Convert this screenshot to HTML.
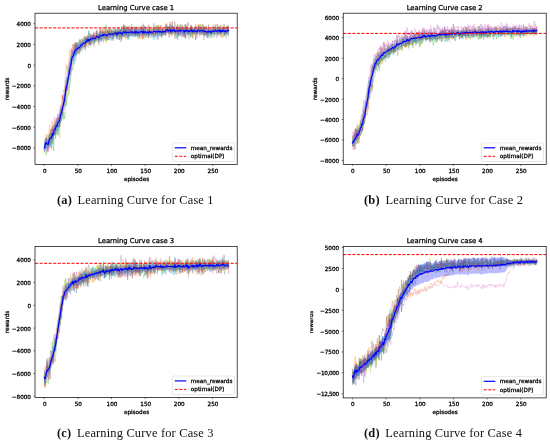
<!DOCTYPE html>
<html><head><meta charset="utf-8"><title>Learning Curves</title>
<style>
html,body{margin:0;padding:0;background:#fff;}
body{width:550px;height:444px;position:relative;overflow:hidden;}
svg{position:absolute;left:0;top:0;display:block;}
.cap{position:absolute;font-family:"Liberation Serif","DejaVu Serif",serif;font-size:11.6px;line-height:16px;letter-spacing:0.15px;color:#111;white-space:nowrap;transform-origin:0 0;}
.cap b{font-weight:bold;margin-right:2.2px;}
</style></head><body>
<svg width="550" height="444" viewBox="0 0 550 444" font-family="'DejaVu Sans', 'Liberation Sans', sans-serif" fill="#000"><style>text{stroke:#000;stroke-width:0.26px;text-rendering:geometricPrecision;}</style>
<clipPath id="clip1"><rect x="35" y="13.2" width="202.2" height="151.2"/></clipPath>
<g clip-path="url(#clip1)">
<polyline points="44.2,151.6 44.9,150 45.5,146.4 46.2,137.8 46.9,142.5 47.6,145.8 48.2,148.3 48.9,147.6 49.6,135.7 50.3,139.8 50.9,140.9 51.6,141.7 52.3,143.5 53,137.3 53.6,131.6 54.3,135.8 55,133.6 55.6,131.8 56.3,128.6 57,134.7 57.7,127.2 58.3,128.4 59,118.5 59.7,124.7 60.4,116.3 61,109.3 61.7,115.5 62.4,114 63.1,107.7 63.7,105.4 64.4,106.4 65.1,96 65.8,85.2 66.4,91.7 67.1,87.4 67.8,87 68.4,77 69.1,80.2 69.8,75.9 70.5,62.2 71.1,68.4 71.8,56.6 72.5,51.9 73.2,55 73.8,51.4 74.5,44.2 75.2,52.1 75.9,52.8 76.5,55.2 77.2,49.4 77.9,43 78.5,44.5 79.2,50.9 79.9,49.9 80.6,48.2 81.2,44.8 81.9,46.2 82.6,44.2 83.3,43.4 83.9,45 84.6,43.5 85.3,42.2 86,42.6 86.6,40.3 87.3,35.3 88,39.3 88.7,40.7 89.3,45.7 90,38.4 90.7,45.8 91.3,43.5 92,35.6 92.7,35.9 93.4,38.6 94,43.8 94.7,39.1 95.4,40.1 96.1,35.8 96.7,30.6 97.4,37.1 98.1,40.1 98.8,40.9 99.4,37.1 100.1,37.4 100.8,40.2 101.4,35.8 102.1,39.6 102.8,32.3 103.5,32.2 104.1,31.9 104.8,37.1 105.5,33.7 106.2,35.9 106.8,36.7 107.5,36.5 108.2,39.4 108.9,39.7 109.5,32 110.2,34.8 110.9,33.4 111.5,30.6 112.2,39.7 112.9,37 113.6,33.6 114.2,33 114.9,35.3 115.6,31 116.3,33.4 116.9,38 117.6,37 118.3,31.4 119,32.5 119.6,39.9 120.3,29.3 121,31.5 121.7,29.1 122.3,34.5 123,34.5 123.7,37 124.3,25.4 125,33.9 125.7,28.3 126.4,35.3 127,32.7 127.7,38.4 128.4,33.9 129.1,29.5 129.7,36.4 130.4,29.1 131.1,31.4 131.8,35.9 132.4,34.2 133.1,33.8 133.8,32.7 134.4,34.6 135.1,35.6 135.8,33.7 136.5,36 137.1,36.8 137.8,32.9 138.5,29.7 139.2,37.5 139.8,32.5 140.5,34.5 141.2,35.6 141.9,29.9 142.5,34.1 143.2,27.9 143.9,35.1 144.6,31.3 145.2,33.2 145.9,34.8 146.6,30.7 147.2,33.1 147.9,30.5 148.6,32.4 149.3,35.4 149.9,32.6 150.6,32 151.3,29.1 152,34.8 152.6,32.3 153.3,37.4 154,29.9 154.7,35.1 155.3,36.9 156,31.5 156.7,28 157.3,36.3 158,34.7 158.7,33.5 159.4,34.6 160,29.8 160.7,33.2 161.4,32.6 162.1,28.6 162.7,32.8 163.4,28.9 164.1,33.4 164.8,33.9 165.4,35.7 166.1,24.2 166.8,30.6 167.5,28.6 168.1,29.6 168.8,29.4 169.5,29.7 170.1,24.1 170.8,33.1 171.5,34.3 172.2,33 172.8,34.4 173.5,28 174.2,27.8 174.9,33.4 175.5,34.8 176.2,31.9 176.9,26.7 177.6,39.8 178.2,29.5 178.9,34.7 179.6,28.3 180.2,34.9 180.9,32.6 181.6,36.7 182.3,35 182.9,27.7 183.6,29.7 184.3,33.2 185,34.7 185.6,37.9 186.3,33.1 187,31.4 187.7,31.8 188.3,31.7 189,34.8 189.7,31.6 190.3,31.6 191,27.5 191.7,25.6 192.4,31.5 193,33.2 193.7,31.2 194.4,32.6 195.1,33.1 195.7,31.2 196.4,34.1 197.1,29.3 197.8,31.8 198.4,30.8 199.1,31.8 199.8,33.5 200.5,34.3 201.1,32.6 201.8,33.2 202.5,31 203.1,31.7 203.8,35.8 204.5,31.3 205.2,35.4 205.8,33.2 206.5,32.3 207.2,37.7 207.9,31.2 208.5,31.3 209.2,32 209.9,32.7 210.6,32.5 211.2,34 211.9,31.7 212.6,32.3 213.2,30.4 213.9,34.2 214.6,29.8 215.3,29.9 215.9,31.2 216.6,32.1 217.3,29.2 218,35.7 218.6,29.6 219.3,30.4 220,30.4 220.7,30 221.3,32.9 222,31.8 222.7,28.9 223.4,29.7 224,30.3 224.7,35.5 225.4,29.4 226,27.2 226.7,27.8 227.4,30.2 228.1,35.3 228.7,28.1" fill="none" stroke="#1f77b4" stroke-opacity="0.5" stroke-width="0.6" stroke-linejoin="round"/>
<polyline points="44.2,144.3 44.9,142.8 45.5,141.5 46.2,134.3 46.9,137.7 47.6,134.5 48.2,142.7 48.9,131.7 49.6,124.8 50.3,130.1 50.9,131.6 51.6,130.7 52.3,121.4 53,133 53.6,128.3 54.3,124.4 55,121.5 55.6,125.7 56.3,120.6 57,121.5 57.7,117.5 58.3,117.2 59,119.9 59.7,112.3 60.4,105.2 61,110.3 61.7,103.1 62.4,94.9 63.1,99.1 63.7,89.5 64.4,91.3 65.1,77.2 65.8,67.8 66.4,64.9 67.1,71.3 67.8,63.2 68.4,62.5 69.1,59.3 69.8,50.2 70.5,60 71.1,48 71.8,51.6 72.5,43.9 73.2,48 73.8,50.7 74.5,46.5 75.2,44.4 75.9,46.8 76.5,44.6 77.2,48.4 77.9,54 78.5,41.7 79.2,41.9 79.9,43.7 80.6,43.6 81.2,39.7 81.9,44.3 82.6,44.9 83.3,43 83.9,37.8 84.6,46.3 85.3,37.1 86,42.7 86.6,43.9 87.3,35.8 88,40.2 88.7,43.6 89.3,40.3 90,35.9 90.7,34.6 91.3,39.1 92,36.1 92.7,34.9 93.4,39.2 94,35.4 94.7,36.6 95.4,38.2 96.1,38 96.7,35.8 97.4,35.7 98.1,37.7 98.8,37.1 99.4,31.9 100.1,34.8 100.8,32.3 101.4,31.1 102.1,32.8 102.8,27.4 103.5,37.2 104.1,31.8 104.8,35.6 105.5,28.9 106.2,29.4 106.8,41.1 107.5,38 108.2,32.8 108.9,32.3 109.5,32.1 110.2,34.9 110.9,33.3 111.5,32.5 112.2,34.1 112.9,30.1 113.6,40.8 114.2,31.1 114.9,36.1 115.6,29.7 116.3,33.7 116.9,35.5 117.6,31.4 118.3,35.3 119,35.3 119.6,37 120.3,31.9 121,30.1 121.7,28.2 122.3,32.1 123,28.2 123.7,31.6 124.3,31.6 125,29.2 125.7,27.6 126.4,32.6 127,32.4 127.7,32.2 128.4,31.5 129.1,35 129.7,28.8 130.4,33.6 131.1,30.8 131.8,34.9 132.4,31.1 133.1,30.6 133.8,33.4 134.4,26.1 135.1,31.5 135.8,27.3 136.5,29.6 137.1,34.8 137.8,34.1 138.5,31.5 139.2,33 139.8,32.9 140.5,33.7 141.2,38.6 141.9,33.5 142.5,39.7 143.2,31.5 143.9,35.2 144.6,34.8 145.2,33.1 145.9,31.3 146.6,36.6 147.2,37.7 147.9,35.7 148.6,38.2 149.3,34.7 149.9,26.5 150.6,34.8 151.3,29.4 152,35.5 152.6,30.3 153.3,32.1 154,31.4 154.7,29.1 155.3,25.3 156,30.2 156.7,30.2 157.3,33.4 158,28.5 158.7,31.1 159.4,27.8 160,30.8 160.7,25.4 161.4,36.8 162.1,31.5 162.7,28 163.4,31.9 164.1,33 164.8,31.6 165.4,35.1 166.1,30.5 166.8,23.2 167.5,26.9 168.1,33.6 168.8,33.4 169.5,31.8 170.1,27.5 170.8,33.2 171.5,32.8 172.2,28 172.8,28.3 173.5,32.3 174.2,34.8 174.9,36.2 175.5,33.8 176.2,38.3 176.9,29 177.6,33.1 178.2,30.2 178.9,25.8 179.6,27.9 180.2,35.1 180.9,29 181.6,28.3 182.3,34.5 182.9,34.8 183.6,32.4 184.3,36.8 185,27.4 185.6,39.1 186.3,35 187,32.1 187.7,31.8 188.3,30.4 189,29.9 189.7,31.6 190.3,27.6 191,37.7 191.7,31.2 192.4,33.3 193,30.5 193.7,30.1 194.4,33.5 195.1,32.9 195.7,28.6 196.4,29.7 197.1,32.9 197.8,24.8 198.4,24.1 199.1,35.3 199.8,30.3 200.5,23.7 201.1,28.9 201.8,30.3 202.5,31.8 203.1,32.9 203.8,31.9 204.5,32.7 205.2,29 205.8,32.5 206.5,32.5 207.2,35.1 207.9,31.8 208.5,34.2 209.2,32.2 209.9,28.8 210.6,30.8 211.2,30.3 211.9,30.8 212.6,31.8 213.2,32.5 213.9,32.8 214.6,29.6 215.3,35.2 215.9,28.6 216.6,32.2 217.3,34.5 218,33.8 218.6,34.6 219.3,31.8 220,34.3 220.7,28.7 221.3,34.3 222,38.4 222.7,33.9 223.4,37.4 224,31.1 224.7,27.8 225.4,29.1 226,34.9 226.7,32.9 227.4,25.3 228.1,29.7 228.7,30.9" fill="none" stroke="#ff7f0e" stroke-opacity="0.5" stroke-width="0.6" stroke-linejoin="round"/>
<polyline points="44.2,152.2 44.9,147.2 45.5,145.7 46.2,155.1 46.9,151.5 47.6,149.8 48.2,139.8 48.9,134.7 49.6,139.1 50.3,145 50.9,135.2 51.6,149.3 52.3,133.4 53,142.3 53.6,151 54.3,124.2 55,128.1 55.6,138.9 56.3,131.7 57,132.2 57.7,129.2 58.3,135.4 59,130.4 59.7,123.5 60.4,123 61,116.8 61.7,120.4 62.4,107.8 63.1,119.3 63.7,112.1 64.4,119.1 65.1,113.9 65.8,99 66.4,105.6 67.1,95.8 67.8,94.6 68.4,95.2 69.1,88.3 69.8,85.4 70.5,81.5 71.1,72 71.8,68.6 72.5,70.1 73.2,68 73.8,59.9 74.5,58.7 75.2,51.6 75.9,43 76.5,48.8 77.2,50.9 77.9,50.7 78.5,52.9 79.2,52.4 79.9,52.1 80.6,49.5 81.2,48.6 81.9,43.9 82.6,47.6 83.3,46.2 83.9,48.6 84.6,38.5 85.3,41.8 86,37.2 86.6,40.1 87.3,37.3 88,42.3 88.7,38.4 89.3,31.3 90,43.6 90.7,35.3 91.3,33.6 92,37.5 92.7,35.7 93.4,33.7 94,39.5 94.7,35.6 95.4,40 96.1,39 96.7,38.3 97.4,36.6 98.1,35.4 98.8,34 99.4,39.9 100.1,28.6 100.8,31.3 101.4,32.7 102.1,36.4 102.8,35.5 103.5,33.1 104.1,33.7 104.8,40.7 105.5,31.9 106.2,24.6 106.8,40.5 107.5,30.8 108.2,32.8 108.9,34.4 109.5,29.1 110.2,37.7 110.9,33.4 111.5,28.9 112.2,34.3 112.9,35.2 113.6,33.3 114.2,34.7 114.9,27.5 115.6,35.6 116.3,29.2 116.9,36.2 117.6,29.9 118.3,32.2 119,40 119.6,31.5 120.3,34.9 121,32.7 121.7,26.2 122.3,35 123,34.5 123.7,26.2 124.3,30.4 125,25.4 125.7,29.2 126.4,33.2 127,30.6 127.7,26.5 128.4,27.7 129.1,30.9 129.7,30.7 130.4,31.2 131.1,32.6 131.8,24.1 132.4,30.4 133.1,34.2 133.8,32.2 134.4,28.3 135.1,28.4 135.8,30.9 136.5,32.7 137.1,30.3 137.8,36.2 138.5,35 139.2,28.4 139.8,32.7 140.5,29.8 141.2,26.8 141.9,28.4 142.5,30.4 143.2,23.6 143.9,28.3 144.6,31.6 145.2,28.1 145.9,29.7 146.6,34 147.2,31 147.9,31.5 148.6,37.2 149.3,31.4 149.9,31.8 150.6,32.1 151.3,35.9 152,31.5 152.6,30.5 153.3,30.2 154,34 154.7,28.1 155.3,33.8 156,30.6 156.7,25.4 157.3,32 158,31.1 158.7,26.3 159.4,31 160,30.3 160.7,28.4 161.4,25.7 162.1,36.2 162.7,31.9 163.4,32.7 164.1,32.7 164.8,32.2 165.4,32.6 166.1,29.1 166.8,32.9 167.5,29.7 168.1,29.1 168.8,33.3 169.5,30.6 170.1,26 170.8,29.9 171.5,32.9 172.2,31.4 172.8,33.7 173.5,30 174.2,28.2 174.9,33.3 175.5,31.5 176.2,27.6 176.9,32.7 177.6,30.3 178.2,34.1 178.9,33.5 179.6,32.5 180.2,24.1 180.9,31.8 181.6,32 182.3,31.8 182.9,30.3 183.6,28.1 184.3,29.6 185,24.1 185.6,29.6 186.3,26 187,29.7 187.7,28.6 188.3,34.5 189,31.1 189.7,30.5 190.3,31 191,36.5 191.7,27.2 192.4,30.9 193,30.9 193.7,30.3 194.4,30.3 195.1,28.5 195.7,33.8 196.4,32.5 197.1,28.8 197.8,28.8 198.4,30.4 199.1,30.8 199.8,31.3 200.5,28.5 201.1,24.8 201.8,31.7 202.5,24.3 203.1,26.3 203.8,30.8 204.5,26.9 205.2,33.9 205.8,34.9 206.5,33.7 207.2,30.9 207.9,30.3 208.5,31 209.2,28.9 209.9,35.3 210.6,28 211.2,33.6 211.9,31.8 212.6,31 213.2,33.5 213.9,34.4 214.6,33.3 215.3,30.5 215.9,28.5 216.6,28.7 217.3,33.2 218,32.5 218.6,32.7 219.3,28.3 220,35.5 220.7,26 221.3,31.2 222,32.3 222.7,28.9 223.4,27 224,28.9 224.7,26.7 225.4,29.6 226,26.3 226.7,26.5 227.4,30.3 228.1,26.1 228.7,30" fill="none" stroke="#2ca02c" stroke-opacity="0.5" stroke-width="0.6" stroke-linejoin="round"/>
<polyline points="44.2,148.2 44.9,143 45.5,149.6 46.2,137.6 46.9,138.7 47.6,142.4 48.2,150.7 48.9,145 49.6,134 50.3,129.6 50.9,134.7 51.6,128.5 52.3,135.3 53,131.9 53.6,129.6 54.3,126.5 55,134.2 55.6,121.6 56.3,118.2 57,128.7 57.7,127.4 58.3,117.6 59,120.9 59.7,126.3 60.4,108.9 61,109.5 61.7,109.8 62.4,95.3 63.1,101 63.7,101.4 64.4,93.7 65.1,95.1 65.8,90.1 66.4,81.5 67.1,82.1 67.8,77.8 68.4,64.7 69.1,64.6 69.8,61 70.5,59 71.1,56.4 71.8,50 72.5,54.1 73.2,44.5 73.8,55 74.5,51.6 75.2,55.5 75.9,50.2 76.5,46.3 77.2,42.7 77.9,50 78.5,46.9 79.2,47.9 79.9,49 80.6,50.1 81.2,45.2 81.9,50.9 82.6,43.9 83.3,44.1 83.9,45.9 84.6,46.9 85.3,47.6 86,36.4 86.6,46.7 87.3,37 88,39.6 88.7,42.5 89.3,44.6 90,37.2 90.7,34.3 91.3,42.6 92,40.4 92.7,35.7 93.4,37.6 94,31.9 94.7,40 95.4,35.7 96.1,41.2 96.7,30.1 97.4,38.5 98.1,43.2 98.8,36.1 99.4,35.7 100.1,29 100.8,36 101.4,34.3 102.1,32.5 102.8,29.1 103.5,34.3 104.1,30.6 104.8,32.6 105.5,35 106.2,34.1 106.8,34.1 107.5,37.2 108.2,30.1 108.9,38.3 109.5,30.4 110.2,30.9 110.9,34.2 111.5,36.7 112.2,35.1 112.9,32.8 113.6,31.9 114.2,33.2 114.9,31 115.6,35.9 116.3,33.1 116.9,38.5 117.6,31.1 118.3,33.1 119,34.7 119.6,29.6 120.3,30.6 121,41.8 121.7,32.4 122.3,37 123,28.8 123.7,24 124.3,33.6 125,31.6 125.7,32.5 126.4,30.2 127,29.1 127.7,26.9 128.4,33.9 129.1,25.6 129.7,33.7 130.4,30 131.1,27.1 131.8,28.5 132.4,33.8 133.1,33.2 133.8,32.5 134.4,31 135.1,27.2 135.8,34.9 136.5,29.6 137.1,29.1 137.8,29.2 138.5,29.3 139.2,26.1 139.8,29.2 140.5,28.1 141.2,29.1 141.9,25.4 142.5,37.1 143.2,27.5 143.9,32.2 144.6,32.1 145.2,34.6 145.9,37.5 146.6,32.5 147.2,33.3 147.9,29.4 148.6,35.6 149.3,26.6 149.9,30.2 150.6,31.7 151.3,33.2 152,33.5 152.6,34.8 153.3,32.7 154,31 154.7,31.6 155.3,35.3 156,31.7 156.7,33.7 157.3,30.1 158,24.9 158.7,28.9 159.4,31.7 160,35.7 160.7,34.9 161.4,35.6 162.1,28.2 162.7,33 163.4,30 164.1,32.2 164.8,29.9 165.4,25.8 166.1,32.2 166.8,30.9 167.5,32.4 168.1,27 168.8,32.9 169.5,33.1 170.1,34 170.8,33.7 171.5,27.9 172.2,21.4 172.8,32.1 173.5,26 174.2,28.2 174.9,32.7 175.5,30.5 176.2,30.4 176.9,31.8 177.6,24.2 178.2,36 178.9,29.1 179.6,29.4 180.2,32.1 180.9,29.9 181.6,27.9 182.3,30.4 182.9,29.5 183.6,28.7 184.3,37 185,26.6 185.6,24.3 186.3,28.1 187,28.1 187.7,35.6 188.3,31.5 189,33.6 189.7,32.9 190.3,28.2 191,33.5 191.7,31.4 192.4,36.5 193,31 193.7,30.3 194.4,32.9 195.1,32.9 195.7,24.7 196.4,34 197.1,33.6 197.8,33.1 198.4,27 199.1,24.5 199.8,29.7 200.5,33.1 201.1,32.4 201.8,27.8 202.5,33.9 203.1,26.8 203.8,26.7 204.5,30.6 205.2,29 205.8,28.7 206.5,26.6 207.2,34.2 207.9,27.4 208.5,32.1 209.2,33.4 209.9,31 210.6,31.8 211.2,33.6 211.9,35.2 212.6,33.3 213.2,26 213.9,24.7 214.6,28.4 215.3,26.7 215.9,31.4 216.6,30.1 217.3,29.3 218,33.5 218.6,33.3 219.3,30.2 220,31.6 220.7,33.7 221.3,29.7 222,31.7 222.7,27.9 223.4,30.8 224,31.9 224.7,30.8 225.4,32.1 226,33.8 226.7,32.9 227.4,29.7 228.1,29.9 228.7,28" fill="none" stroke="#d62728" stroke-opacity="0.5" stroke-width="0.6" stroke-linejoin="round"/>
<polyline points="44.2,152.1 44.9,148.8 45.5,140.5 46.2,143.8 46.9,152.2 47.6,143.5 48.2,145.3 48.9,146.9 49.6,139.8 50.3,142.8 50.9,147 51.6,143.7 52.3,128.6 53,142.9 53.6,133.1 54.3,129.6 55,128 55.6,135.2 56.3,129.7 57,126.1 57.7,121.4 58.3,126.4 59,126.3 59.7,114.5 60.4,111.2 61,112.5 61.7,114.9 62.4,107.4 63.1,105.4 63.7,98.5 64.4,104.4 65.1,94 65.8,91.2 66.4,91.3 67.1,81.7 67.8,78.9 68.4,77.6 69.1,70.4 69.8,74.9 70.5,65.6 71.1,60.6 71.8,58.7 72.5,53 73.2,60.8 73.8,60.2 74.5,52 75.2,49.6 75.9,42 76.5,47.6 77.2,53 77.9,46.6 78.5,52.4 79.2,54.6 79.9,38.8 80.6,46.7 81.2,44.7 81.9,44.5 82.6,39.3 83.3,44 83.9,40.6 84.6,47.6 85.3,48.4 86,38.2 86.6,37.4 87.3,39.8 88,40.6 88.7,40.6 89.3,43.5 90,35.9 90.7,38.5 91.3,38.6 92,38.4 92.7,35.7 93.4,37.3 94,36.5 94.7,42.6 95.4,37.1 96.1,31.3 96.7,40.1 97.4,38.8 98.1,35.1 98.8,34.9 99.4,35.4 100.1,42.9 100.8,35.9 101.4,41.2 102.1,39.9 102.8,35.4 103.5,38 104.1,34.4 104.8,26.8 105.5,34.4 106.2,34.4 106.8,39.6 107.5,38.8 108.2,40 108.9,38.2 109.5,39.8 110.2,38.3 110.9,36.7 111.5,39.3 112.2,40.6 112.9,40.1 113.6,34.2 114.2,35.3 114.9,32.2 115.6,32.1 116.3,35.8 116.9,32.4 117.6,39.1 118.3,26.9 119,30.5 119.6,35.1 120.3,38.2 121,33.1 121.7,40.2 122.3,36.9 123,31.9 123.7,34 124.3,35.9 125,31.3 125.7,37.7 126.4,33.4 127,35.7 127.7,36.6 128.4,32.2 129.1,36.7 129.7,27.4 130.4,35.4 131.1,27 131.8,36.6 132.4,31.3 133.1,36.5 133.8,37 134.4,32 135.1,30.5 135.8,36.7 136.5,29.1 137.1,35.4 137.8,32.7 138.5,31.8 139.2,31.1 139.8,38.7 140.5,27.7 141.2,31 141.9,34.4 142.5,36.1 143.2,37.9 143.9,37.2 144.6,31.2 145.2,34.1 145.9,36.6 146.6,34.6 147.2,28.1 147.9,34.1 148.6,35.1 149.3,29.1 149.9,31.8 150.6,33 151.3,35 152,37.6 152.6,36.4 153.3,34.1 154,33.3 154.7,31.7 155.3,31.3 156,32.3 156.7,32.6 157.3,36.5 158,39.9 158.7,34.9 159.4,36.3 160,35.3 160.7,34.3 161.4,37 162.1,36.4 162.7,33.1 163.4,32.3 164.1,34.6 164.8,30.7 165.4,32.6 166.1,35.1 166.8,31.7 167.5,26 168.1,33.4 168.8,27.6 169.5,27.2 170.1,26.6 170.8,33.6 171.5,25.2 172.2,31 172.8,32.2 173.5,31.9 174.2,29.4 174.9,31.2 175.5,32 176.2,27.6 176.9,33.5 177.6,34.6 178.2,29.4 178.9,29.8 179.6,28.8 180.2,35.5 180.9,29.3 181.6,31.1 182.3,27.2 182.9,36.6 183.6,31.7 184.3,33.4 185,37.1 185.6,34.2 186.3,28.6 187,33.2 187.7,34.2 188.3,29.5 189,28.8 189.7,29 190.3,34.5 191,32.3 191.7,28.9 192.4,33.8 193,34 193.7,29.5 194.4,27.4 195.1,35.3 195.7,39.7 196.4,36.5 197.1,34.8 197.8,32.4 198.4,30 199.1,32.5 199.8,34.4 200.5,31.8 201.1,35.4 201.8,32.6 202.5,34.2 203.1,24.5 203.8,30.1 204.5,34.8 205.2,35.7 205.8,33.9 206.5,37.4 207.2,34.9 207.9,34.6 208.5,29.5 209.2,33.4 209.9,34.3 210.6,35.9 211.2,35.7 211.9,32.3 212.6,32.9 213.2,29.1 213.9,34.2 214.6,29.1 215.3,31.1 215.9,32.1 216.6,37.8 217.3,35.7 218,29.5 218.6,27.5 219.3,30.9 220,29.1 220.7,32.4 221.3,32.4 222,33.2 222.7,28.6 223.4,30.4 224,32.7 224.7,32.8 225.4,30.1 226,30.7 226.7,33.8 227.4,26.1 228.1,30.4 228.7,31.2" fill="none" stroke="#9467bd" stroke-opacity="0.5" stroke-width="0.6" stroke-linejoin="round"/>
<polyline points="44.2,139.4 44.9,147 45.5,142.1 46.2,137.4 46.9,137.6 47.6,144.7 48.2,142.8 48.9,141 49.6,145.9 50.3,137.1 50.9,133.5 51.6,139.5 52.3,126.3 53,136.2 53.6,134.2 54.3,133.6 55,134.3 55.6,127.2 56.3,127.6 57,118.7 57.7,122.1 58.3,121.2 59,123.1 59.7,127.3 60.4,119.6 61,120.7 61.7,110.4 62.4,113 63.1,102.6 63.7,104.3 64.4,101 65.1,99.7 65.8,96.4 66.4,90.9 67.1,85.8 67.8,89.8 68.4,80 69.1,67.2 69.8,75.4 70.5,72.9 71.1,71.1 71.8,71.1 72.5,56.2 73.2,58.2 73.8,54.6 74.5,46.4 75.2,42.4 75.9,54.5 76.5,45.4 77.2,46.1 77.9,46 78.5,45.2 79.2,46.5 79.9,39.7 80.6,42.6 81.2,42.8 81.9,39.1 82.6,40 83.3,40.7 83.9,40.8 84.6,35.5 85.3,39.1 86,40.7 86.6,42.9 87.3,40.8 88,42.9 88.7,38.4 89.3,37.7 90,45.1 90.7,38.4 91.3,36 92,37.4 92.7,40.9 93.4,33.6 94,39.9 94.7,41.9 95.4,41.3 96.1,37.4 96.7,33.8 97.4,32.9 98.1,35.8 98.8,40.1 99.4,38.3 100.1,38.8 100.8,36.1 101.4,40.8 102.1,34.4 102.8,32.4 103.5,34.5 104.1,32.2 104.8,36.4 105.5,38.2 106.2,35.6 106.8,29.4 107.5,29.4 108.2,34.3 108.9,28.5 109.5,33.4 110.2,27.7 110.9,31.2 111.5,34.7 112.2,30.5 112.9,35.6 113.6,36.1 114.2,37.5 114.9,32 115.6,33.3 116.3,33.2 116.9,34.4 117.6,28.6 118.3,34.8 119,35.8 119.6,29.3 120.3,28.7 121,32.5 121.7,38.9 122.3,35.1 123,31.5 123.7,33.3 124.3,28 125,36.9 125.7,30.3 126.4,34.3 127,28.1 127.7,32.7 128.4,29.3 129.1,34.7 129.7,36.7 130.4,35.6 131.1,33.8 131.8,34.8 132.4,27.6 133.1,27 133.8,30.5 134.4,34.6 135.1,31.5 135.8,33.8 136.5,26.8 137.1,30.2 137.8,29.7 138.5,32.6 139.2,37.6 139.8,33.8 140.5,34.9 141.2,29.7 141.9,30.4 142.5,33.1 143.2,31.6 143.9,25.3 144.6,33.5 145.2,33.3 145.9,31.2 146.6,32.6 147.2,31.9 147.9,28.5 148.6,24.6 149.3,35.6 149.9,30 150.6,29.9 151.3,30.2 152,30.5 152.6,31 153.3,26.8 154,31 154.7,30.2 155.3,30 156,29.7 156.7,30.5 157.3,27 158,30.3 158.7,29.5 159.4,30.3 160,33.1 160.7,32.4 161.4,33.4 162.1,29.6 162.7,32.2 163.4,33.4 164.1,29.5 164.8,28.2 165.4,35.2 166.1,24.3 166.8,29.1 167.5,29.7 168.1,26 168.8,28.8 169.5,30.8 170.1,22 170.8,32.1 171.5,29.1 172.2,26 172.8,31.7 173.5,28.8 174.2,27.4 174.9,21.5 175.5,31.3 176.2,28.8 176.9,26.8 177.6,28.5 178.2,32.2 178.9,27.4 179.6,28.3 180.2,27.2 180.9,25.2 181.6,25.2 182.3,26.9 182.9,27.3 183.6,31.7 184.3,29.3 185,28.2 185.6,30.1 186.3,28.5 187,31.6 187.7,24.1 188.3,22.2 189,29.8 189.7,27.7 190.3,29.5 191,24.9 191.7,27.3 192.4,28.4 193,29.6 193.7,28.4 194.4,32 195.1,26.8 195.7,31.3 196.4,27.5 197.1,28.8 197.8,26 198.4,29.2 199.1,25.9 199.8,31.6 200.5,27.3 201.1,29.7 201.8,28.7 202.5,29 203.1,26.6 203.8,35.1 204.5,27.9 205.2,33.3 205.8,25.4 206.5,35 207.2,32.1 207.9,34.1 208.5,24.4 209.2,33.1 209.9,29.1 210.6,31.2 211.2,35.1 211.9,30.5 212.6,27.3 213.2,29.7 213.9,26.6 214.6,30.4 215.3,29.2 215.9,30.4 216.6,28.4 217.3,24 218,28.4 218.6,29.1 219.3,31.6 220,31.8 220.7,25 221.3,32.4 222,31.9 222.7,29.7 223.4,30.5 224,23.5 224.7,36 225.4,27.9 226,27.1 226.7,32.7 227.4,31.8 228.1,28.5 228.7,24.9" fill="none" stroke="#8c564b" stroke-opacity="0.5" stroke-width="0.6" stroke-linejoin="round"/>
<polyline points="44.2,152.1 44.9,146.2 45.5,138.7 46.2,148.2 46.9,142.8 47.6,144.7 48.2,152.2 48.9,138.1 49.6,136 50.3,142.1 50.9,132.4 51.6,137.8 52.3,137.5 53,130.7 53.6,132 54.3,116.6 55,133.4 55.6,121 56.3,118.2 57,130.4 57.7,127.5 58.3,115.1 59,118.1 59.7,111.8 60.4,105.9 61,109.9 61.7,110.3 62.4,114.3 63.1,97.8 63.7,99.3 64.4,89.8 65.1,86.6 65.8,90.1 66.4,72.9 67.1,72.3 67.8,70.4 68.4,76.2 69.1,69.4 69.8,66.4 70.5,62.9 71.1,63.6 71.8,54.7 72.5,53.8 73.2,51.6 73.8,54.3 74.5,46.4 75.2,50.2 75.9,60.9 76.5,52.1 77.2,49 77.9,44.3 78.5,48.7 79.2,47.9 79.9,49.2 80.6,43.5 81.2,46.9 81.9,46.9 82.6,46.9 83.3,41.9 83.9,45.4 84.6,48.8 85.3,40.8 86,44.7 86.6,40.9 87.3,40.6 88,37.2 88.7,37.3 89.3,42.3 90,40.7 90.7,44.4 91.3,34.5 92,38.6 92.7,35.3 93.4,40.7 94,45.6 94.7,33.5 95.4,38.2 96.1,37.6 96.7,38 97.4,35.8 98.1,35.7 98.8,42.3 99.4,33.3 100.1,38.7 100.8,38.1 101.4,30.6 102.1,33.5 102.8,37.5 103.5,42.3 104.1,35.5 104.8,34.1 105.5,36.3 106.2,40.1 106.8,38.3 107.5,39.8 108.2,35.1 108.9,33.3 109.5,32.2 110.2,37.7 110.9,34.2 111.5,33.3 112.2,36.8 112.9,35.6 113.6,28.2 114.2,34.3 114.9,32.1 115.6,36.1 116.3,34.4 116.9,39.8 117.6,34.5 118.3,30.6 119,27.7 119.6,30.3 120.3,31.7 121,33.7 121.7,35.6 122.3,34 123,31.4 123.7,36 124.3,30.4 125,36.4 125.7,38.8 126.4,36.1 127,38.2 127.7,37.2 128.4,29 129.1,33.3 129.7,32 130.4,29.3 131.1,29.2 131.8,34.4 132.4,28.5 133.1,31.4 133.8,32.5 134.4,31.1 135.1,37.1 135.8,35 136.5,32.9 137.1,30.7 137.8,33.3 138.5,32.5 139.2,29.2 139.8,27.9 140.5,29.9 141.2,28.2 141.9,33.3 142.5,32.9 143.2,30.9 143.9,32.9 144.6,33.3 145.2,26.5 145.9,32.8 146.6,35.2 147.2,30.6 147.9,26.4 148.6,32.2 149.3,28.6 149.9,33.8 150.6,34.1 151.3,34.8 152,33.6 152.6,27.3 153.3,36.8 154,28.1 154.7,36.6 155.3,34.3 156,30.9 156.7,31.6 157.3,32.5 158,38.6 158.7,32 159.4,36.1 160,24.6 160.7,33.3 161.4,32.1 162.1,36.1 162.7,33.8 163.4,36.3 164.1,29.3 164.8,33.1 165.4,30.3 166.1,34 166.8,33.5 167.5,27.7 168.1,34.5 168.8,36.9 169.5,29.9 170.1,34.6 170.8,32.2 171.5,28 172.2,33.1 172.8,28.5 173.5,33.3 174.2,26.9 174.9,27.2 175.5,32.6 176.2,32.1 176.9,34 177.6,30.8 178.2,27.7 178.9,35.5 179.6,28.6 180.2,35.2 180.9,33.9 181.6,36.4 182.3,24.6 182.9,30.9 183.6,30.3 184.3,33 185,28 185.6,37.5 186.3,31.2 187,24 187.7,32 188.3,31 189,28.9 189.7,33.2 190.3,30.3 191,27.1 191.7,29.4 192.4,29.1 193,31.3 193.7,29.2 194.4,30.3 195.1,26 195.7,28.8 196.4,31.7 197.1,38.2 197.8,28.5 198.4,28.5 199.1,33.4 199.8,36.8 200.5,34.3 201.1,28.5 201.8,34.6 202.5,32.4 203.1,30.4 203.8,27.7 204.5,31.7 205.2,32 205.8,33.4 206.5,26.9 207.2,28.6 207.9,32.1 208.5,35.8 209.2,33.9 209.9,29.6 210.6,33.7 211.2,28.8 211.9,30.8 212.6,31 213.2,29.8 213.9,30.3 214.6,33.9 215.3,32.1 215.9,24 216.6,34.7 217.3,32.7 218,28 218.6,31.4 219.3,33.3 220,34.5 220.7,29.1 221.3,27.6 222,26.3 222.7,30.2 223.4,27.5 224,33.6 224.7,29.8 225.4,32.6 226,29.9 226.7,28.6 227.4,27.5 228.1,33.8 228.7,27.3" fill="none" stroke="#e377c2" stroke-opacity="0.5" stroke-width="0.6" stroke-linejoin="round"/>
<polyline points="44.2,145.5 44.9,142.2 45.5,140.5 46.2,144.9 46.9,146 47.6,142.2 48.2,144.6 48.9,139.2 49.6,134.4 50.3,134 50.9,138.4 51.6,141.2 52.3,133.7 53,132.6 53.6,125.5 54.3,131.1 55,128.4 55.6,122.5 56.3,126.9 57,124.2 57.7,113.6 58.3,113.3 59,115.4 59.7,114.9 60.4,118.4 61,108.9 61.7,108.1 62.4,104.2 63.1,104 63.7,98.1 64.4,95.1 65.1,89 65.8,80.2 66.4,81.2 67.1,86.3 67.8,79.2 68.4,78.1 69.1,71.1 69.8,62.4 70.5,59.5 71.1,60.4 71.8,54.3 72.5,56.6 73.2,58 73.8,56.8 74.5,53.5 75.2,43.3 75.9,54.1 76.5,43.1 77.2,42.1 77.9,47.8 78.5,46.8 79.2,48.6 79.9,46.1 80.6,43.2 81.2,45.1 81.9,41.1 82.6,40.2 83.3,42.6 83.9,41.6 84.6,42.5 85.3,41 86,45.6 86.6,40.3 87.3,40.3 88,43.4 88.7,32.9 89.3,42.6 90,41.8 90.7,37.9 91.3,44.9 92,40.9 92.7,43.3 93.4,41.2 94,38.1 94.7,36.2 95.4,33.5 96.1,34.1 96.7,32.3 97.4,34 98.1,37.6 98.8,32.3 99.4,37.3 100.1,37.6 100.8,30.2 101.4,32.4 102.1,34.1 102.8,32.1 103.5,31.7 104.1,39.1 104.8,34.9 105.5,38.7 106.2,34 106.8,36.4 107.5,29.6 108.2,32 108.9,36.2 109.5,33.4 110.2,37.6 110.9,33.4 111.5,31.8 112.2,32.4 112.9,39.4 113.6,34.2 114.2,30.9 114.9,31.5 115.6,28.6 116.3,36.6 116.9,30.8 117.6,34.8 118.3,31.9 119,31.3 119.6,30.2 120.3,34 121,31.7 121.7,36.1 122.3,37 123,30.7 123.7,32.6 124.3,37.3 125,35.1 125.7,32.2 126.4,27.3 127,29.1 127.7,29.9 128.4,38.6 129.1,33.2 129.7,31.4 130.4,31.5 131.1,31.3 131.8,33.6 132.4,27.5 133.1,28.6 133.8,33.6 134.4,36.6 135.1,26.8 135.8,35 136.5,29.2 137.1,27.2 137.8,36.3 138.5,32.6 139.2,34.2 139.8,31.9 140.5,32.6 141.2,27.2 141.9,31.4 142.5,33.1 143.2,29.6 143.9,33.9 144.6,34 145.2,26 145.9,35.2 146.6,33.9 147.2,31.8 147.9,35 148.6,38.3 149.3,28.6 149.9,34.2 150.6,33.3 151.3,32.6 152,34.2 152.6,34 153.3,30.6 154,23.1 154.7,28.3 155.3,28.5 156,35.5 156.7,30.5 157.3,34.2 158,28.3 158.7,31.8 159.4,30.8 160,31.3 160.7,32.8 161.4,36 162.1,29.7 162.7,35.5 163.4,34.7 164.1,31.9 164.8,33.3 165.4,30.5 166.1,28.4 166.8,30.9 167.5,30.9 168.1,31.3 168.8,29 169.5,37.5 170.1,31 170.8,35.2 171.5,35.9 172.2,31.9 172.8,32.9 173.5,30 174.2,28.2 174.9,38.8 175.5,31.7 176.2,25.5 176.9,29.2 177.6,27.5 178.2,31.5 178.9,36.3 179.6,35.3 180.2,29.6 180.9,29 181.6,34 182.3,32.8 182.9,31 183.6,37.3 184.3,32.9 185,27.1 185.6,25.7 186.3,32.6 187,26.7 187.7,34.1 188.3,34.9 189,39.1 189.7,29.6 190.3,33.5 191,25.3 191.7,31.5 192.4,32.3 193,38.3 193.7,28.3 194.4,34 195.1,33.4 195.7,39.8 196.4,30.4 197.1,30.1 197.8,34.3 198.4,32.3 199.1,31.3 199.8,29.4 200.5,32.1 201.1,27.5 201.8,33.1 202.5,34.1 203.1,33.8 203.8,39.8 204.5,34.6 205.2,29.1 205.8,31.3 206.5,34.5 207.2,30.8 207.9,37.9 208.5,32.6 209.2,30.1 209.9,29.3 210.6,33.6 211.2,28.7 211.9,26 212.6,32.7 213.2,29 213.9,35.8 214.6,37.1 215.3,29.4 215.9,31.4 216.6,31.2 217.3,33.5 218,32.6 218.6,29.7 219.3,27 220,32.7 220.7,36.9 221.3,28.4 222,30.5 222.7,30.2 223.4,31.8 224,25.7 224.7,32.6 225.4,31.2 226,38.2 226.7,34.4 227.4,34.8 228.1,32.9 228.7,31.6" fill="none" stroke="#7f7f7f" stroke-opacity="0.5" stroke-width="0.6" stroke-linejoin="round"/>
<polyline points="44.2,153.3 44.9,145.2 45.5,146.8 46.2,143.4 46.9,144.3 47.6,149.7 48.2,146.7 48.9,141.5 49.6,147.8 50.3,130.8 50.9,144.6 51.6,144.7 52.3,134.7 53,135 53.6,137.2 54.3,136.7 55,132.4 55.6,128.7 56.3,127.3 57,130.3 57.7,125.8 58.3,122 59,121.2 59.7,137.4 60.4,125.5 61,123.2 61.7,119.1 62.4,114.4 63.1,108.9 63.7,108.3 64.4,109 65.1,105.8 65.8,94.9 66.4,101.9 67.1,94.4 67.8,85.3 68.4,86.9 69.1,93.7 69.8,79 70.5,78.7 71.1,74 71.8,65.7 72.5,65.4 73.2,65.2 73.8,57.4 74.5,56.8 75.2,55.9 75.9,53.4 76.5,52.5 77.2,54.2 77.9,53.4 78.5,50.9 79.2,53.6 79.9,53.6 80.6,43.7 81.2,48.6 81.9,47.3 82.6,47.2 83.3,45.8 83.9,44.7 84.6,43.9 85.3,46.4 86,40.2 86.6,44.7 87.3,38.6 88,48 88.7,45 89.3,38.1 90,41.1 90.7,42.4 91.3,38.4 92,43 92.7,39.2 93.4,46.9 94,40.9 94.7,41.2 95.4,37.1 96.1,35.6 96.7,41.1 97.4,32.9 98.1,40.8 98.8,45.4 99.4,46.1 100.1,32.7 100.8,38 101.4,39.5 102.1,39.3 102.8,40 103.5,31.9 104.1,36.6 104.8,30.5 105.5,36.5 106.2,43.4 106.8,32.6 107.5,36.3 108.2,35.4 108.9,29.5 109.5,35.4 110.2,30.7 110.9,34.1 111.5,36.4 112.2,32.1 112.9,35.6 113.6,30 114.2,31 114.9,33.9 115.6,32.2 116.3,32.6 116.9,35.6 117.6,31.4 118.3,34.7 119,32 119.6,37.4 120.3,33.7 121,33.1 121.7,37.1 122.3,36.1 123,36.4 123.7,32.2 124.3,36.8 125,33.4 125.7,30 126.4,33.5 127,39.9 127.7,34.2 128.4,31.4 129.1,35.5 129.7,30.8 130.4,32.1 131.1,32.8 131.8,35.1 132.4,36.1 133.1,35.1 133.8,34.1 134.4,32.7 135.1,33 135.8,35.2 136.5,34 137.1,32.9 137.8,39.6 138.5,36.9 139.2,36.7 139.8,34.7 140.5,35.1 141.2,34.8 141.9,36.6 142.5,31.3 143.2,32.2 143.9,38.4 144.6,33.3 145.2,36.7 145.9,27.8 146.6,34.6 147.2,34.3 147.9,32.8 148.6,33.5 149.3,32.7 149.9,27.5 150.6,31.6 151.3,29.8 152,28.5 152.6,35 153.3,26.8 154,29.9 154.7,28.7 155.3,34.2 156,29.1 156.7,30.6 157.3,33.7 158,24.8 158.7,30.1 159.4,32.2 160,30.9 160.7,28.4 161.4,27.8 162.1,29.3 162.7,27.5 163.4,26.8 164.1,35.1 164.8,32.7 165.4,34.4 166.1,31.1 166.8,27 167.5,29.1 168.1,34.2 168.8,32 169.5,27.9 170.1,32.4 170.8,31 171.5,29.8 172.2,36.2 172.8,28.1 173.5,29.5 174.2,28.8 174.9,33.7 175.5,32.9 176.2,32.5 176.9,29.9 177.6,30.1 178.2,29.7 178.9,24.9 179.6,26 180.2,32.2 180.9,31.8 181.6,24.8 182.3,31 182.9,26.1 183.6,25.6 184.3,32.1 185,31.3 185.6,29.8 186.3,32.8 187,33.6 187.7,32.2 188.3,28.1 189,31.9 189.7,31.3 190.3,32 191,34.5 191.7,26.3 192.4,37.9 193,32.8 193.7,29.5 194.4,35.3 195.1,29.7 195.7,28 196.4,34.2 197.1,31 197.8,34.7 198.4,30 199.1,31.3 199.8,30.9 200.5,27.5 201.1,29.9 201.8,27.4 202.5,29.6 203.1,35.1 203.8,30.7 204.5,29.9 205.2,35.9 205.8,27.5 206.5,31.6 207.2,30.7 207.9,34.4 208.5,31.8 209.2,30.8 209.9,32.6 210.6,31.6 211.2,37.8 211.9,27.6 212.6,34.7 213.2,37.8 213.9,34.3 214.6,33.8 215.3,29.6 215.9,33.5 216.6,29.9 217.3,33.6 218,24.4 218.6,29.8 219.3,25.7 220,34.5 220.7,29.3 221.3,34.1 222,29.4 222.7,28.9 223.4,35.6 224,34 224.7,33.8 225.4,34.9 226,32.9 226.7,33.6 227.4,35 228.1,30.7 228.7,29.5" fill="none" stroke="#bcbd22" stroke-opacity="0.5" stroke-width="0.6" stroke-linejoin="round"/>
<polyline points="44.2,142.6 44.9,147.6 45.5,140.3 46.2,139.4 46.9,151.2 47.6,148 48.2,143.1 48.9,142.6 49.6,137.5 50.3,147.2 50.9,133.1 51.6,131.8 52.3,135.3 53,139.5 53.6,131.4 54.3,132.8 55,125.7 55.6,127.1 56.3,121.6 57,125.7 57.7,115.1 58.3,131.2 59,123.7 59.7,115.2 60.4,122.2 61,110.3 61.7,117.1 62.4,108.3 63.1,109.9 63.7,103.9 64.4,97.5 65.1,94.8 65.8,92 66.4,76.7 67.1,82.5 67.8,83.1 68.4,70.5 69.1,67.5 69.8,62.6 70.5,56.9 71.1,65.7 71.8,54.2 72.5,51.5 73.2,54.3 73.8,51.8 74.5,64.2 75.2,52.8 75.9,42.6 76.5,56.2 77.2,50.6 77.9,46.6 78.5,45.1 79.2,40.6 79.9,52.4 80.6,45.2 81.2,41.6 81.9,48.8 82.6,44.1 83.3,37.3 83.9,39.1 84.6,41.1 85.3,51 86,42.2 86.6,40.1 87.3,42.5 88,41.2 88.7,30.6 89.3,41.2 90,43.6 90.7,39.3 91.3,40.8 92,41 92.7,40 93.4,37.3 94,39.3 94.7,43.7 95.4,40.1 96.1,38 96.7,40.8 97.4,34.8 98.1,35.8 98.8,41.7 99.4,37.3 100.1,31.8 100.8,33.2 101.4,37.8 102.1,34.7 102.8,39.3 103.5,41.8 104.1,35.2 104.8,36.2 105.5,35.4 106.2,36.7 106.8,35.4 107.5,38 108.2,34.4 108.9,33.2 109.5,35.7 110.2,32.8 110.9,40.8 111.5,37.9 112.2,30.7 112.9,29.3 113.6,33.9 114.2,34.9 114.9,38.4 115.6,32.9 116.3,31.2 116.9,38.5 117.6,31.8 118.3,31.5 119,31.6 119.6,36.6 120.3,31.2 121,37.7 121.7,28 122.3,32.3 123,36.3 123.7,28.4 124.3,28.9 125,34.7 125.7,25.6 126.4,35.8 127,31.6 127.7,28.9 128.4,39.7 129.1,29.1 129.7,32.4 130.4,32.2 131.1,35.6 131.8,30.9 132.4,35.9 133.1,35.3 133.8,33.4 134.4,36.1 135.1,27.1 135.8,36.3 136.5,34.5 137.1,33.3 137.8,32.4 138.5,29.9 139.2,29.6 139.8,33 140.5,33.3 141.2,32 141.9,29.4 142.5,30 143.2,34.2 143.9,39.3 144.6,26.2 145.2,30.1 145.9,32.5 146.6,32 147.2,34.9 147.9,36.7 148.6,34.2 149.3,33.8 149.9,35.3 150.6,38 151.3,34.3 152,31.7 152.6,35 153.3,33.6 154,40.1 154.7,34.5 155.3,34.4 156,37.9 156.7,39.2 157.3,32.4 158,36.4 158.7,32.2 159.4,34.7 160,31.4 160.7,34.5 161.4,37.8 162.1,33.1 162.7,34 163.4,31.1 164.1,34.2 164.8,33.9 165.4,30.2 166.1,29 166.8,30.3 167.5,29.4 168.1,31.1 168.8,29.7 169.5,28.9 170.1,30.4 170.8,31.4 171.5,31.2 172.2,24.2 172.8,31.7 173.5,32.4 174.2,32.6 174.9,31.7 175.5,31 176.2,35.4 176.9,38 177.6,31 178.2,36.9 178.9,31.4 179.6,31.7 180.2,28.7 180.9,27 181.6,30.9 182.3,33.5 182.9,35.5 183.6,34.5 184.3,32 185,38.4 185.6,31.8 186.3,31.9 187,29.7 187.7,32.8 188.3,31.4 189,33.8 189.7,32.9 190.3,36.9 191,31.4 191.7,27.6 192.4,31.5 193,30.5 193.7,34.3 194.4,27 195.1,33.7 195.7,29.2 196.4,31.4 197.1,34.5 197.8,28.6 198.4,31.3 199.1,30.8 199.8,30.3 200.5,31.6 201.1,32.8 201.8,30.4 202.5,33.2 203.1,31.7 203.8,33.5 204.5,35.6 205.2,33.2 205.8,32.5 206.5,30.9 207.2,27.8 207.9,36.6 208.5,31.5 209.2,38.1 209.9,34.4 210.6,32.9 211.2,38.1 211.9,36.9 212.6,31.1 213.2,31.4 213.9,31.8 214.6,33.8 215.3,25.2 215.9,32 216.6,33.9 217.3,26.7 218,30 218.6,33.1 219.3,28.7 220,31.6 220.7,30.5 221.3,31.4 222,35.2 222.7,29.4 223.4,32 224,35.5 224.7,34.8 225.4,30 226,33.7 226.7,32.6 227.4,31 228.1,32.6 228.7,37.6" fill="none" stroke="#17becf" stroke-opacity="0.5" stroke-width="0.6" stroke-linejoin="round"/>
<polygon points="44.2,144.2 44.9,142.5 45.5,139.5 46.2,137.6 46.9,138.8 47.6,139.6 48.2,140.3 48.9,136.2 49.6,132.8 50.3,132.4 50.9,131.4 51.6,132.2 52.3,128.2 53,129.7 53.6,127.4 54.3,124.1 55,124.5 55.6,123.2 56.3,120.6 57,121.6 57.7,117.4 58.3,117.1 59,115 59.7,113.7 60.4,109.4 61,107.9 61.7,107 62.4,102.2 63.1,99.8 63.7,95.8 64.4,92.5 65.1,86.7 65.8,80.1 66.4,77.5 67.1,74.9 67.8,72.5 68.4,67.6 69.1,63.5 69.8,60.1 70.5,57.6 71.1,56.2 71.8,52 72.5,49.3 73.2,50.3 73.8,49.2 74.5,47.5 75.2,44.7 75.9,45.2 76.5,44.6 77.2,44.8 77.9,44.6 78.5,43.7 79.2,43.7 79.9,43.1 80.6,42.3 81.2,42.1 81.9,42.2 82.6,41.2 83.3,40.4 83.9,39.9 84.6,39.4 85.3,39.4 86,38.1 86.6,39.1 87.3,37.1 88,38.1 88.7,35.7 89.3,36.6 90,36.4 90.7,35.6 91.3,35.9 92,36 92.7,35.1 93.4,35.1 94,35.2 94.7,35.6 95.4,35.3 96.1,34.1 96.7,33.7 97.4,33.4 98.1,34.6 98.8,34.4 99.4,32.9 100.1,31.9 100.8,31.7 101.4,32.5 102.1,32.2 102.8,31.1 103.5,32.2 104.1,31.2 104.8,31.7 105.5,31.1 106.2,31.1 106.8,31.7 107.5,31.7 108.2,31.2 108.9,31.2 109.5,30.3 110.2,31.3 110.9,31.3 111.5,31.1 112.2,31.1 112.9,31.3 113.6,30.7 114.2,30.8 114.9,30.6 115.6,30.5 116.3,30.9 116.9,32.3 117.6,30.2 118.3,29.6 119,30 119.6,30.2 120.3,29.3 121,29.9 121.7,29.8 122.3,31.1 123,29.7 123.7,28.4 124.3,28.4 125,29 125.7,28.4 126.4,29.5 127,29.2 127.7,28.5 128.4,28.9 129.1,29.1 129.7,29.4 130.4,29.6 131.1,28.7 131.8,29.6 132.4,28.6 133.1,29.9 133.8,30.3 134.4,29.6 135.1,28.2 135.8,30.3 136.5,28.9 137.1,29.2 137.8,30.4 138.5,29.1 139.2,29.2 139.8,29.3 140.5,28.9 141.2,28.3 141.9,28.2 142.5,29.8 143.2,27.5 143.9,29.7 144.6,28.7 145.2,28.7 145.9,29.8 146.6,30.6 147.2,29.8 147.9,28.7 148.6,29.8 149.3,28.4 149.9,28.8 150.6,30.1 151.3,29.7 152,30 152.6,29.3 153.3,28.4 154,27.7 154.7,27.9 155.3,29 156,28.6 156.7,28.3 157.3,28.5 158,28.2 158.7,27.7 159.4,29.4 160,28.4 160.7,28.2 161.4,29.3 162.1,28.4 162.7,29 163.4,29.2 164.1,29.9 164.8,29.4 165.4,29 166.1,27.1 166.8,27.6 167.5,27.2 168.1,28.5 168.8,28.3 169.5,27.6 170.1,26.7 170.8,29 171.5,27.7 172.2,26.8 172.8,28.2 173.5,28.1 174.2,26.7 174.9,28.8 175.5,28.5 176.2,28.1 176.9,27.3 177.6,27.4 178.2,27.7 178.9,27.6 179.6,26.6 180.2,28.2 180.9,26.8 181.6,27.4 182.3,27.1 182.9,27.5 183.6,27.9 184.3,28.7 185,26.5 185.6,27.5 186.3,27.3 187,27.3 187.7,28.2 188.3,27.4 189,28.9 189.7,28.4 190.3,28.2 191,27.8 191.7,26.2 192.4,29.4 193,29.3 193.7,28 194.4,28.8 195.1,27.5 195.7,27.8 196.4,28.2 197.1,28.7 197.8,27.6 198.4,26.9 199.1,28.2 199.8,28.5 200.5,27.6 201.1,27.5 201.8,28.1 202.5,28.2 203.1,26.8 203.8,28.3 204.5,28.2 205.2,29.2 205.8,28.2 206.5,28.6 207.2,28.7 207.9,29.3 208.5,28.4 209.2,29.4 209.9,29.1 210.6,29.2 211.2,29.8 211.9,28.4 212.6,28.8 213.2,28.1 213.9,28.5 214.6,28.6 215.3,27.6 215.9,27.8 216.6,28.6 217.3,27.9 218,27.9 218.6,28.5 219.3,28.1 220,29.5 220.7,27.9 221.3,28.4 222,29.4 222.7,27.5 223.4,28.4 224,27.6 224.7,28.8 225.4,27.9 226,28.5 226.7,28.2 227.4,27.7 228.1,28 228.7,27.3 228.7,33.3 228.1,34 227.4,33.3 226.7,34.5 226,34.1 225.4,33.7 224.7,34.5 224,34 223.4,33.9 222.7,32.7 222,33.9 221.3,34.1 220.7,32.9 220,34.5 219.3,32.3 218.6,33.5 218,33.8 217.3,34.3 216.6,34.5 215.9,33.1 215.3,32.8 214.6,34.5 213.9,34.6 213.2,33.7 212.6,34.1 211.9,33.8 211.2,35.3 210.6,34.2 209.9,33.6 209.2,34.5 208.5,33.9 207.9,35.1 207.2,34.8 206.5,34.7 205.8,34 205.2,34.7 204.5,34.3 203.8,35 203.1,33.6 202.5,34 201.8,33.6 201.1,33.2 200.5,33.3 199.8,34.3 199.1,33.2 198.4,32.6 197.8,33.2 197.1,34.5 196.4,35 195.7,34.6 195.1,34.5 194.4,33.6 193.7,32.5 193,33.9 192.4,34.3 191.7,32.4 191,34 190.3,34.1 189.7,33.4 189,34.3 188.3,33.7 187.7,34.4 187,33.1 186.3,34.2 185.6,35.5 185,34.3 184.3,35.5 183.6,33.9 182.9,34.1 182.3,34.3 181.6,33.9 180.9,33.6 180.2,34.1 179.6,33.4 178.9,33.9 178.2,34.9 177.6,34.3 176.9,34.7 176.2,33.6 175.5,34.8 174.9,34.2 174.2,32.7 173.5,32.6 172.8,34 172.2,33.2 171.5,33.7 170.8,34.8 170.1,32.3 169.5,33.9 168.8,33.9 168.1,33.4 167.5,32.2 166.8,33 166.1,33.2 165.4,34.5 164.8,33.8 164.1,34.1 163.4,33.8 162.7,34.5 162.1,34.7 161.4,36 160.7,34.8 160,34.1 159.4,34.7 158.7,34.4 158,34.9 157.3,36 156.7,34.1 156,34.8 155.3,35 154.7,34.8 154,34.7 153.3,35.3 152.6,35.1 152,35.1 151.3,34.4 150.6,34.9 149.9,34.1 149.3,34.8 148.6,36.6 147.9,35 147.2,34.7 146.6,35.3 145.9,35.2 145.2,34.5 144.6,35.3 143.9,36.4 143.2,34.7 142.5,36.3 141.9,34.7 141.2,34.7 140.5,35 139.8,35.5 139.2,35.2 138.5,35.1 137.8,35.8 137.1,34.9 136.5,34.5 135.8,36.2 135.1,34.4 134.4,35 133.8,35.4 133.1,35 132.4,35.1 131.8,35.8 131.1,34.4 130.4,34.7 129.7,34.9 129.1,35.7 128.4,36.3 127.7,36.3 127,36.1 126.4,36.4 125.7,35 125,36.5 124.3,35.8 123.7,35.4 123,35.3 122.3,37.3 121.7,36.3 121,37 120.3,35.8 119.6,36.6 119,36.2 118.3,35.4 117.6,35.7 116.9,37.6 116.3,35.6 115.6,35.4 114.9,35.6 114.2,36.3 113.6,36.5 112.9,37.9 112.2,37.6 111.5,37.1 110.9,37.3 110.2,37.2 109.5,37 108.9,37.5 108.2,38 107.5,38.5 106.8,39.9 106.2,38.5 105.5,38.7 104.8,37.6 104.1,37.8 103.5,39 102.8,38.1 102.1,39.2 101.4,38.9 100.8,39.2 100.1,39.3 99.4,41 98.8,41.3 98.1,40.3 97.4,39.1 96.7,39.4 96.1,40 95.4,40.7 94.7,41.8 94,42.3 93.4,41.9 92.7,40.9 92,41.7 91.3,42.4 90.7,42.6 90,43.7 89.3,44.2 88.7,43.1 88,44.3 87.3,42.2 86.6,44.3 86,44.7 85.3,46.9 84.6,47.1 83.9,46.3 83.3,46.1 82.6,46.9 81.9,48.2 81.2,47.9 80.6,49.2 79.9,51.1 79.2,52.2 78.5,51.3 77.9,51.8 77.2,52.6 76.5,54 75.9,55.1 75.2,55.9 74.5,56.8 73.8,60 73.2,61.7 72.5,63.3 71.8,66.4 71.1,71.4 70.5,74.9 69.8,79.1 69.1,83.2 68.4,86.4 67.8,89.5 67.1,93.9 66.4,96.4 65.8,100.3 65.1,104.7 64.4,108.7 63.7,109.5 63.1,112.4 62.4,114.2 61.7,118.3 61,119.3 60.4,122.6 59.7,126.4 59,127.7 58.3,128.1 57.7,128.7 57,131.4 56.3,130.6 55.6,132.7 55,134.9 54.3,135.2 53.6,138.5 53,140.7 52.3,139.1 51.6,143.7 50.9,143.1 50.3,144 49.6,144.2 48.9,146 48.2,148.9 47.6,148.5 46.9,149.2 46.2,147.4 45.5,147.4 44.9,149.5 44.2,152.1" fill="#0000ff" fill-opacity="0.15"/>
<polyline points="44.2,148.1 44.9,146 45.5,143.5 46.2,142.5 46.9,144 47.6,144.1 48.2,144.6 48.9,141.1 49.6,138.5 50.3,138.2 50.9,137.3 51.6,137.9 52.3,133.6 53,135.2 53.6,132.9 54.3,129.7 55,129.7 55.6,127.9 56.3,125.6 57,126.5 57.7,123.1 58.3,122.6 59,121.4 59.7,120.1 60.4,116 61,113.6 61.7,112.6 62.4,108.2 63.1,106.1 63.7,102.7 64.4,100.6 65.1,95.7 65.8,90.2 66.4,87 67.1,84.4 67.8,81 68.4,77 69.1,73.3 69.8,69.6 70.5,66.2 71.1,63.8 71.8,59.2 72.5,56.3 73.2,56 73.8,54.6 74.5,52.1 75.2,50.3 75.9,50.1 76.5,49.3 77.2,48.7 77.9,48.2 78.5,47.5 79.2,48 79.9,47.1 80.6,45.7 81.2,45 81.9,45.2 82.6,44 83.3,43.2 83.9,43.1 84.6,43.3 85.3,43.2 86,41.4 86.6,41.7 87.3,39.6 88,41.2 88.7,39.4 89.3,40.4 90,40.1 90.7,39.1 91.3,39.2 92,38.9 92.7,38 93.4,38.5 94,38.8 94.7,38.7 95.4,38 96.1,37.1 96.7,36.5 97.4,36.2 98.1,37.5 98.8,37.9 99.4,37 100.1,35.6 100.8,35.5 101.4,35.7 102.1,35.7 102.8,34.6 103.5,35.6 104.1,34.5 104.8,34.7 105.5,34.9 106.2,34.8 106.8,35.8 107.5,35.1 108.2,34.6 108.9,34.3 109.5,33.7 110.2,34.2 110.9,34.3 111.5,34.1 112.2,34.3 112.9,34.6 113.6,33.6 114.2,33.5 114.9,33.1 115.6,32.9 116.3,33.2 116.9,35 117.6,33 118.3,32.5 119,33.1 119.6,33.4 120.3,32.6 121,33.4 121.7,33 122.3,34.2 123,32.5 123.7,31.9 124.3,32.1 125,32.7 125.7,31.7 126.4,33 127,32.7 127.7,32.4 128.4,32.6 129.1,32.4 129.7,32.2 130.4,32.1 131.1,31.6 131.8,32.7 132.4,31.9 133.1,32.5 133.8,32.9 134.4,32.3 135.1,31.3 135.8,33.3 136.5,31.7 137.1,32.1 137.8,33.1 138.5,32.1 139.2,32.2 139.8,32.4 140.5,31.9 141.2,31.5 141.9,31.4 142.5,33.1 143.2,31.1 143.9,33.1 144.6,32 145.2,31.6 145.9,32.5 146.6,32.9 147.2,32.3 147.9,31.9 148.6,33.2 149.3,31.6 149.9,31.4 150.6,32.5 151.3,32.1 152,32.5 152.6,32.2 153.3,31.8 154,31.2 154.7,31.3 155.3,32 156,31.7 156.7,31.2 157.3,32.2 158,31.6 158.7,31.1 159.4,32.1 160,31.2 160.7,31.5 161.4,32.6 162.1,31.6 162.7,31.8 163.4,31.5 164.1,32 164.8,31.6 165.4,31.8 166.1,30.2 166.8,30.3 167.5,29.7 168.1,30.9 168.8,31.1 169.5,30.7 170.1,29.5 170.8,31.9 171.5,30.7 172.2,30 172.8,31.1 173.5,30.4 174.2,29.7 174.9,31.5 175.5,31.7 176.2,30.9 176.9,31 177.6,30.9 178.2,31.3 178.9,30.8 179.6,30 180.2,31.1 180.9,30.2 181.6,30.7 182.3,30.7 182.9,30.8 183.6,30.9 184.3,32.1 185,30.4 185.6,31.5 186.3,30.7 187,30.2 187.7,31.3 188.3,30.5 189,31.6 189.7,30.9 190.3,31.2 191,30.9 191.7,29.3 192.4,31.8 193,31.6 193.7,30.3 194.4,31.2 195.1,31 195.7,31.2 196.4,31.6 197.1,31.6 197.8,30.4 198.4,29.8 199.1,30.7 199.8,31.4 200.5,30.5 201.1,30.4 201.8,30.8 202.5,31.1 203.1,30.2 203.8,31.6 204.5,31.3 205.2,31.9 205.8,31.1 206.5,31.6 207.2,31.7 207.9,32.2 208.5,31.2 209.2,31.9 209.9,31.4 210.6,31.7 211.2,32.6 211.9,31.1 212.6,31.4 213.2,30.9 213.9,31.5 214.6,31.5 215.3,30.2 215.9,30.5 216.6,31.5 217.3,31.1 218,30.8 218.6,31 219.3,30.2 220,32 220.7,30.4 221.3,31.2 222,31.7 222.7,30.1 223.4,31.2 224,30.8 224.7,31.7 225.4,30.8 226,31.3 226.7,31.4 227.4,30.5 228.1,31 228.7,30.3" fill="none" stroke="#0000ff" stroke-width="1.15" stroke-linejoin="round" stroke-linecap="square"/>
<line x1="35" y1="27.9" x2="237.2" y2="27.9" stroke="#ff0000" stroke-width="1" stroke-dasharray="3.1,1.45"/>
</g>
<rect x="35" y="13.2" width="202.2" height="151.2" fill="none" stroke="#000" stroke-width="0.7"/>
<line x1="44.2" y1="164.4" x2="44.2" y2="166" stroke="#000" stroke-width="0.5"/>
<text x="44.7" y="172.6" font-size="5.7" text-anchor="middle">0</text>
<line x1="77.9" y1="164.4" x2="77.9" y2="166" stroke="#000" stroke-width="0.5"/>
<text x="78.3" y="172.6" font-size="5.7" text-anchor="middle">50</text>
<line x1="111.5" y1="164.4" x2="111.5" y2="166" stroke="#000" stroke-width="0.5"/>
<text x="112" y="172.6" font-size="5.7" text-anchor="middle">100</text>
<line x1="145.2" y1="164.4" x2="145.2" y2="166" stroke="#000" stroke-width="0.5"/>
<text x="145.7" y="172.6" font-size="5.7" text-anchor="middle">150</text>
<line x1="178.9" y1="164.4" x2="178.9" y2="166" stroke="#000" stroke-width="0.5"/>
<text x="179.3" y="172.6" font-size="5.7" text-anchor="middle">200</text>
<line x1="212.6" y1="164.4" x2="212.6" y2="166" stroke="#000" stroke-width="0.5"/>
<text x="213" y="172.6" font-size="5.7" text-anchor="middle">250</text>
<line x1="33.4" y1="23.7" x2="35" y2="23.7" stroke="#000" stroke-width="0.5"/>
<text x="31" y="26.1" font-size="5.7" text-anchor="end">4000</text>
<line x1="33.4" y1="44.4" x2="35" y2="44.4" stroke="#000" stroke-width="0.5"/>
<text x="31" y="46.8" font-size="5.7" text-anchor="end">2000</text>
<line x1="33.4" y1="65.1" x2="35" y2="65.1" stroke="#000" stroke-width="0.5"/>
<text x="31" y="67.5" font-size="5.7" text-anchor="end">0</text>
<line x1="33.4" y1="85.8" x2="35" y2="85.8" stroke="#000" stroke-width="0.5"/>
<text x="31" y="88.2" font-size="5.7" text-anchor="end">−2000</text>
<line x1="33.4" y1="106.5" x2="35" y2="106.5" stroke="#000" stroke-width="0.5"/>
<text x="31" y="108.9" font-size="5.7" text-anchor="end">−4000</text>
<line x1="33.4" y1="127.2" x2="35" y2="127.2" stroke="#000" stroke-width="0.5"/>
<text x="31" y="129.6" font-size="5.7" text-anchor="end">−6000</text>
<line x1="33.4" y1="147.9" x2="35" y2="147.9" stroke="#000" stroke-width="0.5"/>
<text x="31" y="150.3" font-size="5.7" text-anchor="end">−8000</text>
<text x="136.5" y="180.7" font-size="5.7" text-anchor="middle">episodes</text>
<text transform="translate(8.7,88.8) rotate(-90)" font-size="5.7" text-anchor="middle">rewards</text>
<text x="136.1" y="9.6" font-size="6.8" text-anchor="middle">Learning Curve case 1</text>
<rect x="172.3" y="142.9" width="62.2" height="18.6" rx="1" fill="#fff" fill-opacity="0.8" stroke="#ccc" stroke-width="0.45"/>
<line x1="174.7" y1="147.8" x2="186.3" y2="147.8" stroke="#0000ff" stroke-width="1.2"/>
<line x1="174.7" y1="156.3" x2="186.3" y2="156.3" stroke="#ff0000" stroke-width="1" stroke-dasharray="3.1,1.45"/>
<text x="190.8" y="149.8" font-size="5.7">mean_rewards</text>
<text x="190.8" y="158.3" font-size="5.7">optimal(DP)</text>
<clipPath id="clip2"><rect x="343.2" y="13.2" width="203" height="151.2"/></clipPath>
<g clip-path="url(#clip2)">
<polyline points="352.4,138.4 353.1,135.4 353.7,140.5 354.4,135.1 355.1,137.3 355.8,128.2 356.4,140 357.1,130.1 357.8,132.3 358.5,132.3 359.1,134.5 359.8,128.5 360.5,135.7 361.2,133.7 361.8,122.8 362.5,131 363.2,116 363.8,121.7 364.5,117.4 365.2,115.8 365.9,111.2 366.5,110.8 367.2,107.2 367.9,102.2 368.6,93.1 369.2,88.9 369.9,84.5 370.6,84.8 371.3,83.9 371.9,86.7 372.6,73.7 373.3,70.2 374,72.8 374.6,65.4 375.3,61.7 376,64.4 376.6,58.8 377.3,60.1 378,66 378.7,60.1 379.3,58.8 380,54.6 380.7,58.8 381.4,56.7 382,58 382.7,53.9 383.4,52.9 384.1,49.4 384.7,49.4 385.4,50.7 386.1,49.8 386.7,49.9 387.4,49.4 388.1,44.9 388.8,56.6 389.4,49.3 390.1,47.5 390.8,44.9 391.5,50.6 392.1,46.4 392.8,44.7 393.5,47.8 394.2,51.3 394.8,47 395.5,48.7 396.2,43.1 396.9,46.9 397.5,39.4 398.2,43.3 398.9,45.5 399.5,44.4 400.2,45.7 400.9,41.3 401.6,37.8 402.2,42 402.9,38.6 403.6,43.3 404.3,40 404.9,34.7 405.6,44.2 406.3,37.1 407,36.9 407.6,44.6 408.3,43.2 409,41.7 409.6,36.3 410.3,39.9 411,39.1 411.7,36.7 412.3,38 413,37.5 413.7,38.8 414.4,34.6 415,39.5 415.7,33.1 416.4,38 417.1,39 417.7,35.1 418.4,35.5 419.1,41.4 419.8,35.6 420.4,39.5 421.1,38.1 421.8,33.8 422.4,37.8 423.1,34.6 423.8,36.5 424.5,30.5 425.1,35.6 425.8,38.4 426.5,38.1 427.2,37.5 427.8,34.6 428.5,35.1 429.2,32.7 429.9,34.7 430.5,35.1 431.2,34.5 431.9,35.7 432.5,34.5 433.2,33.3 433.9,33.3 434.6,36.3 435.2,39.2 435.9,36.9 436.6,34.2 437.3,40.9 437.9,35.8 438.6,33.4 439.3,35.9 440,36.8 440.6,29.7 441.3,30.4 442,34.5 442.6,30.4 443.3,30.2 444,36.1 444.7,26.3 445.3,35.4 446,33.6 446.7,35.5 447.4,32.4 448,35.8 448.7,32.9 449.4,30.1 450.1,32.1 450.7,33.4 451.4,28.9 452.1,34.7 452.8,29.9 453.4,32.8 454.1,31.8 454.8,31.9 455.4,31.7 456.1,32.1 456.8,34 457.5,33.4 458.1,30.9 458.8,32.3 459.5,34.5 460.2,33.4 460.8,33.4 461.5,32.2 462.2,31.5 462.9,31.5 463.5,33.3 464.2,31.6 464.9,34.7 465.5,38.1 466.2,31.4 466.9,35.3 467.6,33.7 468.2,34.3 468.9,30.1 469.6,34.4 470.3,30.8 470.9,32.5 471.6,34.3 472.3,35.1 473,30.2 473.6,30.3 474.3,29.4 475,26.9 475.7,30.3 476.3,30.5 477,31.4 477.7,30.9 478.3,31.9 479,33.1 479.7,26.4 480.4,35.4 481,30.5 481.7,29.9 482.4,30.4 483.1,32.9 483.7,31.1 484.4,31.6 485.1,33 485.8,30.6 486.4,31.6 487.1,32 487.8,29.1 488.4,33 489.1,29.5 489.8,32 490.5,29.3 491.1,30.2 491.8,29.7 492.5,32.6 493.2,32.2 493.8,32.4 494.5,30 495.2,28.6 495.9,28 496.5,31.6 497.2,30.1 497.9,34.1 498.5,35.6 499.2,32.5 499.9,32.2 500.6,34.3 501.2,34.8 501.9,29.6 502.6,32.7 503.3,34.8 503.9,25.7 504.6,30.6 505.3,31.8 506,29.6 506.6,32.7 507.3,27.2 508,34.3 508.7,33.7 509.3,31.3 510,32.7 510.7,27.8 511.3,34.7 512,32.8 512.7,30.4 513.4,29.7 514,28.6 514.7,29.9 515.4,25.8 516.1,31.7 516.7,30.2 517.4,28.7 518.1,31.4 518.8,31.4 519.4,31.7 520.1,32.1 520.8,33.1 521.4,32 522.1,34.1 522.8,29.9 523.5,34 524.1,25.9 524.8,26.6 525.5,27.9 526.2,30.7 526.8,31.6 527.5,27.6 528.2,29.9 528.9,29 529.5,31.8 530.2,27.8 530.9,31.9 531.6,30 532.2,33.7 532.9,31.3 533.6,28.9 534.2,30.7 534.9,30.9 535.6,28.1 536.3,30 536.9,27.2" fill="none" stroke="#1f77b4" stroke-opacity="0.5" stroke-width="0.6" stroke-linejoin="round"/>
<polyline points="352.4,143.6 353.1,150.2 353.7,147.8 354.4,142 355.1,135.1 355.8,142 356.4,130.4 357.1,126.9 357.8,143.8 358.5,136.9 359.1,139.4 359.8,134.6 360.5,135.2 361.2,131.7 361.8,124.9 362.5,123 363.2,124.1 363.8,123.2 364.5,120.4 365.2,117.5 365.9,112.5 366.5,111.1 367.2,105.6 367.9,109.3 368.6,96.4 369.2,88.4 369.9,90.7 370.6,93.6 371.3,78.5 371.9,81.5 372.6,89.2 373.3,75.5 374,69.6 374.6,68.4 375.3,63.1 376,64 376.6,64.6 377.3,71.1 378,66.4 378.7,60.7 379.3,57.9 380,63.4 380.7,61.1 381.4,56.7 382,64.2 382.7,63.4 383.4,56.9 384.1,55 384.7,57 385.4,62.2 386.1,54.8 386.7,58.5 387.4,51.7 388.1,53.6 388.8,52.2 389.4,50.9 390.1,53.7 390.8,49.5 391.5,48 392.1,49.9 392.8,47.3 393.5,52.2 394.2,47.5 394.8,48.8 395.5,51.7 396.2,48.9 396.9,49.8 397.5,49.8 398.2,47.7 398.9,44.7 399.5,47.9 400.2,46.3 400.9,50.2 401.6,46.1 402.2,43.3 402.9,43.7 403.6,43.8 404.3,46.3 404.9,47.3 405.6,44.6 406.3,47.5 407,47 407.6,41 408.3,45.7 409,38.5 409.6,46.3 410.3,41 411,45 411.7,41.2 412.3,44.1 413,41 413.7,41.3 414.4,41.9 415,39.2 415.7,36.2 416.4,41.5 417.1,37.8 417.7,39.9 418.4,40 419.1,34 419.8,45 420.4,41.2 421.1,44 421.8,40.2 422.4,39.9 423.1,29.6 423.8,38.4 424.5,34.7 425.1,36 425.8,40.3 426.5,38 427.2,34.9 427.8,38.6 428.5,38.4 429.2,37.5 429.9,42.5 430.5,40.7 431.2,37.4 431.9,36.8 432.5,40.2 433.2,38.6 433.9,38 434.6,37.9 435.2,35.7 435.9,36.9 436.6,36.6 437.3,40.3 437.9,39.3 438.6,35.9 439.3,40.6 440,35.8 440.6,37.8 441.3,38.3 442,34.6 442.6,37.6 443.3,38.2 444,37.7 444.7,35.9 445.3,29.3 446,41.2 446.7,36.2 447.4,37 448,34.1 448.7,37.2 449.4,42.2 450.1,33 450.7,38.7 451.4,36.3 452.1,39.5 452.8,38.6 453.4,37.1 454.1,33.9 454.8,34 455.4,37.4 456.1,34.8 456.8,37 457.5,35.7 458.1,35.6 458.8,34.4 459.5,37.4 460.2,36.1 460.8,35.1 461.5,35.3 462.2,37.3 462.9,31.2 463.5,36.4 464.2,33.4 464.9,34.6 465.5,31.9 466.2,40.1 466.9,30 467.6,35.3 468.2,37.6 468.9,34.3 469.6,29.1 470.3,33.3 470.9,37.4 471.6,35.6 472.3,31.3 473,37.6 473.6,34.8 474.3,35.1 475,29.3 475.7,34.9 476.3,31.2 477,35.9 477.7,36 478.3,31.8 479,32.8 479.7,38.5 480.4,32.8 481,32.8 481.7,35.6 482.4,33.6 483.1,33.6 483.7,35.4 484.4,35.6 485.1,35.8 485.8,34.8 486.4,37 487.1,34.1 487.8,37.5 488.4,33.9 489.1,34.2 489.8,36.6 490.5,32.2 491.1,29.6 491.8,31.1 492.5,37.1 493.2,31.2 493.8,33.5 494.5,34.3 495.2,35.6 495.9,34.2 496.5,31.1 497.2,32.9 497.9,35 498.5,35.5 499.2,35 499.9,32.9 500.6,30.1 501.2,36.5 501.9,34.1 502.6,34.8 503.3,35.8 503.9,33 504.6,32.6 505.3,37.2 506,36.4 506.6,31.5 507.3,33.2 508,32.7 508.7,34.8 509.3,34.5 510,32.8 510.7,34.8 511.3,36.2 512,33.8 512.7,31.8 513.4,36 514,31.3 514.7,32 515.4,35.6 516.1,33.8 516.7,34 517.4,32.5 518.1,32.5 518.8,36.8 519.4,37 520.1,31.6 520.8,33.4 521.4,32.8 522.1,33.1 522.8,30.6 523.5,36.4 524.1,31.3 524.8,35.5 525.5,32.2 526.2,30.8 526.8,36.6 527.5,32.7 528.2,34.2 528.9,34.2 529.5,33.5 530.2,35.7 530.9,35.6 531.6,32.1 532.2,31.7 532.9,34.6 533.6,36.4 534.2,28.2 534.9,30.8 535.6,32.4 536.3,35.2 536.9,34.2" fill="none" stroke="#ff7f0e" stroke-opacity="0.5" stroke-width="0.6" stroke-linejoin="round"/>
<polyline points="352.4,145.6 353.1,143.4 353.7,139.7 354.4,139.5 355.1,129.6 355.8,133.7 356.4,140.9 357.1,129.4 357.8,138.5 358.5,130.6 359.1,135.3 359.8,131.8 360.5,121 361.2,127.2 361.8,125.5 362.5,123.2 363.2,119.8 363.8,109.3 364.5,117.1 365.2,113.5 365.9,102 366.5,107.1 367.2,98 367.9,87.8 368.6,89 369.2,87.4 369.9,85 370.6,82.7 371.3,78.4 371.9,72.9 372.6,66.3 373.3,65.4 374,69.9 374.6,68.9 375.3,61.7 376,69.9 376.6,63.4 377.3,62.2 378,64.4 378.7,63.4 379.3,58 380,64.4 380.7,61.5 381.4,60.2 382,57.2 382.7,61.5 383.4,53.1 384.1,57.1 384.7,56.3 385.4,56.1 386.1,56.6 386.7,57.4 387.4,50.4 388.1,52.9 388.8,53.5 389.4,50.2 390.1,54.6 390.8,50.5 391.5,52 392.1,53.9 392.8,49.1 393.5,54.4 394.2,48.5 394.8,52.2 395.5,48.4 396.2,45.4 396.9,47.2 397.5,49.6 398.2,47.9 398.9,48.7 399.5,50.4 400.2,49.9 400.9,46.4 401.6,45 402.2,50.6 402.9,45.8 403.6,43.9 404.3,44.6 404.9,47.1 405.6,41.3 406.3,47 407,42.1 407.6,39.6 408.3,48.6 409,42.4 409.6,42 410.3,42.1 411,44.4 411.7,43.1 412.3,45.5 413,41.3 413.7,40 414.4,43 415,43.5 415.7,42.2 416.4,40.9 417.1,40.6 417.7,41.1 418.4,40.7 419.1,43.9 419.8,47.4 420.4,38.8 421.1,36.8 421.8,43.9 422.4,41.8 423.1,39.2 423.8,37.4 424.5,38.1 425.1,36.3 425.8,39.7 426.5,38.3 427.2,38.1 427.8,40.4 428.5,36.2 429.2,37.6 429.9,36.7 430.5,40.2 431.2,36.8 431.9,41.7 432.5,38.2 433.2,45.6 433.9,41.8 434.6,37.3 435.2,40 435.9,38.5 436.6,43 437.3,35.1 437.9,37.3 438.6,38.8 439.3,37.8 440,37.8 440.6,35 441.3,38 442,41.9 442.6,38.7 443.3,34.9 444,36.3 444.7,38.7 445.3,35.9 446,37.1 446.7,36 447.4,41.2 448,39.3 448.7,35.3 449.4,37.3 450.1,35.7 450.7,31.7 451.4,37.2 452.1,35.8 452.8,37.5 453.4,37.7 454.1,36.4 454.8,39.7 455.4,41.1 456.1,32.7 456.8,36.1 457.5,33.3 458.1,35.8 458.8,35.6 459.5,34.5 460.2,34.3 460.8,38.8 461.5,33.2 462.2,38.4 462.9,35.6 463.5,30.2 464.2,36 464.9,32.1 465.5,36.7 466.2,34.4 466.9,35.6 467.6,34.8 468.2,37.7 468.9,37.9 469.6,34.9 470.3,39.4 470.9,38 471.6,34.3 472.3,37.2 473,37.6 473.6,37.9 474.3,35.1 475,36.3 475.7,35 476.3,35.7 477,31.1 477.7,36.2 478.3,39.8 479,35.1 479.7,35.3 480.4,35.1 481,39.2 481.7,32.9 482.4,35.8 483.1,35.8 483.7,39.4 484.4,34.6 485.1,35.8 485.8,32.5 486.4,36.3 487.1,38.1 487.8,34.9 488.4,37.2 489.1,34.1 489.8,37.3 490.5,35.1 491.1,35.2 491.8,34.8 492.5,35.8 493.2,36.4 493.8,34.7 494.5,35.7 495.2,34.1 495.9,34.8 496.5,39 497.2,34 497.9,30.7 498.5,33.2 499.2,32.5 499.9,32.9 500.6,34.9 501.2,36.8 501.9,32.3 502.6,31.8 503.3,32.7 503.9,32.9 504.6,32.9 505.3,33.9 506,33.2 506.6,33.7 507.3,33 508,35.9 508.7,34.9 509.3,32.2 510,34.2 510.7,38.8 511.3,33.4 512,38.6 512.7,29.5 513.4,32.1 514,32.2 514.7,35 515.4,36.1 516.1,33.9 516.7,33.4 517.4,35.1 518.1,33.2 518.8,32.2 519.4,32.3 520.1,35.6 520.8,38 521.4,33.4 522.1,34.6 522.8,32.3 523.5,29.8 524.1,29.7 524.8,32.3 525.5,30.5 526.2,29.4 526.8,32.7 527.5,32.1 528.2,31 528.9,32.9 529.5,33.9 530.2,34.5 530.9,32.8 531.6,34.2 532.2,31.2 532.9,33.5 533.6,29.6 534.2,30.2 534.9,35.2 535.6,30.5 536.3,33.6 536.9,30" fill="none" stroke="#2ca02c" stroke-opacity="0.5" stroke-width="0.6" stroke-linejoin="round"/>
<polyline points="352.4,145 353.1,146.1 353.7,136.5 354.4,131.8 355.1,141 355.8,135.7 356.4,129.2 357.1,138.2 357.8,135.5 358.5,138 359.1,132.5 359.8,130.7 360.5,130.7 361.2,130.3 361.8,132.2 362.5,129 363.2,125.5 363.8,116.4 364.5,118.4 365.2,116.3 365.9,106.5 366.5,102.9 367.2,104.5 367.9,100.1 368.6,91.1 369.2,88.3 369.9,89 370.6,80.8 371.3,78.1 371.9,70.2 372.6,75.3 373.3,65.5 374,65.5 374.6,68.9 375.3,59.3 376,58.4 376.6,64.9 377.3,51.6 378,61.5 378.7,60 379.3,57.1 380,52.7 380.7,52.5 381.4,53.8 382,48.3 382.7,50.8 383.4,47 384.1,42.1 384.7,50 385.4,58.1 386.1,51 386.7,52.2 387.4,48.5 388.1,47.9 388.8,51.2 389.4,50.7 390.1,47.7 390.8,47.5 391.5,53.6 392.1,43.9 392.8,46 393.5,45.7 394.2,44.4 394.8,47.5 395.5,44.6 396.2,41.4 396.9,40.9 397.5,42.2 398.2,43.8 398.9,45 399.5,39.2 400.2,41.1 400.9,43.4 401.6,47.4 402.2,43.6 402.9,46.2 403.6,37.7 404.3,40.2 404.9,42.2 405.6,40.6 406.3,33 407,36.1 407.6,42.4 408.3,39.1 409,41.6 409.6,42.7 410.3,37.6 411,31.8 411.7,33.8 412.3,37.4 413,38.1 413.7,36.3 414.4,34 415,40.1 415.7,41.1 416.4,31.6 417.1,35.3 417.7,32 418.4,35.3 419.1,32.1 419.8,37.4 420.4,34.4 421.1,31.6 421.8,33 422.4,36.6 423.1,33.1 423.8,36.8 424.5,38.7 425.1,33.7 425.8,31.3 426.5,32.6 427.2,37.9 427.8,32.5 428.5,32.8 429.2,35.6 429.9,40.7 430.5,31.9 431.2,32.2 431.9,33.1 432.5,38.5 433.2,37.8 433.9,31.4 434.6,32.1 435.2,32.8 435.9,34.5 436.6,32.8 437.3,34.9 437.9,34.5 438.6,35.8 439.3,32.9 440,34.5 440.6,31.1 441.3,31.6 442,35.2 442.6,28.5 443.3,35.7 444,31.8 444.7,30.2 445.3,29.6 446,37.9 446.7,30 447.4,29.4 448,28.7 448.7,37.6 449.4,33.8 450.1,32.3 450.7,33.3 451.4,29 452.1,33.7 452.8,29 453.4,30.7 454.1,35.5 454.8,34.5 455.4,33.1 456.1,31.7 456.8,29.8 457.5,32.5 458.1,29.9 458.8,35.8 459.5,39.4 460.2,33 460.8,31 461.5,33 462.2,34.5 462.9,31 463.5,27.4 464.2,32.4 464.9,33.5 465.5,33.6 466.2,27 466.9,31.7 467.6,29.9 468.2,28.4 468.9,28.6 469.6,33.5 470.3,28.9 470.9,29 471.6,30.1 472.3,28.6 473,32.2 473.6,31.1 474.3,32.1 475,29.2 475.7,32.4 476.3,29.9 477,33.4 477.7,31 478.3,31.5 479,30.9 479.7,30.4 480.4,30.9 481,31.1 481.7,35.4 482.4,27.9 483.1,32 483.7,31 484.4,32.4 485.1,28.2 485.8,32.5 486.4,29.3 487.1,27.9 487.8,26.6 488.4,27.6 489.1,28.8 489.8,32.9 490.5,27 491.1,27.2 491.8,28 492.5,27.8 493.2,29.4 493.8,30.8 494.5,27.4 495.2,26.9 495.9,32.2 496.5,27.9 497.2,29.3 497.9,27.9 498.5,29.3 499.2,27.2 499.9,27.4 500.6,27.8 501.2,32.8 501.9,27.9 502.6,29.7 503.3,32.3 503.9,28.2 504.6,32.9 505.3,27.9 506,26.1 506.6,31.3 507.3,28.2 508,29.2 508.7,28.6 509.3,33 510,28.5 510.7,29.3 511.3,27.9 512,29.5 512.7,27.2 513.4,29.2 514,28.2 514.7,26.7 515.4,29.4 516.1,27.6 516.7,29.4 517.4,28.7 518.1,31.1 518.8,28.4 519.4,27.3 520.1,30.3 520.8,28.2 521.4,28.9 522.1,32.2 522.8,29.2 523.5,27.2 524.1,31.3 524.8,34.1 525.5,29.9 526.2,31.8 526.8,26.4 527.5,30.4 528.2,30.2 528.9,31.6 529.5,29.7 530.2,31.5 530.9,32.1 531.6,30.4 532.2,31.7 532.9,27.1 533.6,32.5 534.2,30.1 534.9,31.4 535.6,33 536.3,26.5 536.9,34.4" fill="none" stroke="#d62728" stroke-opacity="0.5" stroke-width="0.6" stroke-linejoin="round"/>
<polyline points="352.4,139.8 353.1,141.4 353.7,142.3 354.4,149.5 355.1,128.8 355.8,139.4 356.4,134.7 357.1,137.6 357.8,129.6 358.5,136.1 359.1,127.7 359.8,127.3 360.5,120.3 361.2,126.8 361.8,123.2 362.5,119.7 363.2,107.1 363.8,118.8 364.5,107.4 365.2,107.3 365.9,99.2 366.5,93.7 367.2,91.4 367.9,86.9 368.6,82.7 369.2,82.4 369.9,77.3 370.6,79.5 371.3,71.3 371.9,70.5 372.6,66.7 373.3,60.7 374,60.1 374.6,58.6 375.3,54.7 376,65.8 376.6,54 377.3,54.7 378,53.8 378.7,57.5 379.3,50.1 380,47.4 380.7,47.2 381.4,50.2 382,46.9 382.7,45.6 383.4,42.3 384.1,43.7 384.7,46.7 385.4,46.3 386.1,45.7 386.7,44.9 387.4,46.7 388.1,42.7 388.8,46.3 389.4,46.2 390.1,43 390.8,45.2 391.5,43.9 392.1,48.4 392.8,40.5 393.5,42.1 394.2,42 394.8,40 395.5,40.2 396.2,42.2 396.9,34.8 397.5,40.6 398.2,36.8 398.9,34.3 399.5,39.9 400.2,37.7 400.9,39.5 401.6,34.6 402.2,37.6 402.9,39.1 403.6,32.7 404.3,33.3 404.9,37.3 405.6,31.8 406.3,33.9 407,27.4 407.6,29.5 408.3,34.9 409,33.9 409.6,35.2 410.3,32.5 411,32.4 411.7,30.6 412.3,31.9 413,35.7 413.7,34.2 414.4,28.7 415,29.3 415.7,32.4 416.4,32.4 417.1,32.6 417.7,32.1 418.4,36.3 419.1,29.9 419.8,33.6 420.4,31.7 421.1,38.3 421.8,31.5 422.4,28.8 423.1,37.7 423.8,28.5 424.5,31 425.1,34.1 425.8,36.1 426.5,29.1 427.2,31.2 427.8,30.3 428.5,32.2 429.2,33.4 429.9,29.2 430.5,33.5 431.2,29 431.9,34.8 432.5,32.9 433.2,34.2 433.9,27.5 434.6,34.7 435.2,33.1 435.9,28.7 436.6,29.6 437.3,24.7 437.9,25.5 438.6,28.3 439.3,28.1 440,34.2 440.6,31.9 441.3,30.7 442,30.3 442.6,33 443.3,32 444,31.8 444.7,27.1 445.3,28.4 446,30.5 446.7,30.3 447.4,28.8 448,31.1 448.7,30.2 449.4,33.5 450.1,27.9 450.7,27.2 451.4,28.6 452.1,28.2 452.8,28.2 453.4,24.2 454.1,28.2 454.8,32 455.4,31.2 456.1,27 456.8,26.3 457.5,26.9 458.1,26.8 458.8,28.3 459.5,32.3 460.2,30.4 460.8,32.8 461.5,29.6 462.2,31.7 462.9,28.1 463.5,28.8 464.2,33 464.9,26.7 465.5,26.7 466.2,31.6 466.9,28.2 467.6,26.8 468.2,29.1 468.9,26.2 469.6,27.7 470.3,25.7 470.9,27.6 471.6,28.4 472.3,26.7 473,25.9 473.6,27 474.3,28.7 475,29.5 475.7,28.6 476.3,29.4 477,27.6 477.7,27.4 478.3,27.9 479,27.7 479.7,27.2 480.4,24.1 481,24.9 481.7,28.7 482.4,26.4 483.1,28.1 483.7,27.5 484.4,27.8 485.1,28.6 485.8,30.3 486.4,32.8 487.1,27 487.8,24.9 488.4,29.4 489.1,26.3 489.8,28.3 490.5,26.6 491.1,29 491.8,27.7 492.5,27.4 493.2,32.3 493.8,26.7 494.5,27.5 495.2,32.7 495.9,25.8 496.5,27.6 497.2,27.1 497.9,26.9 498.5,28.6 499.2,30 499.9,28.6 500.6,28.6 501.2,22.6 501.9,23.4 502.6,28.6 503.3,28.3 503.9,26.6 504.6,26.1 505.3,28.9 506,29.6 506.6,23.3 507.3,25.3 508,31 508.7,31.5 509.3,29.6 510,27.3 510.7,26.4 511.3,28.2 512,30.7 512.7,26.9 513.4,26.1 514,27.3 514.7,28.2 515.4,26.1 516.1,27.5 516.7,29.8 517.4,27.3 518.1,30.4 518.8,25.5 519.4,26.5 520.1,29.9 520.8,27.3 521.4,25 522.1,32.2 522.8,27.8 523.5,23.9 524.1,30.9 524.8,28 525.5,31 526.2,28.2 526.8,33 527.5,31.4 528.2,29 528.9,27.8 529.5,27.3 530.2,27 530.9,25.5 531.6,26.5 532.2,26.5 532.9,30.1 533.6,28.3 534.2,21.1 534.9,23.1 535.6,26.2 536.3,26.5 536.9,26.2" fill="none" stroke="#9467bd" stroke-opacity="0.5" stroke-width="0.6" stroke-linejoin="round"/>
<polyline points="352.4,146.4 353.1,146.4 353.7,143.3 354.4,138.5 355.1,148.8 355.8,141.2 356.4,143.9 357.1,143.4 357.8,137 358.5,143 359.1,142.7 359.8,133.5 360.5,134.9 361.2,134.3 361.8,132.3 362.5,127.8 363.2,129.7 363.8,122.6 364.5,122.2 365.2,115.4 365.9,114.2 366.5,113.5 367.2,114.8 367.9,109.6 368.6,108.8 369.2,89.7 369.9,98.5 370.6,91.3 371.3,83.9 371.9,91.3 372.6,85 373.3,79.9 374,79.1 374.6,77.7 375.3,72.4 376,62.9 376.6,63.2 377.3,64.6 378,63.1 378.7,68 379.3,58.2 380,57.9 380.7,62.3 381.4,57.1 382,57.8 382.7,58.2 383.4,59.4 384.1,57.9 384.7,58.2 385.4,53.2 386.1,53.3 386.7,53.1 387.4,54.3 388.1,54.3 388.8,46.4 389.4,57.5 390.1,48.6 390.8,50.3 391.5,50.5 392.1,51.6 392.8,50.4 393.5,52.4 394.2,52.5 394.8,48.7 395.5,52.2 396.2,45 396.9,44 397.5,55.5 398.2,50.1 398.9,44.8 399.5,44.5 400.2,44.2 400.9,43.1 401.6,42.1 402.2,41.4 402.9,38.8 403.6,43.2 404.3,40.6 404.9,46.9 405.6,42.8 406.3,45.6 407,38.6 407.6,36.1 408.3,40.4 409,45.1 409.6,41.9 410.3,41.3 411,40.6 411.7,38 412.3,38.3 413,47.7 413.7,37 414.4,41.6 415,41.5 415.7,36 416.4,40.2 417.1,43.1 417.7,42.8 418.4,39.1 419.1,36.9 419.8,35.3 420.4,39.2 421.1,39.8 421.8,34.4 422.4,39.8 423.1,34.9 423.8,37.9 424.5,37.9 425.1,38.8 425.8,37.6 426.5,39.3 427.2,39.6 427.8,38.2 428.5,39.4 429.2,36.7 429.9,37.1 430.5,38 431.2,37.6 431.9,37.5 432.5,32.5 433.2,36.8 433.9,38 434.6,37.2 435.2,34.6 435.9,36.5 436.6,36.2 437.3,36.3 437.9,35.2 438.6,34.5 439.3,34.4 440,39.4 440.6,37.8 441.3,41.5 442,32.6 442.6,31.9 443.3,31.3 444,34.2 444.7,31.8 445.3,34.7 446,34.8 446.7,38.5 447.4,36.5 448,36.1 448.7,32.4 449.4,30.7 450.1,36 450.7,34 451.4,34.1 452.1,36.7 452.8,38.8 453.4,36 454.1,37.6 454.8,34.8 455.4,34.2 456.1,34.6 456.8,34.5 457.5,32.9 458.1,36.3 458.8,31.6 459.5,37.8 460.2,33.4 460.8,32.5 461.5,35.4 462.2,37.1 462.9,31.7 463.5,34.9 464.2,31.3 464.9,31.4 465.5,33.1 466.2,33.1 466.9,30.9 467.6,32.6 468.2,35.6 468.9,33 469.6,32.1 470.3,32.9 470.9,32.7 471.6,33.6 472.3,33.5 473,35.4 473.6,36.3 474.3,30.4 475,34.5 475.7,32.5 476.3,36.6 477,32.7 477.7,35 478.3,26 479,35.4 479.7,35.2 480.4,30.6 481,30.1 481.7,37.9 482.4,32.5 483.1,30.9 483.7,35.6 484.4,31.1 485.1,34.4 485.8,35.6 486.4,34.1 487.1,34.4 487.8,36.9 488.4,28.6 489.1,34.7 489.8,35.1 490.5,31.3 491.1,33.4 491.8,30.1 492.5,33.7 493.2,32.2 493.8,32.8 494.5,32.6 495.2,33.3 495.9,32.8 496.5,28.7 497.2,33.9 497.9,33.6 498.5,33.2 499.2,31 499.9,31.4 500.6,30.1 501.2,35.2 501.9,31.4 502.6,32.3 503.3,32.6 503.9,31.7 504.6,36.4 505.3,31.4 506,31.6 506.6,35 507.3,32 508,28.3 508.7,32.7 509.3,30.5 510,32.3 510.7,33.6 511.3,34 512,32.9 512.7,29.1 513.4,30 514,33.2 514.7,29.6 515.4,31.9 516.1,33.3 516.7,30.6 517.4,33.6 518.1,35 518.8,28.7 519.4,35.5 520.1,30.5 520.8,35.1 521.4,31.8 522.1,32.3 522.8,32.7 523.5,36.6 524.1,32.2 524.8,32 525.5,33.9 526.2,32.1 526.8,29.9 527.5,33.4 528.2,31.5 528.9,34.4 529.5,31.2 530.2,30.7 530.9,26.7 531.6,30 532.2,31 532.9,29.1 533.6,34.4 534.2,30.1 534.9,33.5 535.6,33.7 536.3,29.9 536.9,31.5" fill="none" stroke="#8c564b" stroke-opacity="0.5" stroke-width="0.6" stroke-linejoin="round"/>
<polyline points="352.4,142.6 353.1,131.4 353.7,143.7 354.4,133.1 355.1,139.4 355.8,130.3 356.4,138.2 357.1,129.2 357.8,132.8 358.5,132.8 359.1,128.5 359.8,123.8 360.5,122.2 361.2,115.1 361.8,116.2 362.5,128.9 363.2,116.5 363.8,120.1 364.5,109.7 365.2,101.2 365.9,105.7 366.5,100.8 367.2,91 367.9,88.9 368.6,77 369.2,78.7 369.9,74.1 370.6,65.5 371.3,71.4 371.9,66.9 372.6,68.8 373.3,61.5 374,56.7 374.6,53.6 375.3,57.5 376,59.1 376.6,58.4 377.3,59.7 378,53.1 378.7,47.5 379.3,60.1 380,58.6 380.7,45.3 381.4,55.1 382,47.8 382.7,52.7 383.4,45.4 384.1,45 384.7,46.5 385.4,44.2 386.1,46.3 386.7,44.2 387.4,40.2 388.1,42 388.8,47 389.4,47.2 390.1,45.1 390.8,44.4 391.5,43.2 392.1,44.6 392.8,40.9 393.5,42.3 394.2,40.8 394.8,41.2 395.5,39.4 396.2,43.6 396.9,35.8 397.5,38.7 398.2,38 398.9,37.7 399.5,36.2 400.2,36.8 400.9,38 401.6,38.8 402.2,42.2 402.9,36.9 403.6,38 404.3,37.8 404.9,30.4 405.6,41.2 406.3,36.2 407,32.9 407.6,33.3 408.3,32.6 409,39 409.6,38 410.3,33.9 411,35.9 411.7,30.5 412.3,34.2 413,33.9 413.7,33 414.4,34.7 415,33.6 415.7,35.5 416.4,33.8 417.1,35 417.7,32.9 418.4,36.9 419.1,36.9 419.8,32.1 420.4,32.5 421.1,35.4 421.8,33.4 422.4,35.4 423.1,27.3 423.8,36.3 424.5,27.8 425.1,34 425.8,30.7 426.5,32.4 427.2,32.5 427.8,28.9 428.5,29.1 429.2,31.7 429.9,33.2 430.5,25.6 431.2,27.2 431.9,30.2 432.5,31.3 433.2,29.9 433.9,30.3 434.6,27.3 435.2,32.8 435.9,30.2 436.6,32 437.3,26.7 437.9,25.7 438.6,30.2 439.3,28.9 440,26.9 440.6,31.1 441.3,32.8 442,28.1 442.6,29.7 443.3,31.4 444,27.2 444.7,30.2 445.3,35.1 446,29.8 446.7,30.7 447.4,25.9 448,30.6 448.7,30.9 449.4,29.2 450.1,29.6 450.7,33.6 451.4,29.7 452.1,30.6 452.8,26.4 453.4,23.7 454.1,32.2 454.8,31.9 455.4,31.5 456.1,31 456.8,30.9 457.5,29 458.1,26.5 458.8,32.4 459.5,33 460.2,33.7 460.8,26.7 461.5,25.9 462.2,32.7 462.9,33 463.5,28.7 464.2,26.5 464.9,26.6 465.5,28.8 466.2,27.5 466.9,28.4 467.6,30.5 468.2,24.6 468.9,29.2 469.6,31.7 470.3,30.3 470.9,32.9 471.6,29.1 472.3,26.5 473,32.2 473.6,26.4 474.3,24.1 475,28.4 475.7,32.1 476.3,31.3 477,30.1 477.7,32.1 478.3,31.9 479,29.6 479.7,29.4 480.4,27.5 481,31.6 481.7,24.3 482.4,26.2 483.1,26.6 483.7,30.3 484.4,24.7 485.1,29.4 485.8,24.5 486.4,26.1 487.1,30.6 487.8,29.5 488.4,24.1 489.1,25.8 489.8,28.3 490.5,27.5 491.1,27.6 491.8,29.9 492.5,28.5 493.2,29.5 493.8,29.1 494.5,27 495.2,30.6 495.9,26.6 496.5,28 497.2,26.4 497.9,26 498.5,25 499.2,26.6 499.9,26.2 500.6,28.3 501.2,26.6 501.9,30 502.6,28.3 503.3,25.9 503.9,27.9 504.6,26.9 505.3,30.1 506,24.5 506.6,28.9 507.3,26.7 508,27.5 508.7,25.3 509.3,28 510,29.7 510.7,31.8 511.3,28.3 512,30.3 512.7,26.4 513.4,24.3 514,32.6 514.7,30.5 515.4,26.8 516.1,24.8 516.7,27 517.4,27.1 518.1,26.7 518.8,26.5 519.4,24.1 520.1,26.6 520.8,30.6 521.4,29.1 522.1,27.5 522.8,29.9 523.5,28.8 524.1,29.2 524.8,29.5 525.5,26.4 526.2,28.9 526.8,30.4 527.5,29.6 528.2,27.9 528.9,23.2 529.5,27.3 530.2,24.9 530.9,27.1 531.6,33 532.2,27.6 532.9,30.1 533.6,31.2 534.2,30.7 534.9,24.6 535.6,31.9 536.3,30 536.9,26.1" fill="none" stroke="#e377c2" stroke-opacity="0.5" stroke-width="0.6" stroke-linejoin="round"/>
<polyline points="352.4,144.9 353.1,137.7 353.7,134.7 354.4,134.1 355.1,135.8 355.8,137.6 356.4,131.7 357.1,124.1 357.8,129.8 358.5,132.3 359.1,126 359.8,131.3 360.5,122.3 361.2,122.5 361.8,114.6 362.5,116 363.2,108.9 363.8,100 364.5,107.6 365.2,106.3 365.9,96.7 366.5,95.1 367.2,90.2 367.9,89.9 368.6,81 369.2,79.4 369.9,85.6 370.6,74.1 371.3,69.5 371.9,63.8 372.6,69 373.3,68.1 374,58.5 374.6,64.6 375.3,60.3 376,58 376.6,55.9 377.3,58.2 378,61.7 378.7,52.6 379.3,57.4 380,56.9 380.7,47.3 381.4,50.8 382,57.2 382.7,54.6 383.4,53.3 384.1,54.7 384.7,58.2 385.4,48.5 386.1,48.2 386.7,49.4 387.4,51.3 388.1,48.9 388.8,47 389.4,52 390.1,49.5 390.8,49.9 391.5,45.7 392.1,46.5 392.8,50.6 393.5,48.4 394.2,41.7 394.8,48.7 395.5,45.3 396.2,46.9 396.9,41.3 397.5,44.5 398.2,45 398.9,46.7 399.5,43.9 400.2,40.6 400.9,41.1 401.6,46 402.2,38 402.9,42.6 403.6,44.4 404.3,40.8 404.9,42.5 405.6,42.2 406.3,42.2 407,40.6 407.6,41.4 408.3,44.3 409,37.9 409.6,40.2 410.3,35.7 411,37.5 411.7,37.3 412.3,38.2 413,35.2 413.7,39.3 414.4,41.1 415,37.2 415.7,45.5 416.4,38.9 417.1,37.5 417.7,39.2 418.4,34.4 419.1,35.8 419.8,37.3 420.4,38.4 421.1,34.2 421.8,38.8 422.4,38.1 423.1,34.9 423.8,35.4 424.5,31.5 425.1,37.2 425.8,41.5 426.5,34.7 427.2,32.9 427.8,36.6 428.5,32 429.2,31.3 429.9,37.5 430.5,37 431.2,38.6 431.9,33.6 432.5,33.2 433.2,33.3 433.9,37.9 434.6,36.9 435.2,38.8 435.9,39.1 436.6,38.4 437.3,38.9 437.9,35.3 438.6,33.7 439.3,33.2 440,35 440.6,36.7 441.3,35.2 442,33.4 442.6,35.5 443.3,34.6 444,35.5 444.7,35.9 445.3,34.5 446,37.4 446.7,31.9 447.4,38.4 448,33.2 448.7,37.9 449.4,30.3 450.1,31.7 450.7,36 451.4,34.7 452.1,36.3 452.8,33.3 453.4,32.1 454.1,26.5 454.8,36.4 455.4,29.8 456.1,34.7 456.8,32.5 457.5,31 458.1,31.8 458.8,32.1 459.5,33.6 460.2,33.1 460.8,32.6 461.5,30.2 462.2,36.8 462.9,34.2 463.5,36.2 464.2,35.8 464.9,35.3 465.5,30.9 466.2,28.2 466.9,30.1 467.6,36.2 468.2,33 468.9,35.8 469.6,31.7 470.3,29.4 470.9,31.1 471.6,30.3 472.3,32.8 473,37.1 473.6,37.1 474.3,32.5 475,30.9 475.7,29 476.3,32.8 477,31.7 477.7,31.4 478.3,29.3 479,31.8 479.7,34.5 480.4,29.3 481,31 481.7,31.3 482.4,35.3 483.1,32.2 483.7,36.4 484.4,37.1 485.1,33 485.8,33.5 486.4,31 487.1,29.1 487.8,32.4 488.4,28 489.1,33.8 489.8,30.5 490.5,35.4 491.1,32.1 491.8,32.9 492.5,32.8 493.2,31 493.8,36.9 494.5,32.2 495.2,34.2 495.9,31.7 496.5,31.1 497.2,33 497.9,32.9 498.5,34.6 499.2,30.5 499.9,33.3 500.6,30.8 501.2,35 501.9,28.7 502.6,34.2 503.3,29 503.9,32.9 504.6,30.7 505.3,32.2 506,30.2 506.6,31.5 507.3,28.5 508,29.7 508.7,29.5 509.3,27.5 510,33.3 510.7,28.8 511.3,31.6 512,35.2 512.7,30.7 513.4,32.2 514,28 514.7,32.9 515.4,31.9 516.1,31.4 516.7,36.3 517.4,30.6 518.1,34 518.8,28.5 519.4,28 520.1,31.7 520.8,35.3 521.4,31.3 522.1,31.3 522.8,30.2 523.5,32.3 524.1,34.1 524.8,31.6 525.5,33.2 526.2,27.1 526.8,32.6 527.5,32.5 528.2,31.1 528.9,33.6 529.5,31.7 530.2,30.9 530.9,31.9 531.6,31.4 532.2,27.9 532.9,29.6 533.6,33.5 534.2,31.5 534.9,28.9 535.6,32 536.3,30.4 536.9,30.5" fill="none" stroke="#7f7f7f" stroke-opacity="0.5" stroke-width="0.6" stroke-linejoin="round"/>
<polyline points="352.4,143 353.1,136.2 353.7,143.3 354.4,142.9 355.1,140.2 355.8,137.2 356.4,137.4 357.1,133.8 357.8,142.2 358.5,125.6 359.1,128.5 359.8,133.5 360.5,121.7 361.2,124 361.8,117.4 362.5,127.4 363.2,112.2 363.8,117.3 364.5,123.8 365.2,108 365.9,109.1 366.5,108.1 367.2,101 367.9,104.7 368.6,89.9 369.2,89.7 369.9,86 370.6,75.4 371.3,77.8 371.9,77.7 372.6,76.2 373.3,70.2 374,63.6 374.6,68.6 375.3,69.1 376,60 376.6,62.4 377.3,61.5 378,52.1 378.7,64 379.3,57.9 380,64.5 380.7,58.5 381.4,54.4 382,51.9 382.7,59.7 383.4,52 384.1,51.7 384.7,54.1 385.4,45.4 386.1,53 386.7,55.5 387.4,51.4 388.1,57.9 388.8,46.9 389.4,48 390.1,51.4 390.8,48.2 391.5,48.3 392.1,44 392.8,50.6 393.5,52.2 394.2,53.9 394.8,48.6 395.5,51.7 396.2,47.5 396.9,45.5 397.5,47.3 398.2,48.2 398.9,42.1 399.5,45.4 400.2,43.6 400.9,41.5 401.6,47 402.2,45.7 402.9,36 403.6,42.9 404.3,45.3 404.9,42.8 405.6,43.3 406.3,44.9 407,42.5 407.6,41.3 408.3,41.2 409,39.5 409.6,45.4 410.3,44.6 411,38.3 411.7,41.5 412.3,36.9 413,38.9 413.7,43.3 414.4,38.2 415,42.1 415.7,38.8 416.4,36.5 417.1,34.1 417.7,39.8 418.4,37.5 419.1,38.5 419.8,37.1 420.4,45.7 421.1,40.1 421.8,38 422.4,37.5 423.1,40.7 423.8,36.4 424.5,35.5 425.1,38 425.8,38.6 426.5,38.8 427.2,37.7 427.8,34.9 428.5,33.9 429.2,38.9 429.9,39.8 430.5,39.3 431.2,34.6 431.9,36.5 432.5,36.3 433.2,35.5 433.9,35.6 434.6,36.8 435.2,39 435.9,37.9 436.6,35.9 437.3,35.1 437.9,37.1 438.6,37.1 439.3,32.6 440,37.1 440.6,35.4 441.3,36.7 442,38.1 442.6,39.6 443.3,37 444,37.9 444.7,33.5 445.3,38.6 446,36.6 446.7,33.7 447.4,35.7 448,34.1 448.7,33.4 449.4,39.8 450.1,36.6 450.7,37.9 451.4,32.1 452.1,35.8 452.8,34.1 453.4,30.9 454.1,35.8 454.8,34.6 455.4,33.8 456.1,35.4 456.8,31.7 457.5,32.8 458.1,32 458.8,34.3 459.5,35.1 460.2,35.2 460.8,35 461.5,38.1 462.2,33 462.9,31.6 463.5,33.3 464.2,34.4 464.9,33 465.5,32.4 466.2,32.1 466.9,28.6 467.6,35.1 468.2,32.2 468.9,31.5 469.6,32.8 470.3,33.6 470.9,35.5 471.6,34.3 472.3,31.3 473,29.6 473.6,34.4 474.3,31.5 475,31.5 475.7,30.3 476.3,32.1 477,31.7 477.7,30.7 478.3,35.6 479,32.7 479.7,36.9 480.4,37.6 481,34.7 481.7,36.3 482.4,31.5 483.1,30.2 483.7,33.4 484.4,33 485.1,33.4 485.8,33.4 486.4,32.5 487.1,32 487.8,34 488.4,34.9 489.1,34.6 489.8,31.4 490.5,34.4 491.1,30 491.8,33.7 492.5,29.8 493.2,35.7 493.8,34.4 494.5,31.6 495.2,31.4 495.9,33 496.5,27.9 497.2,32.5 497.9,31.8 498.5,33.5 499.2,28.4 499.9,30 500.6,31 501.2,35.6 501.9,31.1 502.6,32.8 503.3,30.6 503.9,29.5 504.6,33.2 505.3,31 506,29.7 506.6,31.5 507.3,32.5 508,34.3 508.7,33.5 509.3,35.1 510,30.2 510.7,32.1 511.3,34.9 512,32.5 512.7,35.5 513.4,40 514,29.9 514.7,30 515.4,35.9 516.1,34.1 516.7,31.9 517.4,33.1 518.1,34.2 518.8,33.5 519.4,33 520.1,33.7 520.8,31.8 521.4,32.9 522.1,34 522.8,32.1 523.5,35.4 524.1,28.4 524.8,35.2 525.5,31.6 526.2,30.6 526.8,30.5 527.5,30.6 528.2,28.6 528.9,33.8 529.5,31.5 530.2,31.1 530.9,32.5 531.6,32.9 532.2,28.7 532.9,32.9 533.6,32.3 534.2,31.6 534.9,31.6 535.6,30.7 536.3,31.5 536.9,30.4" fill="none" stroke="#bcbd22" stroke-opacity="0.5" stroke-width="0.6" stroke-linejoin="round"/>
<polyline points="352.4,139.8 353.1,138.4 353.7,144.8 354.4,142.5 355.1,145.3 355.8,141.3 356.4,139.7 357.1,138.7 357.8,131.5 358.5,131.7 359.1,128.9 359.8,130.5 360.5,124.9 361.2,127.2 361.8,122.1 362.5,122.5 363.2,119.6 363.8,121.1 364.5,123.9 365.2,121.8 365.9,103.9 366.5,106.6 367.2,102.4 367.9,101.1 368.6,98.1 369.2,80.3 369.9,93.6 370.6,85.1 371.3,81.7 371.9,82.8 372.6,80.2 373.3,75 374,71.3 374.6,70 375.3,63.8 376,69.8 376.6,62.4 377.3,57.1 378,58.3 378.7,65 379.3,70.9 380,56.5 380.7,57.5 381.4,60.6 382,53.6 382.7,59.1 383.4,56.7 384.1,60 384.7,55.2 385.4,57.2 386.1,57.2 386.7,52.1 387.4,54.3 388.1,58.9 388.8,52 389.4,50.9 390.1,55.3 390.8,53.6 391.5,51.9 392.1,52.4 392.8,50.8 393.5,49.1 394.2,51.8 394.8,44.6 395.5,51.7 396.2,50.8 396.9,43.9 397.5,42.4 398.2,48.2 398.9,48.2 399.5,49.8 400.2,43.5 400.9,45.8 401.6,48.2 402.2,44.7 402.9,41.9 403.6,43.4 404.3,39.1 404.9,41.6 405.6,43.3 406.3,44.2 407,42.4 407.6,40.3 408.3,40.9 409,40.2 409.6,42.1 410.3,40.4 411,38.7 411.7,41.9 412.3,44.5 413,36.8 413.7,39.4 414.4,41.8 415,39.7 415.7,40.8 416.4,44.4 417.1,40.4 417.7,43.6 418.4,39.2 419.1,40 419.8,36.7 420.4,39.6 421.1,38.3 421.8,40 422.4,40 423.1,42.5 423.8,36.4 424.5,38.4 425.1,40.3 425.8,38.4 426.5,40 427.2,40.6 427.8,38.3 428.5,35.9 429.2,39.6 429.9,42.5 430.5,40.2 431.2,34.1 431.9,40.5 432.5,35.3 433.2,38.9 433.9,36.3 434.6,38.4 435.2,42.2 435.9,39.2 436.6,32.9 437.3,38.4 437.9,36.6 438.6,38.6 439.3,38.1 440,36.9 440.6,36.6 441.3,32.3 442,37.8 442.6,38 443.3,39 444,40.7 444.7,41.2 445.3,35.4 446,41.6 446.7,33.5 447.4,34.6 448,37.5 448.7,39.8 449.4,36.7 450.1,36.6 450.7,33.9 451.4,38.5 452.1,37.4 452.8,36.8 453.4,37.1 454.1,37.8 454.8,40.2 455.4,40 456.1,37.5 456.8,36.6 457.5,33.8 458.1,30.5 458.8,32.1 459.5,35.2 460.2,31.6 460.8,36.5 461.5,37.6 462.2,30.8 462.9,38.9 463.5,37.1 464.2,36.6 464.9,32.3 465.5,37.1 466.2,33.8 466.9,36.5 467.6,38.6 468.2,35.1 468.9,35.1 469.6,38.1 470.3,37.3 470.9,37.1 471.6,32.7 472.3,33.9 473,34.5 473.6,34.1 474.3,36.4 475,34 475.7,36.5 476.3,37.8 477,36.2 477.7,34.1 478.3,34.5 479,32.3 479.7,38.7 480.4,35.2 481,33.8 481.7,36.8 482.4,33.7 483.1,35.4 483.7,37.2 484.4,31.8 485.1,37.6 485.8,31.8 486.4,35.1 487.1,36.2 487.8,35.9 488.4,35.5 489.1,35.7 489.8,33.1 490.5,38 491.1,30.9 491.8,31.9 492.5,30.6 493.2,36 493.8,39.2 494.5,35.4 495.2,34.3 495.9,33.3 496.5,35.3 497.2,34.4 497.9,33.8 498.5,37.7 499.2,30.2 499.9,36.9 500.6,33.6 501.2,31.8 501.9,35.9 502.6,34.2 503.3,30.5 503.9,34.8 504.6,31.9 505.3,33.4 506,33.4 506.6,32.2 507.3,34.4 508,34.3 508.7,31.7 509.3,33 510,32.5 510.7,36.2 511.3,33.4 512,30.7 512.7,31.4 513.4,32.5 514,34.7 514.7,34.9 515.4,32.4 516.1,30.1 516.7,33.1 517.4,30.3 518.1,33.8 518.8,30.4 519.4,35.4 520.1,32.7 520.8,35.6 521.4,31.6 522.1,31.6 522.8,34.9 523.5,34.3 524.1,33.6 524.8,35.9 525.5,34.5 526.2,34.4 526.8,30.8 527.5,29.6 528.2,33.5 528.9,33.1 529.5,32 530.2,33.9 530.9,33.6 531.6,31 532.2,32.3 532.9,33 533.6,34 534.2,29.6 534.9,34.1 535.6,32.5 536.3,35 536.9,33.9" fill="none" stroke="#17becf" stroke-opacity="0.5" stroke-width="0.6" stroke-linejoin="round"/>
<polygon points="352.4,139.6 353.1,137.5 353.7,136.9 354.4,134.7 355.1,133.5 355.8,132.4 356.4,132 357.1,129.2 357.8,130.2 358.5,129 359.1,128.1 359.8,125.9 360.5,122.9 361.2,121.6 361.8,118.7 362.5,118.7 363.2,113.1 363.8,111.2 364.5,110.4 365.2,106.8 365.9,101.4 366.5,98.7 367.2,93.5 367.9,89.7 368.6,84.7 369.2,80.4 369.9,80 370.6,75.2 371.3,70.8 371.9,69.2 372.6,66.9 373.3,62.9 374,60.9 374.6,60.5 375.3,58 376,59 376.6,56.9 377.3,55.7 378,54.6 378.7,54.2 379.3,53.2 380,52.2 380.7,50.8 381.4,50.8 382,50.1 382.7,50.3 383.4,47.2 384.1,47.1 384.7,47.7 385.4,47.7 386.1,47 386.7,47.6 387.4,45.6 388.1,46.2 388.8,46 389.4,46.7 390.1,46.4 390.8,45.3 391.5,45.5 392.1,44.7 392.8,43.6 393.5,44.1 394.2,43.2 394.8,42.5 395.5,43.3 396.2,41.6 396.9,39.7 397.5,40.3 398.2,40.3 398.9,39.6 399.5,40 400.2,39.4 400.9,39.3 401.6,39.4 402.2,39.1 402.9,38 403.6,38.1 404.3,37 404.9,37.3 405.6,36.8 406.3,36.5 407,34.5 407.6,34.8 408.3,36.9 409,36.4 409.6,37.3 410.3,35.4 411,34.7 411.7,33.8 412.3,34.8 413,35 413.7,34.6 414.4,34.3 415,34.3 415.7,34.2 416.4,34.2 417.1,33.9 417.7,34.7 418.4,34.1 419.1,33.6 419.8,33.5 420.4,33.9 421.1,33.9 421.8,33.4 422.4,33.5 423.1,32.5 423.8,32.7 424.5,32.5 425.1,33.5 425.8,34.1 426.5,33 427.2,33 427.8,32.6 428.5,32 429.2,32.5 429.9,33.2 430.5,32.1 431.2,31.1 431.9,32.8 432.5,32.1 433.2,32.5 433.9,31.5 434.6,32 435.2,33 435.9,32.3 436.6,31.1 437.3,30.8 437.9,30.2 438.6,30.9 439.3,31.1 440,31.9 440.6,31.2 441.3,31.3 442,30.9 442.6,30.9 443.3,31 444,31 444.7,29.7 445.3,30.1 446,32.2 446.7,30.2 447.4,30.6 448,30.5 448.7,31 449.4,30.8 450.1,30 450.7,30.8 451.4,30 452.1,30.8 452.8,29.3 453.4,28.5 454.1,29.8 454.8,31.1 455.4,31 456.1,30.1 456.8,30.3 457.5,29.6 458.1,29.6 458.8,30.5 459.5,32.7 460.2,31.1 460.8,30.7 461.5,30 462.2,31 462.9,29.9 463.5,29.8 464.2,30.1 464.9,29.3 465.5,29.6 466.2,28.9 466.9,28.7 467.6,29.8 468.2,29.2 468.9,29 469.6,29.3 470.3,29.1 470.9,30 471.6,29.4 472.3,28.9 473,29.4 473.6,29.2 474.3,28.5 475,28.6 475.7,29.6 476.3,30.1 477,29.7 477.7,29.6 478.3,29.3 479,28.8 479.7,29.4 480.4,28.1 481,28.3 481.7,29.1 482.4,28.3 483.1,28.7 483.7,30 484.4,28.7 485.1,29.5 485.8,29 486.4,29.3 487.1,28.5 487.8,28.3 488.4,27.6 489.1,28.3 489.8,28.9 490.5,28.8 491.1,28.2 491.8,28.7 492.5,29.1 493.2,29.3 493.8,29.6 494.5,28.5 495.2,29.1 495.9,28.4 496.5,28 497.2,28.4 497.9,28.3 498.5,29.3 499.2,27.8 499.9,28.7 500.6,27.9 501.2,29 501.9,27.6 502.6,29.1 503.3,28.7 503.9,27.9 504.6,28.7 505.3,28.8 506,27.9 506.6,28.2 507.3,27.6 508,28.7 508.7,28.9 509.3,29 510,28.6 510.7,28.8 511.3,28.9 512,29.6 512.7,27.3 513.4,28.2 514,27.8 514.7,28.2 515.4,28.1 516.1,27.9 516.7,28.7 517.4,28.4 518.1,29.2 518.8,27.3 519.4,27.9 520.1,28.2 520.8,29.6 521.4,28.5 522.1,29.8 522.8,28.4 523.5,28.9 524.1,27.7 524.8,29.1 525.5,28.6 526.2,28.3 526.8,29.3 527.5,29 528.2,28.5 528.9,28.8 529.5,28.1 530.2,28 530.9,28.2 531.6,28.6 532.2,28.3 532.9,28.8 533.6,29.2 534.2,26.9 534.9,27.7 535.6,28.1 536.3,28.2 536.9,27.6 536.9,33.6 536.3,33.6 535.6,34 534.9,33.6 534.2,33 533.6,34.2 532.9,33.4 532.2,32.7 531.6,33.6 530.9,33.8 530.2,33.8 529.5,34 528.9,33.8 528.2,33.2 527.5,33.1 526.8,33.4 526.2,33 525.5,33.6 524.8,34.4 524.1,34 523.5,34.4 522.8,33.7 522.1,34 521.4,33.5 520.8,34.9 520.1,34.6 519.4,34.4 518.8,33.8 518.1,34.7 517.4,33.4 516.7,34.2 516.1,34.2 515.4,34.4 514.7,34.1 514,34 513.4,34.4 512.7,33.6 512,35 511.3,35.1 510.7,34.7 510,34.2 509.3,34 508.7,34.3 508,34.6 507.3,33.6 506.6,34.4 506,33.8 505.3,34.6 504.6,34.3 503.9,33.7 503.3,34.1 502.6,34.6 501.9,34.2 501.2,35.7 500.6,34.5 499.9,34 499.2,33.9 498.5,35.4 497.9,34.6 497.2,34.7 496.5,34.3 495.9,34.6 495.2,35 494.5,34.6 493.8,35.7 493.2,35.4 492.5,34.4 491.8,33.9 491.1,33.8 490.5,34.9 489.8,35.8 489.1,35.4 488.4,35.5 487.8,36 487.1,35.7 486.4,35.6 485.8,35.1 485.1,35.8 484.4,35.4 483.7,36.5 483.1,35.1 482.4,35.1 481.7,36.3 481,35.9 480.4,35.9 479.7,36.4 479,35.7 478.3,35 477.7,35.4 477,34.9 476.3,35.2 475.7,35 475,34.5 474.3,35.3 473.6,36.5 473,36.7 472.3,35.2 471.6,35.5 470.9,36.4 470.3,35.7 469.6,36.1 468.9,35.9 468.2,36.4 467.6,36.7 466.9,35.4 466.2,35.7 465.5,36.4 464.9,35.5 464.2,36.2 463.5,35.8 462.9,35.8 462.2,37 461.5,36.2 460.8,36.1 460.2,35.7 459.5,36.5 458.8,35.6 458.1,34.9 457.5,35.6 456.8,35.9 456.1,36.5 455.4,37.2 454.8,37.9 454.1,37.4 453.4,37.1 452.8,37.6 452.1,38.2 451.4,36.5 450.7,37.1 450.1,36.8 449.4,37.6 448.7,38 448,37.7 447.4,37.5 446.7,37.5 446,38.7 445.3,37.8 444.7,37.4 444,38.5 443.3,38 442.6,37.9 442,38.4 441.3,38.2 440.6,37.7 440,38.5 439.3,37.9 438.6,38.6 437.9,38.8 437.3,39.6 436.6,39.3 435.9,39.1 435.2,39.7 434.6,39.1 433.9,39.1 433.2,39.8 432.5,38.9 431.9,39.2 431.2,38.6 430.5,40.2 429.9,40.8 429.2,39.1 428.5,38.3 427.8,39 427.2,39.8 426.5,39.7 425.8,40.1 425.1,39.7 424.5,38.1 423.8,40 423.1,39.6 422.4,41.4 421.8,40.4 421.1,41.2 420.4,41.8 419.8,41.9 419.1,40.7 418.4,41 417.7,41 417.1,41.5 416.4,41.6 415.7,42.2 415,42.6 414.4,42 413.7,42.1 413,42.3 412.3,43.1 411.7,42.3 411,42.8 410.3,42.9 409.6,44 409,43.7 408.3,44.8 407.6,44.3 407,44.5 406.3,45.9 405.6,46.2 404.9,45.6 404.3,45.4 403.6,45.3 402.9,45.1 402.2,46.7 401.6,47.1 400.9,47.1 400.2,47.1 399.5,48.3 398.9,48.3 398.2,49.4 397.5,49.7 396.9,48.1 396.2,49.6 395.5,50.7 394.8,51 394.2,51.4 393.5,52.4 392.8,51.1 392.1,51.8 391.5,52 390.8,52 390.1,52.8 389.4,53.6 388.8,54.1 388.1,54.9 387.4,55 386.7,55.8 386.1,56.5 385.4,57 384.7,58.5 384.1,57.5 383.4,58.1 382.7,60.7 382,59.2 381.4,60.6 380.7,60.6 380,63 379.3,63.7 378.7,64.7 378,65.2 377.3,64.9 376.6,65.5 376,67.4 375.3,68.3 374.6,72.4 374,73.5 373.3,76.3 372.6,81.5 371.9,83.1 371.3,85.1 370.6,88.2 369.9,92.7 369.2,93.6 368.6,99 367.9,106.3 367.2,108.5 366.5,111.7 365.9,113.3 365.2,118.5 364.5,123 363.8,124.4 363.2,125.3 362.5,130.1 361.8,129.3 361.2,133.2 360.5,132.7 359.8,135.5 359.1,136.7 358.5,138.7 357.8,140.2 357.1,139.3 356.4,141.9 355.8,142.4 355.1,144 354.4,144.6 353.7,146.6 353.1,145.4 352.4,146.7" fill="#0000ff" fill-opacity="0.15"/>
<polyline points="352.4,143.1 353.1,141.4 353.7,141.8 354.4,139.6 355.1,138.8 355.8,137.4 356.4,136.9 357.1,134.2 357.8,135.2 358.5,133.8 359.1,132.4 359.8,130.7 360.5,127.8 361.2,127.4 361.8,124 362.5,124.4 363.2,119.2 363.8,117.8 364.5,116.7 365.2,112.7 365.9,107.3 366.5,105.2 367.2,101 367.9,98 368.6,91.9 369.2,87 369.9,86.4 370.6,81.7 371.3,78 371.9,76.1 372.6,74.2 373.3,69.6 374,67.2 374.6,66.4 375.3,63.2 376,63.2 376.6,61.2 377.3,60.3 378,59.9 378.7,59.5 379.3,58.4 380,57.6 380.7,55.7 381.4,55.7 382,54.6 382.7,55.5 383.4,52.7 384.1,52.3 384.7,53.1 385.4,52.3 386.1,51.8 386.7,51.7 387.4,50.3 388.1,50.5 388.8,50.1 389.4,50.2 390.1,49.6 390.8,48.7 391.5,48.8 392.1,48.2 392.8,47.4 393.5,48.3 394.2,47.3 394.8,46.7 395.5,47 396.2,45.6 396.9,43.9 397.5,45 398.2,44.8 398.9,44 399.5,44.1 400.2,43.2 400.9,43.2 401.6,43.3 402.2,42.9 402.9,41.5 403.6,41.7 404.3,41.2 404.9,41.4 405.6,41.5 406.3,41.2 407,39.5 407.6,39.6 408.3,40.9 409,40.1 409.6,40.7 410.3,39.2 411,38.8 411.7,38.1 412.3,38.9 413,38.7 413.7,38.4 414.4,38.1 415,38.5 415.7,38.2 416.4,37.9 417.1,37.7 417.7,37.8 418.4,37.6 419.1,37.2 419.8,37.7 420.4,37.9 421.1,37.6 421.8,36.9 422.4,37.4 423.1,36 423.8,36.4 424.5,35.3 425.1,36.6 425.8,37.1 426.5,36.3 427.2,36.4 427.8,35.8 428.5,35.2 429.2,35.8 429.9,37 430.5,36.2 431.2,34.9 431.9,36 432.5,35.5 433.2,36.2 433.9,35.3 434.6,35.5 435.2,36.4 435.9,35.7 436.6,35.2 437.3,35.2 437.9,34.5 438.6,34.8 439.3,34.5 440,35.2 440.6,34.5 441.3,34.7 442,34.6 442.6,34.4 443.3,34.5 444,34.8 444.7,33.6 445.3,33.9 446,35.4 446.7,33.9 447.4,34.1 448,34.1 448.7,34.5 449.4,34.2 450.1,33.4 450.7,34 451.4,33.2 452.1,34.5 452.8,33.4 453.4,32.8 454.1,33.6 454.8,34.5 455.4,34.1 456.1,33.3 456.8,33.1 457.5,32.6 458.1,32.3 458.8,33.1 459.5,34.6 460.2,33.4 460.8,33.4 461.5,33.1 462.2,34 462.9,32.9 463.5,32.8 464.2,33.1 464.9,32.4 465.5,33 466.2,32.3 466.9,32 467.6,33.2 468.2,32.8 468.9,32.4 469.6,32.7 470.3,32.4 470.9,33.2 471.6,32.4 472.3,32.1 473,33.1 473.6,32.9 474.3,31.9 475,31.6 475.7,32.3 476.3,32.7 477,32.3 477.7,32.5 478.3,32.2 479,32.2 479.7,32.9 480.4,32 481,32.1 481.7,32.7 482.4,31.7 483.1,31.9 483.7,33.2 484.4,32.1 485.1,32.7 485.8,32 486.4,32.4 487.1,32.1 487.8,32.1 488.4,31.5 489.1,31.9 489.8,32.4 490.5,31.8 491.1,31 491.8,31.3 492.5,31.7 493.2,32.4 493.8,32.7 494.5,31.6 495.2,32.1 495.9,31.5 496.5,31.2 497.2,31.5 497.9,31.5 498.5,32.3 499.2,30.9 499.9,31.4 500.6,31.2 501.2,32.4 501.9,30.9 502.6,31.8 503.3,31.4 503.9,30.8 504.6,31.5 505.3,31.7 506,30.8 506.6,31.3 507.3,30.6 508,31.6 508.7,31.6 509.3,31.5 510,31.4 510.7,31.8 511.3,32 512,32.3 512.7,30.4 513.4,31.3 514,30.9 514.7,31.1 515.4,31.3 516.1,31 516.7,31.5 517.4,30.9 518.1,31.9 518.8,30.6 519.4,31.1 520.1,31.4 520.8,32.3 521.4,31 522.1,31.9 522.8,31 523.5,31.6 524.1,30.8 524.8,31.8 525.5,31.1 526.2,30.7 526.8,31.3 527.5,31 528.2,30.8 528.9,31.3 529.5,31 530.2,30.9 530.9,31 531.6,31.1 532.2,30.5 532.9,31.1 533.6,31.7 534.2,29.9 534.9,30.6 535.6,31.1 536.3,30.9 536.9,30.6" fill="none" stroke="#0000ff" stroke-width="1.15" stroke-linejoin="round" stroke-linecap="square"/>
<line x1="343.2" y1="33.4" x2="546.2" y2="33.4" stroke="#ff0000" stroke-width="1" stroke-dasharray="3.1,1.45"/>
</g>
<rect x="343.2" y="13.2" width="203" height="151.2" fill="none" stroke="#000" stroke-width="0.7"/>
<line x1="352.4" y1="164.4" x2="352.4" y2="166" stroke="#000" stroke-width="0.5"/>
<text x="352.8" y="172.6" font-size="5.7" text-anchor="middle">0</text>
<line x1="386.1" y1="164.4" x2="386.1" y2="166" stroke="#000" stroke-width="0.5"/>
<text x="386.5" y="172.6" font-size="5.7" text-anchor="middle">50</text>
<line x1="419.8" y1="164.4" x2="419.8" y2="166" stroke="#000" stroke-width="0.5"/>
<text x="420.2" y="172.6" font-size="5.7" text-anchor="middle">100</text>
<line x1="453.4" y1="164.4" x2="453.4" y2="166" stroke="#000" stroke-width="0.5"/>
<text x="453.9" y="172.6" font-size="5.7" text-anchor="middle">150</text>
<line x1="487.1" y1="164.4" x2="487.1" y2="166" stroke="#000" stroke-width="0.5"/>
<text x="487.5" y="172.6" font-size="5.7" text-anchor="middle">200</text>
<line x1="520.8" y1="164.4" x2="520.8" y2="166" stroke="#000" stroke-width="0.5"/>
<text x="521.2" y="172.6" font-size="5.7" text-anchor="middle">250</text>
<line x1="341.6" y1="17.3" x2="343.2" y2="17.3" stroke="#000" stroke-width="0.5"/>
<text x="339.2" y="19.7" font-size="5.7" text-anchor="end">6000</text>
<line x1="341.6" y1="37.7" x2="343.2" y2="37.7" stroke="#000" stroke-width="0.5"/>
<text x="339.2" y="40.1" font-size="5.7" text-anchor="end">4000</text>
<line x1="341.6" y1="58.2" x2="343.2" y2="58.2" stroke="#000" stroke-width="0.5"/>
<text x="339.2" y="60.6" font-size="5.7" text-anchor="end">2000</text>
<line x1="341.6" y1="78.6" x2="343.2" y2="78.6" stroke="#000" stroke-width="0.5"/>
<text x="339.2" y="81" font-size="5.7" text-anchor="end">0</text>
<line x1="341.6" y1="99.1" x2="343.2" y2="99.1" stroke="#000" stroke-width="0.5"/>
<text x="339.2" y="101.5" font-size="5.7" text-anchor="end">−2000</text>
<line x1="341.6" y1="119.5" x2="343.2" y2="119.5" stroke="#000" stroke-width="0.5"/>
<text x="339.2" y="121.9" font-size="5.7" text-anchor="end">−4000</text>
<line x1="341.6" y1="139.9" x2="343.2" y2="139.9" stroke="#000" stroke-width="0.5"/>
<text x="339.2" y="142.3" font-size="5.7" text-anchor="end">−6000</text>
<line x1="341.6" y1="160.4" x2="343.2" y2="160.4" stroke="#000" stroke-width="0.5"/>
<text x="339.2" y="162.8" font-size="5.7" text-anchor="end">−8000</text>
<text x="445.1" y="180.7" font-size="5.7" text-anchor="middle">episodes</text>
<text transform="translate(316.9,88.8) rotate(-90)" font-size="5.7" text-anchor="middle">rewards</text>
<text x="444.7" y="9.6" font-size="6.8" text-anchor="middle">Learning Curve case 2</text>
<rect x="481.3" y="142.9" width="62.2" height="18.6" rx="1" fill="#fff" fill-opacity="0.8" stroke="#ccc" stroke-width="0.45"/>
<line x1="483.7" y1="147.8" x2="495.3" y2="147.8" stroke="#0000ff" stroke-width="1.2"/>
<line x1="483.7" y1="156.3" x2="495.3" y2="156.3" stroke="#ff0000" stroke-width="1" stroke-dasharray="3.1,1.45"/>
<text x="499.8" y="149.8" font-size="5.7">mean_rewards</text>
<text x="499.8" y="158.3" font-size="5.7">optimal(DP)</text>
<clipPath id="clip3"><rect x="35" y="246.5" width="202.2" height="151"/></clipPath>
<g clip-path="url(#clip3)">
<polyline points="44.2,377.7 44.9,380.4 45.5,372.7 46.2,374.9 46.9,358.6 47.6,372.1 48.2,365.6 48.9,364.5 49.6,366.8 50.3,358.2 50.9,361.6 51.6,361.4 52.3,357.3 53,358.6 53.6,346.4 54.3,347 55,342.2 55.6,351.1 56.3,338.5 57,339.1 57.7,329.4 58.3,318.5 59,319.4 59.7,317.2 60.4,307.1 61,303.4 61.7,296.1 62.4,310.8 63.1,297.5 63.7,298.9 64.4,298.8 65.1,292.3 65.8,296.7 66.4,300.3 67.1,293 67.8,288.8 68.4,278.2 69.1,289.4 69.8,290.8 70.5,293.9 71.1,286 71.8,285 72.5,282.2 73.2,288.5 73.8,285.4 74.5,291.4 75.2,280.7 75.9,288 76.5,292.9 77.2,276.3 77.9,278.9 78.5,279.6 79.2,279.3 79.9,284.9 80.6,276 81.2,284.3 81.9,272.3 82.6,278.6 83.3,286.2 83.9,275.2 84.6,270.9 85.3,279.3 86,274.1 86.6,278.9 87.3,280.2 88,287 88.7,271.6 89.3,277.5 90,273.7 90.7,279.3 91.3,277.5 92,269.1 92.7,274.1 93.4,274.1 94,277.1 94.7,271.3 95.4,268.9 96.1,273.4 96.7,272.4 97.4,276.2 98.1,266 98.8,273.2 99.4,271.3 100.1,264.2 100.8,271.2 101.4,275.9 102.1,273.8 102.8,271.9 103.5,263.8 104.1,269.8 104.8,271.7 105.5,267.7 106.2,265.9 106.8,274.1 107.5,266 108.2,268.1 108.9,269.4 109.5,279.8 110.2,269.8 110.9,265.1 111.5,271.4 112.2,261.8 112.9,269.9 113.6,273.8 114.2,267.6 114.9,269 115.6,266.9 116.3,270.5 116.9,264.6 117.6,271.4 118.3,268.3 119,273.2 119.6,272 120.3,268.4 121,271.7 121.7,270.7 122.3,269.7 123,268.3 123.7,266.7 124.3,266.8 125,265.8 125.7,268.8 126.4,271.3 127,275.5 127.7,270.9 128.4,272.1 129.1,275.6 129.7,262.6 130.4,275.7 131.1,267.4 131.8,267 132.4,269.8 133.1,259.3 133.8,268.6 134.4,271.6 135.1,261.9 135.8,271.3 136.5,273.7 137.1,272.1 137.8,270.8 138.5,268.3 139.2,267.2 139.8,273.9 140.5,267 141.2,260.2 141.9,271.1 142.5,268.8 143.2,265.9 143.9,264.2 144.6,271 145.2,272 145.9,272.1 146.6,265 147.2,265.8 147.9,277 148.6,276.8 149.3,273.3 149.9,274.3 150.6,267.1 151.3,267.6 152,260.9 152.6,265.1 153.3,267.5 154,263.9 154.7,271.3 155.3,273 156,267.8 156.7,264.6 157.3,273.6 158,264.1 158.7,264.4 159.4,269.3 160,266.1 160.7,267.6 161.4,266.3 162.1,263.9 162.7,269.9 163.4,263.5 164.1,264.3 164.8,264 165.4,274.4 166.1,273.8 166.8,264.3 167.5,268.9 168.1,269 168.8,269.4 169.5,271.5 170.1,267.7 170.8,269.2 171.5,268.8 172.2,264.7 172.8,270.7 173.5,262.4 174.2,274.9 174.9,257.5 175.5,271.2 176.2,264 176.9,262.9 177.6,266 178.2,263.4 178.9,266.3 179.6,272.2 180.2,264.7 180.9,261.7 181.6,267.4 182.3,271.6 182.9,267.7 183.6,264.3 184.3,264.6 185,262 185.6,264.3 186.3,264.4 187,273.3 187.7,258.2 188.3,266.1 189,263.3 189.7,267.6 190.3,267 191,266.4 191.7,260.9 192.4,260.7 193,264.1 193.7,259.7 194.4,268.3 195.1,265.2 195.7,269.1 196.4,262.9 197.1,267.2 197.8,263.9 198.4,260.8 199.1,273.9 199.8,258.6 200.5,265.3 201.1,267.5 201.8,273.1 202.5,267.3 203.1,274.7 203.8,266.2 204.5,267 205.2,259.8 205.8,267.1 206.5,262.3 207.2,262 207.9,258.8 208.5,267.2 209.2,263.7 209.9,271.9 210.6,270.4 211.2,267.2 211.9,266.4 212.6,270.8 213.2,268.3 213.9,264.5 214.6,268.5 215.3,267.5 215.9,270 216.6,262 217.3,260.1 218,265.4 218.6,266.6 219.3,260 220,264.4 220.7,268.6 221.3,270.7 222,267.8 222.7,257.7 223.4,267.4 224,254.9 224.7,265.3 225.4,265.9 226,260.2 226.7,265.4 227.4,263 228.1,267.6 228.7,268.4" fill="none" stroke="#1f77b4" stroke-opacity="0.5" stroke-width="0.6" stroke-linejoin="round"/>
<polyline points="44.2,378 44.9,387.3 45.5,371.8 46.2,372.1 46.9,361.7 47.6,371.2 48.2,369.9 48.9,366.4 49.6,366 50.3,364.6 50.9,367.8 51.6,366.1 52.3,361.5 53,358.1 53.6,360.2 54.3,357.6 55,350.6 55.6,342.3 56.3,343.9 57,335.4 57.7,329.3 58.3,325.6 59,327.1 59.7,322.4 60.4,325 61,315.4 61.7,305.7 62.4,309.7 63.1,293.8 63.7,290.8 64.4,297.5 65.1,289.6 65.8,299 66.4,295.9 67.1,291.3 67.8,288.3 68.4,288.7 69.1,291.4 69.8,277.5 70.5,284.2 71.1,283.9 71.8,281.4 72.5,283 73.2,283.9 73.8,285.1 74.5,289.7 75.2,275.5 75.9,285.7 76.5,288.8 77.2,284.9 77.9,287.8 78.5,272.4 79.2,278.9 79.9,274.4 80.6,274 81.2,277.3 81.9,277.3 82.6,281.8 83.3,278.7 83.9,280.5 84.6,278.1 85.3,280.3 86,272.6 86.6,274.7 87.3,277.8 88,283.5 88.7,273.9 89.3,272.6 90,276.1 90.7,280.7 91.3,274.1 92,271.6 92.7,282.7 93.4,272.5 94,282 94.7,274.5 95.4,267.9 96.1,274.3 96.7,273 97.4,275.9 98.1,274.4 98.8,264.9 99.4,268.8 100.1,274.9 100.8,274.6 101.4,273.1 102.1,264.6 102.8,272.2 103.5,268.6 104.1,273.9 104.8,277.4 105.5,267.2 106.2,272.2 106.8,274.7 107.5,274.6 108.2,274.4 108.9,274.1 109.5,277.6 110.2,266.8 110.9,269.5 111.5,266.9 112.2,272.2 112.9,269.6 113.6,270.5 114.2,266.6 114.9,267.9 115.6,269.3 116.3,272.5 116.9,274.4 117.6,272.8 118.3,272.1 119,271.5 119.6,274.2 120.3,263.2 121,268.5 121.7,277.1 122.3,273.4 123,274.5 123.7,268.5 124.3,265.4 125,273.1 125.7,267.1 126.4,270.2 127,264.8 127.7,263.6 128.4,267.4 129.1,266.1 129.7,269.1 130.4,271 131.1,273.8 131.8,268 132.4,269.9 133.1,270.9 133.8,269.8 134.4,270.6 135.1,274 135.8,272.5 136.5,266.2 137.1,271.6 137.8,265.5 138.5,275.1 139.2,276.1 139.8,270.6 140.5,268 141.2,273.1 141.9,268.4 142.5,266.9 143.2,265.9 143.9,270 144.6,269.7 145.2,276 145.9,270 146.6,268.9 147.2,264.6 147.9,274.6 148.6,272.5 149.3,272.9 149.9,265.2 150.6,277.6 151.3,271.8 152,259.9 152.6,265.4 153.3,272.4 154,267.4 154.7,264.2 155.3,265.5 156,267.9 156.7,270.2 157.3,264.4 158,267.3 158.7,264.3 159.4,265.7 160,268.6 160.7,261.7 161.4,268.7 162.1,265.2 162.7,269.1 163.4,267.8 164.1,267.9 164.8,269.5 165.4,265.8 166.1,262.1 166.8,259.3 167.5,260.9 168.1,266.7 168.8,261 169.5,264.3 170.1,259.6 170.8,270.8 171.5,261 172.2,268.8 172.8,262.2 173.5,267.8 174.2,262.8 174.9,266.9 175.5,272.7 176.2,269.4 176.9,267 177.6,265.6 178.2,273.9 178.9,270.2 179.6,269 180.2,267 180.9,265.8 181.6,269.7 182.3,272.2 182.9,265.7 183.6,268.1 184.3,263.7 185,268.4 185.6,264.1 186.3,269.4 187,265.4 187.7,266.2 188.3,265.4 189,270.7 189.7,267.7 190.3,270.3 191,268 191.7,265.5 192.4,257.2 193,267.7 193.7,265.1 194.4,266.9 195.1,263.3 195.7,265.5 196.4,263.7 197.1,266.1 197.8,258.9 198.4,262.7 199.1,273.8 199.8,266.6 200.5,267.3 201.1,275.6 201.8,270.3 202.5,268.7 203.1,269.3 203.8,266 204.5,272.9 205.2,263.6 205.8,263.1 206.5,264.5 207.2,267.1 207.9,265.7 208.5,267.6 209.2,262 209.9,264 210.6,258.8 211.2,266.7 211.9,260.3 212.6,267.3 213.2,265.9 213.9,269.1 214.6,263.8 215.3,265.8 215.9,263.7 216.6,260.5 217.3,265.8 218,264.5 218.6,262.6 219.3,266.4 220,268.3 220.7,265.2 221.3,264.2 222,263.3 222.7,263 223.4,268.1 224,264.4 224.7,261.8 225.4,267.5 226,264.5 226.7,267.9 227.4,265.1 228.1,259.6 228.7,264.9" fill="none" stroke="#ff7f0e" stroke-opacity="0.5" stroke-width="0.6" stroke-linejoin="round"/>
<polyline points="44.2,384.9 44.9,380.3 45.5,385.8 46.2,375.7 46.9,369.3 47.6,379.6 48.2,383.6 48.9,369.5 49.6,373.2 50.3,364.4 50.9,365.6 51.6,359.4 52.3,353.2 53,352.9 53.6,356.9 54.3,358.8 55,362.1 55.6,357.5 56.3,346.8 57,338.1 57.7,337.5 58.3,332.5 59,332.7 59.7,328.1 60.4,323.9 61,308.4 61.7,317.1 62.4,300.7 63.1,304.9 63.7,295.2 64.4,294.4 65.1,289.8 65.8,286.6 66.4,294.8 67.1,294.6 67.8,290.9 68.4,291.1 69.1,284 69.8,286.9 70.5,285.9 71.1,283.6 71.8,286.7 72.5,278.7 73.2,290.6 73.8,281.3 74.5,280 75.2,284.7 75.9,284.4 76.5,277.6 77.2,282.8 77.9,289 78.5,286.4 79.2,276.4 79.9,283.6 80.6,274.1 81.2,273.5 81.9,279.4 82.6,276.2 83.3,281.5 83.9,279.7 84.6,280.5 85.3,275.3 86,282.1 86.6,277.4 87.3,276.3 88,273.8 88.7,283.4 89.3,282.2 90,278.4 90.7,275.5 91.3,273.9 92,273.7 92.7,266.6 93.4,271.7 94,271.6 94.7,275.5 95.4,270.9 96.1,271.5 96.7,271.5 97.4,274 98.1,270.9 98.8,267.5 99.4,276 100.1,281.2 100.8,269.6 101.4,270 102.1,273.4 102.8,274.2 103.5,261.7 104.1,273.7 104.8,276.4 105.5,273.4 106.2,269.9 106.8,274.1 107.5,273.1 108.2,270.5 108.9,273.2 109.5,270.9 110.2,271.2 110.9,274.9 111.5,270.8 112.2,275.2 112.9,267.1 113.6,274.3 114.2,271.4 114.9,277.2 115.6,272.1 116.3,274.9 116.9,264.5 117.6,270.7 118.3,267.8 119,276.4 119.6,274.4 120.3,270.6 121,274.8 121.7,265.5 122.3,271.2 123,269.5 123.7,268.5 124.3,270 125,266.2 125.7,271.9 126.4,268 127,264.7 127.7,268.6 128.4,269.2 129.1,271 129.7,269.1 130.4,267.1 131.1,270.6 131.8,275.7 132.4,269.2 133.1,270.3 133.8,267.9 134.4,268.9 135.1,263.6 135.8,273.4 136.5,272.7 137.1,266.5 137.8,272.6 138.5,267.8 139.2,269.2 139.8,275.6 140.5,266 141.2,263.6 141.9,267.4 142.5,272.9 143.2,264.8 143.9,271.6 144.6,268.1 145.2,266 145.9,270.3 146.6,273.8 147.2,268.1 147.9,267.8 148.6,270.7 149.3,270.3 149.9,265.2 150.6,267.9 151.3,269.3 152,269.9 152.6,267 153.3,267.3 154,268.1 154.7,272.4 155.3,268.4 156,269 156.7,266.2 157.3,262.4 158,263.2 158.7,264 159.4,266.1 160,267.7 160.7,265.1 161.4,267.9 162.1,267.7 162.7,269.5 163.4,266.6 164.1,266.5 164.8,259.8 165.4,264.3 166.1,267.3 166.8,263.3 167.5,267.8 168.1,262.8 168.8,263.5 169.5,256.2 170.1,270.1 170.8,266.9 171.5,267 172.2,265.2 172.8,264 173.5,269.5 174.2,268.4 174.9,264.9 175.5,262.8 176.2,269.7 176.9,271.4 177.6,262.1 178.2,263.4 178.9,262.3 179.6,269.4 180.2,266.9 180.9,265.4 181.6,264.5 182.3,266.5 182.9,266.3 183.6,262.8 184.3,268.3 185,268.5 185.6,268.1 186.3,268.6 187,266.2 187.7,267.8 188.3,269.1 189,262.5 189.7,266 190.3,268.5 191,263 191.7,268.9 192.4,267 193,267.3 193.7,268.6 194.4,267.8 195.1,266.2 195.7,271.3 196.4,267.9 197.1,265.8 197.8,265.7 198.4,265.4 199.1,258.8 199.8,264.2 200.5,266.9 201.1,267.2 201.8,266.6 202.5,264.5 203.1,266.9 203.8,261 204.5,269.4 205.2,263.5 205.8,264 206.5,269.5 207.2,263.8 207.9,264.4 208.5,268.7 209.2,259 209.9,264.4 210.6,267.6 211.2,268 211.9,268.8 212.6,265 213.2,265.6 213.9,270.7 214.6,269.7 215.3,268.4 215.9,267.3 216.6,267.6 217.3,269 218,264.3 218.6,263.2 219.3,266.2 220,273.4 220.7,266.8 221.3,264.4 222,266.7 222.7,265.6 223.4,266 224,271 224.7,274.4 225.4,264.1 226,267.3 226.7,264.6 227.4,266.8 228.1,266.3 228.7,261.2" fill="none" stroke="#2ca02c" stroke-opacity="0.5" stroke-width="0.6" stroke-linejoin="round"/>
<polyline points="44.2,371 44.9,373.7 45.5,377.8 46.2,366.3 46.9,370.4 47.6,362.7 48.2,371.9 48.9,380.1 49.6,373.9 50.3,365 50.9,361.4 51.6,363.4 52.3,355.2 53,363.6 53.6,359.2 54.3,348 55,350.1 55.6,347 56.3,337.6 57,334.3 57.7,338.9 58.3,328.6 59,333 59.7,320.1 60.4,313.8 61,319.3 61.7,300.1 62.4,295 63.1,299.1 63.7,294.7 64.4,290 65.1,296 65.8,289 66.4,290.6 67.1,298 67.8,294.1 68.4,291.7 69.1,283.1 69.8,286.7 70.5,282.1 71.1,288 71.8,290.7 72.5,276.2 73.2,272.8 73.8,282.3 74.5,284.5 75.2,278.6 75.9,288 76.5,283.6 77.2,288.3 77.9,279.9 78.5,280.6 79.2,283 79.9,283.9 80.6,287.1 81.2,284.1 81.9,275.6 82.6,281.9 83.3,275.7 83.9,283.3 84.6,279.8 85.3,280.8 86,279.7 86.6,275.8 87.3,285.7 88,275.2 88.7,274.9 89.3,277.1 90,276.1 90.7,276.8 91.3,272.9 92,275.1 92.7,278.3 93.4,274.4 94,270.8 94.7,272.9 95.4,274.3 96.1,273.9 96.7,275.8 97.4,275.3 98.1,280.4 98.8,274 99.4,269.5 100.1,274.3 100.8,276.1 101.4,269.7 102.1,272.1 102.8,272 103.5,270.7 104.1,270 104.8,272.6 105.5,275.9 106.2,266.1 106.8,272 107.5,274.8 108.2,271.6 108.9,267.6 109.5,276.4 110.2,265.9 110.9,271.2 111.5,263.8 112.2,268.4 112.9,271.1 113.6,266 114.2,266.1 114.9,271.6 115.6,269.2 116.3,271.8 116.9,266.4 117.6,274.9 118.3,270.6 119,277.6 119.6,267.3 120.3,277.9 121,273.9 121.7,269.1 122.3,271.1 123,271.5 123.7,273.7 124.3,272.2 125,276.6 125.7,268.9 126.4,267.3 127,267.5 127.7,270.5 128.4,265.7 129.1,268.3 129.7,266.6 130.4,268.5 131.1,269.9 131.8,272.3 132.4,278.6 133.1,266.6 133.8,269.4 134.4,261.8 135.1,275.7 135.8,266 136.5,272.3 137.1,268.7 137.8,271.7 138.5,267.3 139.2,268.7 139.8,265.6 140.5,268.1 141.2,266.7 141.9,263.7 142.5,266.9 143.2,269.1 143.9,263.9 144.6,268.4 145.2,266.5 145.9,269.1 146.6,270.4 147.2,278.8 147.9,265.8 148.6,272.5 149.3,266 149.9,262.1 150.6,273.1 151.3,265.5 152,269.2 152.6,267.2 153.3,272.9 154,268.6 154.7,268.2 155.3,263.9 156,261.9 156.7,267.8 157.3,270.2 158,261.2 158.7,269.5 159.4,269.4 160,268.7 160.7,267.1 161.4,266.3 162.1,270.6 162.7,268.6 163.4,261.6 164.1,262.7 164.8,266.6 165.4,267.1 166.1,268.2 166.8,263.9 167.5,268.9 168.1,266.3 168.8,268.3 169.5,268.9 170.1,266 170.8,265.9 171.5,267.8 172.2,266.2 172.8,265.6 173.5,267.5 174.2,267.9 174.9,266.6 175.5,263.9 176.2,262.6 176.9,265.7 177.6,267.4 178.2,266.4 178.9,259.8 179.6,263.3 180.2,270.1 180.9,267.2 181.6,269.2 182.3,269 182.9,273 183.6,267.1 184.3,271.9 185,269.1 185.6,262.2 186.3,264.1 187,270.4 187.7,271 188.3,270.9 189,273.8 189.7,270.6 190.3,268.3 191,270.8 191.7,264.9 192.4,267.6 193,269 193.7,261.4 194.4,264.9 195.1,266.6 195.7,260.5 196.4,262.1 197.1,269.2 197.8,265.8 198.4,268.5 199.1,272 199.8,260.9 200.5,261.8 201.1,271.3 201.8,265.3 202.5,272.4 203.1,263.5 203.8,267.2 204.5,267.9 205.2,263.2 205.8,267.1 206.5,268.3 207.2,264.4 207.9,268.2 208.5,264 209.2,267 209.9,264.2 210.6,264.9 211.2,264.3 211.9,270.2 212.6,260.5 213.2,267.8 213.9,261.3 214.6,269.2 215.3,267.8 215.9,267.8 216.6,263.1 217.3,268.2 218,265.7 218.6,272.4 219.3,268.6 220,266.4 220.7,267.1 221.3,273 222,265.2 222.7,270.4 223.4,261.2 224,268.2 224.7,260.4 225.4,265.7 226,266.3 226.7,269.6 227.4,267.8 228.1,265.9 228.7,273.7" fill="none" stroke="#d62728" stroke-opacity="0.5" stroke-width="0.6" stroke-linejoin="round"/>
<polyline points="44.2,372.2 44.9,373.2 45.5,375 46.2,365.5 46.9,370.5 47.6,370.5 48.2,361.9 48.9,362.1 49.6,356.9 50.3,363.2 50.9,350.9 51.6,353 52.3,353.4 53,354 53.6,353.3 54.3,351.9 55,334.1 55.6,344.9 56.3,330.3 57,330 57.7,326.7 58.3,321.5 59,315.3 59.7,306.8 60.4,304.4 61,303.3 61.7,306.8 62.4,305.7 63.1,285.8 63.7,297.4 64.4,298.7 65.1,285.5 65.8,296.8 66.4,285.6 67.1,283.6 67.8,285.5 68.4,281.9 69.1,292 69.8,290.2 70.5,284.4 71.1,283 71.8,283.2 72.5,280.1 73.2,284.5 73.8,289.8 74.5,279 75.2,281.6 75.9,277.1 76.5,271.6 77.2,279.9 77.9,277.7 78.5,283.1 79.2,275.1 79.9,277 80.6,277.2 81.2,273.9 81.9,281.9 82.6,274.9 83.3,275.1 83.9,270.5 84.6,283.1 85.3,276.3 86,267.1 86.6,276.5 87.3,276.4 88,267.6 88.7,264.5 89.3,273.4 90,276.4 90.7,275.8 91.3,275.2 92,276.5 92.7,276.4 93.4,272.8 94,273.2 94.7,271.3 95.4,273 96.1,277.7 96.7,270 97.4,271.6 98.1,274.7 98.8,273.9 99.4,271.4 100.1,272.5 100.8,273 101.4,269.5 102.1,268.1 102.8,273.2 103.5,271.9 104.1,275.9 104.8,272.1 105.5,269.1 106.2,267.8 106.8,270.6 107.5,271.6 108.2,273.8 108.9,270.3 109.5,274.9 110.2,270.2 110.9,270.7 111.5,273.9 112.2,269.4 112.9,271 113.6,267.8 114.2,271.5 114.9,268 115.6,263.9 116.3,268.8 116.9,266.6 117.6,271.8 118.3,270.5 119,276.2 119.6,269.8 120.3,273.3 121,268.2 121.7,276.1 122.3,271.5 123,267.8 123.7,267 124.3,274.1 125,269.2 125.7,258.2 126.4,264.3 127,266.8 127.7,277.3 128.4,270.4 129.1,264.9 129.7,266.1 130.4,265.4 131.1,263.3 131.8,266.5 132.4,263.7 133.1,273.3 133.8,257.7 134.4,267.7 135.1,269.1 135.8,261.1 136.5,264.4 137.1,263 137.8,268.5 138.5,265.3 139.2,263.7 139.8,270.3 140.5,267.2 141.2,266.9 141.9,267.1 142.5,268.6 143.2,270.5 143.9,264 144.6,264.6 145.2,261.6 145.9,265.8 146.6,268.1 147.2,270.8 147.9,265.1 148.6,266.6 149.3,257.9 149.9,256.9 150.6,259.4 151.3,268.1 152,269.9 152.6,265.5 153.3,267.9 154,259.7 154.7,264.2 155.3,266.5 156,265.4 156.7,260.8 157.3,268.8 158,263.7 158.7,269.9 159.4,265.9 160,267.5 160.7,263.5 161.4,264.2 162.1,260.4 162.7,262.2 163.4,267 164.1,269.6 164.8,267.8 165.4,266.4 166.1,266 166.8,267.9 167.5,261.6 168.1,262 168.8,266.2 169.5,266.8 170.1,265.6 170.8,265.2 171.5,265.2 172.2,270.8 172.8,267.2 173.5,272 174.2,265.2 174.9,263.5 175.5,269.2 176.2,264.9 176.9,267.7 177.6,267.9 178.2,258.4 178.9,262.3 179.6,263.7 180.2,266.7 180.9,263.9 181.6,266.2 182.3,263.9 182.9,268.8 183.6,266 184.3,267.2 185,271 185.6,260.1 186.3,263 187,268.8 187.7,271.1 188.3,268.8 189,269.1 189.7,268.6 190.3,271.7 191,269.1 191.7,266.2 192.4,265.3 193,273.5 193.7,266.5 194.4,270.2 195.1,270.2 195.7,267.3 196.4,269 197.1,263.9 197.8,263.6 198.4,266.7 199.1,267.2 199.8,258.8 200.5,258.8 201.1,263.6 201.8,265.7 202.5,261.4 203.1,259.9 203.8,266.6 204.5,258.7 205.2,265.3 205.8,260.7 206.5,266 207.2,264 207.9,265.9 208.5,263.8 209.2,260.7 209.9,267.5 210.6,265.1 211.2,262.3 211.9,265.6 212.6,257.2 213.2,269 213.9,255.5 214.6,266.2 215.3,260.5 215.9,258 216.6,261.8 217.3,268.2 218,264.6 218.6,263.1 219.3,261.6 220,260.4 220.7,259.9 221.3,258.9 222,266.9 222.7,260.6 223.4,269.4 224,262.9 224.7,267.4 225.4,269.9 226,261 226.7,264.2 227.4,260.9 228.1,269.3 228.7,267.9" fill="none" stroke="#9467bd" stroke-opacity="0.5" stroke-width="0.6" stroke-linejoin="round"/>
<polyline points="44.2,373.8 44.9,387.4 45.5,380.4 46.2,382.8 46.9,360.3 47.6,369.9 48.2,369.7 48.9,371.3 49.6,371.1 50.3,378.9 50.9,350.1 51.6,359.7 52.3,356.5 53,361.4 53.6,351.7 54.3,346 55,344.5 55.6,337.1 56.3,340.6 57,329.6 57.7,321.7 58.3,318.6 59,315 59.7,313.2 60.4,313.7 61,302 61.7,303.3 62.4,302.8 63.1,291.5 63.7,300.3 64.4,293.3 65.1,286 65.8,284.5 66.4,289.6 67.1,286.8 67.8,283.3 68.4,285.6 69.1,288.5 69.8,282.9 70.5,283.7 71.1,283.4 71.8,278.2 72.5,281.5 73.2,283.8 73.8,280.8 74.5,272.5 75.2,283.7 75.9,281.4 76.5,283.4 77.2,278.2 77.9,284.8 78.5,277.6 79.2,276.2 79.9,282.2 80.6,282.1 81.2,284.2 81.9,277.8 82.6,282.1 83.3,279.7 83.9,278.3 84.6,278.8 85.3,272.6 86,269.5 86.6,283.5 87.3,278.6 88,273.8 88.7,278.7 89.3,276.5 90,273.5 90.7,268.8 91.3,269.6 92,274.8 92.7,272.9 93.4,274.6 94,273.7 94.7,277.8 95.4,280.2 96.1,274.4 96.7,268.9 97.4,269.6 98.1,279.7 98.8,273.2 99.4,275 100.1,271.3 100.8,276.3 101.4,268.4 102.1,272.8 102.8,269.5 103.5,268 104.1,278.6 104.8,272 105.5,265.1 106.2,270.8 106.8,266.7 107.5,269.1 108.2,272.7 108.9,269.8 109.5,267.1 110.2,266.2 110.9,265.7 111.5,275.5 112.2,268 112.9,276 113.6,271 114.2,271.4 114.9,267.9 115.6,268.6 116.3,265 116.9,271.9 117.6,266.5 118.3,268.3 119,269.8 119.6,274.8 120.3,268.3 121,269.5 121.7,267.2 122.3,269.9 123,270.6 123.7,267.7 124.3,267.7 125,266.8 125.7,262 126.4,271.4 127,261.9 127.7,280.3 128.4,265.5 129.1,272.2 129.7,261.7 130.4,272 131.1,264.8 131.8,272.5 132.4,272.9 133.1,265.7 133.8,265 134.4,271 135.1,259.3 135.8,269.3 136.5,262.5 137.1,271.9 137.8,271.8 138.5,267.6 139.2,271.6 139.8,266.3 140.5,276.1 141.2,267.2 141.9,269.8 142.5,271.3 143.2,267 143.9,268.7 144.6,270 145.2,265.8 145.9,267.8 146.6,267.5 147.2,264.5 147.9,269.7 148.6,265.9 149.3,270.4 149.9,266.7 150.6,267.3 151.3,271.1 152,274.2 152.6,273.2 153.3,272 154,266.6 154.7,268.8 155.3,269.6 156,266.9 156.7,266.1 157.3,263.7 158,271 158.7,266.3 159.4,265.4 160,271.3 160.7,267.3 161.4,270.7 162.1,268.1 162.7,266 163.4,273.4 164.1,270.5 164.8,270.1 165.4,266.7 166.1,269.8 166.8,266.2 167.5,270.2 168.1,269 168.8,264.6 169.5,265.3 170.1,265.6 170.8,266 171.5,262.1 172.2,260.9 172.8,267.5 173.5,269.1 174.2,270 174.9,260.2 175.5,269.3 176.2,270.7 176.9,265.2 177.6,262.3 178.2,270.5 178.9,266.2 179.6,270.8 180.2,268.3 180.9,259.9 181.6,265.1 182.3,266.7 182.9,266.1 183.6,265.5 184.3,266.9 185,270.8 185.6,270.6 186.3,259.7 187,269.4 187.7,262.2 188.3,269 189,261.5 189.7,263.8 190.3,267.2 191,259.1 191.7,269.2 192.4,267.2 193,269.3 193.7,269 194.4,267.7 195.1,269.8 195.7,267.7 196.4,260.9 197.1,272.3 197.8,270.6 198.4,269.7 199.1,268 199.8,263.2 200.5,263.8 201.1,264.5 201.8,265.2 202.5,257.6 203.1,269.9 203.8,270.2 204.5,266 205.2,265.3 205.8,267.1 206.5,268.8 207.2,271 207.9,267.4 208.5,268.8 209.2,268.3 209.9,270.3 210.6,262.1 211.2,265.1 211.9,260.1 212.6,268.2 213.2,266.1 213.9,267.2 214.6,266.1 215.3,266.9 215.9,267.1 216.6,273.3 217.3,267.6 218,264.3 218.6,273.1 219.3,267.6 220,264.5 220.7,262.2 221.3,266.3 222,264.5 222.7,260.1 223.4,261.6 224,267.6 224.7,267.9 225.4,262.4 226,265.1 226.7,267.5 227.4,266.3 228.1,264.2 228.7,265.9" fill="none" stroke="#8c564b" stroke-opacity="0.5" stroke-width="0.6" stroke-linejoin="round"/>
<polyline points="44.2,369 44.9,370.9 45.5,375.8 46.2,378.4 46.9,372.7 47.6,370.7 48.2,367.6 48.9,371.8 49.6,357.5 50.3,367.1 50.9,358.2 51.6,358.6 52.3,362.9 53,354.5 53.6,352.9 54.3,351.6 55,343.7 55.6,347.1 56.3,328.2 57,330.7 57.7,336.1 58.3,338.4 59,315.6 59.7,316.2 60.4,312.4 61,313.9 61.7,312.6 62.4,311.4 63.1,287.7 63.7,289.7 64.4,297.8 65.1,285.1 65.8,300.5 66.4,287.8 67.1,286.6 67.8,292.4 68.4,289.3 69.1,291.2 69.8,285.5 70.5,278.9 71.1,279.5 71.8,281 72.5,277.7 73.2,289.6 73.8,272.6 74.5,281.2 75.2,285.8 75.9,281.3 76.5,282 77.2,278.6 77.9,277.1 78.5,287.4 79.2,272 79.9,270.2 80.6,281.1 81.2,271.2 81.9,272 82.6,272.8 83.3,270.4 83.9,282 84.6,273.9 85.3,280.5 86,267.7 86.6,280.2 87.3,280.5 88,271.1 88.7,272.7 89.3,274.8 90,274.3 90.7,272.5 91.3,268.2 92,277.6 92.7,277.1 93.4,277.1 94,275 94.7,274.2 95.4,278.9 96.1,272.7 96.7,278.5 97.4,274.7 98.1,274.8 98.8,274.7 99.4,267.7 100.1,266.6 100.8,268.5 101.4,266.3 102.1,273.3 102.8,267.1 103.5,272.5 104.1,271.5 104.8,270.8 105.5,276.9 106.2,274 106.8,271.8 107.5,269.8 108.2,271.6 108.9,274.8 109.5,275.7 110.2,271.6 110.9,275.9 111.5,275.4 112.2,270.6 112.9,269.3 113.6,273.1 114.2,276.3 114.9,268.3 115.6,266.4 116.3,271 116.9,270.7 117.6,278 118.3,265.9 119,273.7 119.6,266.6 120.3,271.4 121,269.9 121.7,269.9 122.3,276.4 123,259.1 123.7,275.2 124.3,268.4 125,272.2 125.7,270.7 126.4,264.7 127,276.9 127.7,270.5 128.4,268.5 129.1,269.9 129.7,269.3 130.4,273.5 131.1,276.5 131.8,275.1 132.4,271.8 133.1,267.3 133.8,269.8 134.4,264.3 135.1,269.7 135.8,269.1 136.5,268.6 137.1,275.5 137.8,267.1 138.5,273.3 139.2,270.1 139.8,259.7 140.5,273 141.2,267.6 141.9,267 142.5,267.5 143.2,268.1 143.9,270 144.6,260.3 145.2,274.8 145.9,271 146.6,261.5 147.2,264.9 147.9,269.8 148.6,270.2 149.3,268.1 149.9,257.4 150.6,265.2 151.3,271 152,266.3 152.6,269.5 153.3,261.8 154,266 154.7,262.3 155.3,266.3 156,259.6 156.7,265.4 157.3,265.8 158,270.5 158.7,268.2 159.4,265.4 160,268.9 160.7,258.1 161.4,267.2 162.1,269.7 162.7,263.3 163.4,268.5 164.1,265.4 164.8,267.1 165.4,269.3 166.1,261.6 166.8,266.3 167.5,262.4 168.1,267.7 168.8,271.6 169.5,271.1 170.1,268.4 170.8,267.1 171.5,266 172.2,264.6 172.8,271.2 173.5,266.2 174.2,271.2 174.9,269.2 175.5,257.7 176.2,262.6 176.9,268.4 177.6,260.8 178.2,262 178.9,263.7 179.6,261.5 180.2,267.3 180.9,266.7 181.6,269.5 182.3,264.3 182.9,270.9 183.6,268.1 184.3,264.4 185,267.8 185.6,264.9 186.3,259.4 187,269.2 187.7,260.3 188.3,267.8 189,268.7 189.7,264.6 190.3,261.5 191,267.6 191.7,267.7 192.4,266.5 193,267.7 193.7,264.5 194.4,267.8 195.1,266.3 195.7,264.3 196.4,267 197.1,261.2 197.8,267.8 198.4,268.3 199.1,258.4 199.8,260.1 200.5,265 201.1,262.4 201.8,264 202.5,267.1 203.1,262.9 203.8,264 204.5,260.8 205.2,272.1 205.8,262.7 206.5,265 207.2,267.8 207.9,267.1 208.5,267.1 209.2,270.2 209.9,267.5 210.6,262.9 211.2,270.9 211.9,266.8 212.6,273.6 213.2,267.4 213.9,263.9 214.6,265.4 215.3,265.1 215.9,269.7 216.6,263.8 217.3,268.9 218,262.5 218.6,264.5 219.3,266.2 220,259.6 220.7,266.2 221.3,261.3 222,264.5 222.7,264.8 223.4,261.4 224,263.2 224.7,264.5 225.4,264.9 226,263.4 226.7,264.1 227.4,265.7 228.1,268.3 228.7,273.5" fill="none" stroke="#e377c2" stroke-opacity="0.5" stroke-width="0.6" stroke-linejoin="round"/>
<polyline points="44.2,367.7 44.9,383.5 45.5,376.9 46.2,373.2 46.9,377.6 47.6,371.2 48.2,366.6 48.9,372.7 49.6,359.7 50.3,369.9 50.9,362.8 51.6,358.2 52.3,341.6 53,364.7 53.6,351.9 54.3,337.8 55,350.5 55.6,338.7 56.3,339.6 57,342.8 57.7,328.9 58.3,330.2 59,320.3 59.7,324.4 60.4,308.3 61,319.8 61.7,305.4 62.4,295.5 63.1,296 63.7,297.8 64.4,295 65.1,294.4 65.8,278.4 66.4,290.4 67.1,288.8 67.8,290.9 68.4,289.1 69.1,283.8 69.8,288.3 70.5,288.5 71.1,286.9 71.8,285.2 72.5,282.2 73.2,285.1 73.8,283.2 74.5,285.7 75.2,277 75.9,281.4 76.5,282.1 77.2,278.8 77.9,280.1 78.5,285.9 79.2,279.8 79.9,272.1 80.6,276.7 81.2,273.8 81.9,281.1 82.6,283.9 83.3,280.1 83.9,272.2 84.6,280.7 85.3,279.4 86,272 86.6,277.1 87.3,276.1 88,273.2 88.7,274 89.3,275 90,272.6 90.7,276.8 91.3,274.6 92,271.7 92.7,278.2 93.4,274.7 94,278.2 94.7,270.6 95.4,271.1 96.1,269.6 96.7,269.2 97.4,269.3 98.1,270.5 98.8,276.1 99.4,269.2 100.1,276.3 100.8,263.4 101.4,271.2 102.1,270 102.8,276.5 103.5,267.7 104.1,267.3 104.8,277.6 105.5,273.6 106.2,273.1 106.8,273.6 107.5,265.9 108.2,262.6 108.9,274.5 109.5,266.5 110.2,271.4 110.9,265 111.5,279.1 112.2,270.8 112.9,264.6 113.6,271.9 114.2,264.1 114.9,270.7 115.6,264 116.3,265.8 116.9,269.7 117.6,270.9 118.3,268.6 119,263.3 119.6,267.8 120.3,270.2 121,255.4 121.7,273.8 122.3,268.7 123,266.2 123.7,272 124.3,268.3 125,270.1 125.7,274.1 126.4,266.9 127,273.1 127.7,272.2 128.4,264.9 129.1,273.1 129.7,267 130.4,265 131.1,265.7 131.8,267.4 132.4,269.6 133.1,273.9 133.8,267.9 134.4,266.9 135.1,270.3 135.8,272.3 136.5,265.4 137.1,272.3 137.8,266.6 138.5,270 139.2,274.1 139.8,261.8 140.5,265.7 141.2,265.9 141.9,272.9 142.5,268.2 143.2,267.1 143.9,270.7 144.6,261.9 145.2,275.1 145.9,265.2 146.6,274.9 147.2,273.6 147.9,272.6 148.6,265.6 149.3,270.3 149.9,269.6 150.6,270.5 151.3,272.5 152,270.3 152.6,270.1 153.3,267.5 154,267.7 154.7,274.8 155.3,268.2 156,261.2 156.7,267.2 157.3,265.7 158,268 158.7,267.6 159.4,265.6 160,270 160.7,265.4 161.4,270.6 162.1,263.3 162.7,270.3 163.4,262.5 164.1,261.5 164.8,270.6 165.4,262.5 166.1,266.8 166.8,261.2 167.5,267.4 168.1,266.8 168.8,267 169.5,261.4 170.1,273.1 170.8,263.3 171.5,266.1 172.2,268 172.8,267.3 173.5,263.1 174.2,264 174.9,261.2 175.5,269.9 176.2,274.5 176.9,269.7 177.6,268.2 178.2,268.9 178.9,263.5 179.6,259.5 180.2,265.9 180.9,273.7 181.6,263.6 182.3,269.1 182.9,266.7 183.6,263.8 184.3,265.7 185,267.4 185.6,265.9 186.3,264.5 187,264.8 187.7,259.8 188.3,277.3 189,269.5 189.7,268.9 190.3,264 191,266 191.7,263.9 192.4,272.3 193,267.9 193.7,264.7 194.4,267.1 195.1,268.1 195.7,266 196.4,261.4 197.1,274.6 197.8,261.6 198.4,265.6 199.1,269.3 199.8,264 200.5,265.9 201.1,261.8 201.8,268.7 202.5,262.9 203.1,269.2 203.8,264.7 204.5,263.3 205.2,265.8 205.8,263.2 206.5,267.3 207.2,261.4 207.9,266.8 208.5,267.4 209.2,265.6 209.9,265.2 210.6,268.2 211.2,262.3 211.9,265.8 212.6,263.3 213.2,270.4 213.9,270 214.6,266.6 215.3,269 215.9,266 216.6,263.5 217.3,261.7 218,260.3 218.6,262.6 219.3,267.9 220,263.3 220.7,267.1 221.3,263.4 222,269 222.7,260.9 223.4,264.2 224,266.6 224.7,269.7 225.4,264.4 226,267.1 226.7,264.4 227.4,268.1 228.1,267.5 228.7,263.3" fill="none" stroke="#7f7f7f" stroke-opacity="0.5" stroke-width="0.6" stroke-linejoin="round"/>
<polyline points="44.2,376.7 44.9,372.5 45.5,376.6 46.2,369.6 46.9,374.8 47.6,363.2 48.2,358 48.9,369.4 49.6,376.2 50.3,363.4 50.9,360.8 51.6,355.2 52.3,354 53,348.6 53.6,334.8 54.3,348.6 55,344.2 55.6,335.5 56.3,342.4 57,324.5 57.7,326.5 58.3,325.9 59,318.1 59.7,307.3 60.4,302 61,296.2 61.7,297.1 62.4,300.1 63.1,291.9 63.7,293.3 64.4,279.7 65.1,299.9 65.8,281.3 66.4,283.7 67.1,284.8 67.8,286.2 68.4,287.9 69.1,289.1 69.8,291.1 70.5,274.1 71.1,278 71.8,278.9 72.5,279.5 73.2,289.2 73.8,282 74.5,279.8 75.2,274.9 75.9,283.5 76.5,277.9 77.2,280.2 77.9,278.9 78.5,282.2 79.2,277.1 79.9,277.8 80.6,285.6 81.2,272.9 81.9,268.6 82.6,280 83.3,271.7 83.9,279.7 84.6,277.8 85.3,269.1 86,274.6 86.6,269.1 87.3,273.3 88,269.9 88.7,274.3 89.3,268.2 90,266.8 90.7,270.7 91.3,275.4 92,274.2 92.7,276.1 93.4,270.3 94,270.3 94.7,274.9 95.4,268.2 96.1,273.9 96.7,264.8 97.4,268.3 98.1,265.2 98.8,273.6 99.4,274.3 100.1,277.5 100.8,268.2 101.4,275.3 102.1,265.6 102.8,270.2 103.5,267.4 104.1,275.1 104.8,272.5 105.5,269 106.2,266.9 106.8,274.6 107.5,267.8 108.2,272.2 108.9,266 109.5,269.5 110.2,269.6 110.9,266.8 111.5,264 112.2,269 112.9,263.5 113.6,271.5 114.2,265.9 114.9,270.8 115.6,265.2 116.3,269.4 116.9,265.7 117.6,263.4 118.3,269.5 119,272.2 119.6,266.4 120.3,263.8 121,264.9 121.7,269.3 122.3,262.8 123,266.5 123.7,263 124.3,268.8 125,263.5 125.7,260.8 126.4,267.8 127,266.4 127.7,263.2 128.4,264 129.1,264.6 129.7,266.6 130.4,271.8 131.1,266 131.8,271.1 132.4,266.1 133.1,275.4 133.8,261.6 134.4,259.7 135.1,264.9 135.8,269.6 136.5,267.3 137.1,263.3 137.8,264.1 138.5,269.4 139.2,262.7 139.8,264.1 140.5,264.6 141.2,267.7 141.9,266.4 142.5,268.6 143.2,265.1 143.9,268.3 144.6,261.8 145.2,265.8 145.9,264.9 146.6,264.4 147.2,264 147.9,270.2 148.6,260.4 149.3,265 149.9,267.5 150.6,269.4 151.3,268 152,267.8 152.6,265.6 153.3,268.5 154,265.1 154.7,264.8 155.3,268 156,257.2 156.7,265.8 157.3,264.8 158,265.4 158.7,266.2 159.4,263.2 160,260.5 160.7,265.5 161.4,268.3 162.1,263.6 162.7,273.1 163.4,264.5 164.1,265.8 164.8,264.1 165.4,270.7 166.1,266.7 166.8,268.7 167.5,267.3 168.1,263.4 168.8,266.2 169.5,267.8 170.1,261.4 170.8,265.9 171.5,272.8 172.2,269.2 172.8,264 173.5,264 174.2,265.1 174.9,265.1 175.5,269.1 176.2,266.1 176.9,270 177.6,268.7 178.2,268.8 178.9,268.3 179.6,266.4 180.2,266.4 180.9,268.2 181.6,261.4 182.3,266.7 182.9,259.9 183.6,261.5 184.3,269.3 185,261.7 185.6,269.9 186.3,260.1 187,264.2 187.7,268.7 188.3,272.7 189,266.2 189.7,269.5 190.3,261.1 191,268.9 191.7,265.3 192.4,263 193,264.6 193.7,263.7 194.4,264.9 195.1,261.4 195.7,267 196.4,261.7 197.1,267.8 197.8,263 198.4,267.7 199.1,264.2 199.8,261 200.5,258.7 201.1,269.2 201.8,265.8 202.5,266.7 203.1,259.3 203.8,266.7 204.5,261.1 205.2,265.8 205.8,269.1 206.5,263.5 207.2,267.7 207.9,261.7 208.5,261.6 209.2,260 209.9,268.2 210.6,259.6 211.2,261.7 211.9,271.2 212.6,257.5 213.2,259.3 213.9,268.6 214.6,263.8 215.3,269.5 215.9,265.3 216.6,263.8 217.3,262.3 218,266.9 218.6,263.9 219.3,266.9 220,262.1 220.7,261 221.3,263.1 222,259.3 222.7,260.6 223.4,262.1 224,259.2 224.7,267.1 225.4,263 226,268.7 226.7,262.5 227.4,264.3 228.1,260.4 228.7,264.7" fill="none" stroke="#bcbd22" stroke-opacity="0.5" stroke-width="0.6" stroke-linejoin="round"/>
<polyline points="44.2,380.7 44.9,379.8 45.5,384.9 46.2,370.7 46.9,375 47.6,377 48.2,373.5 48.9,369.6 49.6,365.9 50.3,368.3 50.9,366.7 51.6,357.8 52.3,358.5 53,346.4 53.6,356 54.3,347.5 55,340.2 55.6,346.3 56.3,336.5 57,335.2 57.7,331.1 58.3,318.9 59,326.7 59.7,320.4 60.4,321.1 61,309.3 61.7,300.3 62.4,303.5 63.1,295.3 63.7,300.2 64.4,289.7 65.1,293.8 65.8,294 66.4,283.2 67.1,289.1 67.8,285.5 68.4,286.9 69.1,283.1 69.8,284.8 70.5,290.2 71.1,283.2 71.8,281.9 72.5,281.6 73.2,283.6 73.8,274.2 74.5,284.4 75.2,280.2 75.9,279.4 76.5,284.3 77.2,284.6 77.9,276.8 78.5,276.9 79.2,278.9 79.9,285.6 80.6,279.9 81.2,277.7 81.9,275.9 82.6,273.5 83.3,276.4 83.9,274.4 84.6,271.5 85.3,286.4 86,273.8 86.6,278.2 87.3,274.4 88,275.4 88.7,279.6 89.3,279.3 90,274.4 90.7,276.1 91.3,272.9 92,276.9 92.7,267.2 93.4,275.7 94,267 94.7,277.5 95.4,272.3 96.1,270 96.7,278.6 97.4,276.9 98.1,271.8 98.8,268.9 99.4,267.7 100.1,270.4 100.8,269 101.4,277.1 102.1,273.9 102.8,267.1 103.5,274.3 104.1,273 104.8,278.5 105.5,272.5 106.2,277.3 106.8,269.9 107.5,265.7 108.2,269.8 108.9,270.3 109.5,272.4 110.2,268.9 110.9,275.1 111.5,272.8 112.2,262.8 112.9,275.5 113.6,272.8 114.2,275.7 114.9,266.3 115.6,271.1 116.3,275.2 116.9,275.2 117.6,266.5 118.3,267.8 119,267.3 119.6,270.1 120.3,266.6 121,265 121.7,267.5 122.3,275.5 123,276.5 123.7,274.8 124.3,268.5 125,274.4 125.7,272.7 126.4,269 127,271.6 127.7,272.7 128.4,264.5 129.1,266.1 129.7,265.5 130.4,264.8 131.1,262.4 131.8,268 132.4,268.9 133.1,274.5 133.8,269.1 134.4,270.9 135.1,265.2 135.8,266.3 136.5,263.2 137.1,265.1 137.8,264.6 138.5,266.8 139.2,268.2 139.8,270.4 140.5,269.1 141.2,272.9 141.9,267.9 142.5,269.8 143.2,276.3 143.9,278.3 144.6,271.3 145.2,270.7 145.9,269.6 146.6,263.6 147.2,270.2 147.9,272.3 148.6,266 149.3,263.6 149.9,261.4 150.6,271 151.3,267.9 152,268.3 152.6,261.9 153.3,264.8 154,267.1 154.7,264.7 155.3,268 156,267.8 156.7,267.3 157.3,269 158,268.2 158.7,265.9 159.4,266.5 160,262.2 160.7,264.5 161.4,268.1 162.1,275.7 162.7,273.3 163.4,269.9 164.1,269 164.8,272.1 165.4,268.7 166.1,267 166.8,269.6 167.5,267.9 168.1,267.4 168.8,269.2 169.5,270 170.1,267 170.8,265.6 171.5,270.3 172.2,273.8 172.8,269.8 173.5,264.5 174.2,271.6 174.9,263.2 175.5,268.2 176.2,265.7 176.9,268.6 177.6,264.2 178.2,266.1 178.9,265.1 179.6,273.4 180.2,264.6 180.9,272.3 181.6,267.6 182.3,265 182.9,267.4 183.6,265 184.3,266.4 185,266.8 185.6,269.8 186.3,263.5 187,263.3 187.7,269 188.3,270.2 189,265.9 189.7,269.2 190.3,266.1 191,264.2 191.7,264.5 192.4,262.1 193,265.4 193.7,270.2 194.4,269.3 195.1,264.7 195.7,260.3 196.4,267.8 197.1,269.8 197.8,262 198.4,267 199.1,264.1 199.8,262.8 200.5,269.6 201.1,267.5 201.8,267.9 202.5,264.3 203.1,264.1 203.8,267.9 204.5,264.5 205.2,272.1 205.8,265.4 206.5,265 207.2,266.1 207.9,270.5 208.5,266.1 209.2,269.3 209.9,260.9 210.6,266.5 211.2,266.2 211.9,265.8 212.6,263.7 213.2,265.2 213.9,263.9 214.6,268.8 215.3,262.3 215.9,267.4 216.6,263.4 217.3,264.9 218,262 218.6,265.7 219.3,269.9 220,268.5 220.7,266 221.3,260.7 222,266.7 222.7,265.1 223.4,261.2 224,267 224.7,263.9 225.4,264 226,266.6 226.7,263.9 227.4,261 228.1,260.8 228.7,265" fill="none" stroke="#17becf" stroke-opacity="0.5" stroke-width="0.6" stroke-linejoin="round"/>
<polygon points="44.2,371.8 44.9,373.9 45.5,372.5 46.2,368.4 46.9,365.1 47.6,365.1 48.2,363.8 48.9,363.2 49.6,361.1 50.3,359.8 50.9,356.4 51.6,354.7 52.3,351.5 53,350.1 53.6,346.7 54.3,343.5 55,340.6 55.6,338.6 56.3,334 57,330 57.7,325.8 58.3,320.4 59,315.9 59.7,310.9 60.4,306.2 61,302.2 61.7,298.5 62.4,297.5 63.1,291.4 63.7,291.4 64.4,289.3 65.1,286 65.8,285.3 66.4,284.7 67.1,285.3 67.8,284.6 68.4,283.6 69.1,283.4 69.8,282 70.5,280.8 71.1,280 71.8,280.6 72.5,277.8 73.2,280.4 73.8,276.9 74.5,277.8 75.2,276.5 75.9,278.1 76.5,277.6 77.2,276.5 77.9,276.7 78.5,276.9 79.2,274.1 79.9,275.1 80.6,274.4 81.2,273.4 81.9,272.8 82.6,274.4 83.3,273.6 83.9,273.5 84.6,273.3 85.3,273.4 86,270.3 86.6,273.1 87.3,273.2 88,270.8 88.7,270.4 89.3,271.8 90,271.2 90.7,272.2 91.3,271.1 92,271 92.7,271.8 93.4,270.4 94,271.2 94.7,270.6 95.4,270.2 96.1,269.9 96.7,269.6 97.4,269.3 98.1,269.3 98.8,268.7 99.4,268 100.1,269 100.8,267.6 101.4,268.4 102.1,268.2 102.8,268.4 103.5,266.6 104.1,269.3 104.8,270.1 105.5,267.9 106.2,267.5 106.8,268.8 107.5,267.3 108.2,267.7 108.9,267.5 109.5,269.2 110.2,266.3 110.9,266.6 111.5,266.8 112.2,265.2 112.9,266.5 113.6,267.4 114.2,266.6 114.9,266.5 115.6,265.4 116.3,266.9 116.9,265.4 117.6,267 118.3,265.7 119,268.1 119.6,266.1 120.3,265.1 121,264.1 121.7,265.9 122.3,266.4 123,265 123.7,265.8 124.3,265.5 125,265.6 125.7,264.1 126.4,264.2 127,264.8 127.7,266 128.4,263.9 129.1,266 129.7,263.9 130.4,265.6 131.1,264.4 131.8,265.8 132.4,265.5 133.1,265.1 133.8,263 134.4,263.4 135.1,263.5 135.8,264.6 136.5,263.9 137.1,265 137.8,264.9 138.5,265.4 139.2,264.8 139.8,263.8 140.5,264.3 141.2,264.2 141.9,265.3 142.5,266 143.2,264.7 143.9,264.7 144.6,262.7 145.2,265 145.9,264.4 146.6,263.9 147.2,264 147.9,265.2 148.6,264 149.3,262.9 149.9,260.8 150.6,264.3 151.3,264.9 152,264.4 152.6,263.6 153.3,264.9 154,263.2 154.7,264.5 155.3,264.1 156,262.5 156.7,263.2 157.3,264 158,263.7 158.7,264.5 159.4,264.2 160,264.5 160.7,262.8 161.4,264.5 162.1,263.6 162.7,264.2 163.4,263.4 164.1,263.2 164.8,263.8 165.4,263.9 166.1,263.6 166.8,262.4 167.5,263.6 168.1,263.4 168.8,263.4 169.5,262.7 170.1,263.1 170.8,263.6 171.5,263.7 172.2,263.7 172.8,263.7 173.5,263.4 174.2,264.2 174.9,261 175.5,263.3 176.2,263.3 176.9,264.3 177.6,262.5 178.2,262.9 178.9,261.4 179.6,263.7 180.2,263.2 180.9,263.6 181.6,263.2 182.3,264.2 182.9,264.2 183.6,263 184.3,264.1 185,264 185.6,262.8 186.3,261.3 187,263.3 187.7,262 188.3,264.6 189,263.7 189.7,264 190.3,263.5 191,263.2 191.7,262.6 192.4,262.3 193,263.8 193.7,263.1 194.4,264.4 195.1,263.5 195.7,262.9 196.4,261.6 197.1,263.8 197.8,261.6 198.4,262.4 199.1,263.1 199.8,259.6 200.5,261.5 201.1,263.2 201.8,263.2 202.5,261.7 203.1,262.2 203.8,262.2 204.5,262 205.2,262.2 205.8,262.4 206.5,263.3 207.2,262.8 207.9,262.9 208.5,262.9 209.2,261.8 209.9,262.6 210.6,261.8 211.2,262.2 211.9,262.1 212.6,261.1 213.2,262 213.9,262.3 214.6,263.2 215.3,263.3 215.9,262.8 216.6,261.4 217.3,262.8 218,261.6 218.6,262.8 219.3,262.3 220,261.9 220.7,261.5 221.3,261.7 222,261.9 222.7,260.7 223.4,260.9 224,261 224.7,262.4 225.4,262.3 226,262.8 226.7,262.9 227.4,262.4 228.1,261.8 228.7,262.5 228.7,270 228.1,268.3 227.4,267.6 226.7,267.7 226,267.4 225.4,268 224.7,269.3 224,268.5 223.4,268.3 222.7,266.7 222,268.8 221.3,268 220.7,268.7 220,268.4 219.3,269.4 218.6,268.4 218,267.4 217.3,268.4 216.6,267.9 215.9,269.1 215.3,268.7 214.6,269.4 213.9,268.6 213.2,270.3 212.6,268.8 211.9,269.7 211.2,268.7 210.6,268.1 209.9,269.6 209.2,268 208.5,269.1 207.9,268.3 207.2,268.3 206.5,268.4 205.8,268 205.2,269 204.5,268.7 203.8,269.6 203.1,269.5 202.5,269.1 201.8,270.2 201.1,269.9 200.5,268.1 199.8,267 199.1,270 198.4,269.7 197.8,268 197.1,270.3 196.4,268.2 195.7,268.8 195.1,268.6 194.4,269.4 193.7,268 193,270.3 192.4,268.2 191.7,269 191,269.2 190.3,269.3 189.7,270.1 189,269.7 188.3,272.3 187.7,269.3 187,270.6 186.3,267.7 185.6,269.2 185,269.8 184.3,269.1 183.6,268.1 182.9,269.6 182.3,269.9 181.6,269.5 180.9,269.1 180.2,270 179.6,269.7 178.9,269.2 178.2,269.5 177.6,268.8 176.9,270.1 176.2,270.3 175.5,270.8 174.9,268.5 174.2,270.8 173.5,269.7 172.8,269.9 172.2,270.2 171.5,269.6 170.8,269.6 170.1,269.9 169.5,270.2 168.8,269.9 168.1,269.1 167.5,269.3 166.8,268.8 166.1,270.1 165.4,270.6 164.8,270.2 164.1,269.7 163.4,269.9 162.7,271.7 162.1,270 161.4,270.4 160.7,268 160,269.6 159.4,268.8 158.7,269 158,269.3 157.3,269.8 156.7,269.6 156,268.2 155.3,270.9 154.7,270.3 154,269.7 153.3,270.8 152.6,270.6 152,270.6 151.3,272.2 150.6,272.2 149.9,270.3 149.3,272.3 148.6,272.4 147.9,273.6 147.2,272.2 146.6,271.4 145.9,271.9 145.2,272.4 144.6,271.2 143.9,272.2 143.2,270.9 142.5,271 141.9,270.6 141.2,270.5 140.5,272.2 139.8,271.9 139.2,272.6 138.5,271.9 137.8,271.5 137.1,272.3 136.5,271.6 135.8,272.9 135.1,271.8 134.4,271.9 133.8,271.4 133.1,273.3 132.4,273.4 131.8,273.4 131.1,271.9 130.4,272.6 129.7,270.3 129.1,271.8 128.4,271.4 127.7,274.3 127,272.9 126.4,272.4 125.7,271.8 125,273.3 124.3,272.4 123.7,273 123,273 122.3,274.3 121.7,274.2 121,272.8 120.3,273.5 119.6,273.8 119,274.1 118.3,272.4 117.6,273.4 116.9,272.8 116.3,273.4 115.6,271.3 114.9,273 114.2,272.9 113.6,274.3 112.9,273.3 112.2,273.5 111.5,275.3 110.9,273.9 110.2,273.2 109.5,275.4 108.9,274.5 108.2,274 107.5,273.3 106.8,275.1 106.2,274.1 105.5,274.6 104.8,276.6 104.1,275.8 103.5,273.1 102.8,275 102.1,274.5 101.4,275.5 100.8,275.6 100.1,276.7 99.4,275.5 98.8,276.1 98.1,276.7 97.4,277.3 96.7,275.9 96.1,276.8 95.4,275.9 94.7,277.6 94,276.9 93.4,277.6 92.7,277.9 92,277.6 91.3,276.8 90.7,278.2 90,278 89.3,279.4 88.7,279.8 88,280 87.3,281.6 86.6,280.8 86,278.8 85.3,282.1 84.6,281.7 83.9,281.8 83.3,281.8 82.6,282.6 81.9,281.2 81.2,282.2 80.6,284.1 79.9,283.4 79.2,282.6 78.5,284.6 77.9,284.9 77.2,285.4 76.5,286 75.9,286.5 75.2,284.7 74.5,287 73.8,286.8 73.2,288.2 72.5,284.9 71.8,286.4 71.1,287.9 70.5,288.9 69.8,290.5 69.1,291 68.4,290.7 67.8,292.4 67.1,293.9 66.4,296 65.8,296.8 65.1,297.7 64.4,298.5 63.7,301 63.1,301 62.4,308.9 61.7,311.4 61,316.5 60.4,320.7 59.7,324.8 59,329 58.3,332.5 57.7,336.8 57,340.4 56.3,345.2 55.6,351.3 55,353.4 54.3,356.7 53.6,359 53,362.4 52.3,361.4 51.6,364.6 50.9,366.1 50.3,371.5 49.6,372.1 48.9,375.2 48.2,374.6 47.6,377 46.9,375.9 46.2,378.9 45.5,382.7 44.9,384.1 44.2,382.5" fill="#0000ff" fill-opacity="0.15"/>
<polyline points="44.2,377.2 44.9,379 45.5,377.6 46.2,373.6 46.9,370.5 47.6,371 48.2,369.2 48.9,369.2 49.6,366.6 50.3,365.7 50.9,361.3 51.6,359.7 52.3,356.4 53,356.2 53.6,352.8 54.3,350.1 55,347 55.6,345 56.3,339.6 57,335.2 57.7,331.3 58.3,326.5 59,322.5 59.7,317.8 60.4,313.4 61,309.3 61.7,305 62.4,303.2 63.1,296.2 63.7,296.2 64.4,293.9 65.1,291.9 65.8,291 66.4,290.3 67.1,289.6 67.8,288.5 68.4,287.2 69.1,287.2 69.8,286.3 70.5,284.8 71.1,283.9 71.8,283.5 72.5,281.4 73.2,284.3 73.8,281.8 74.5,282.4 75.2,280.6 75.9,282.3 76.5,281.8 77.2,281 77.9,280.8 78.5,280.7 79.2,278.4 79.9,279.2 80.6,279.3 81.2,277.8 81.9,277 82.6,278.5 83.3,277.7 83.9,277.6 84.6,277.5 85.3,277.7 86,274.6 86.6,277 87.3,277.4 88,275.4 88.7,275.1 89.3,275.6 90,274.6 90.7,275.2 91.3,274 92,274.3 92.7,274.8 93.4,274 94,274 94.7,274.1 95.4,273.1 96.1,273.4 96.7,272.7 97.4,273.3 98.1,273 98.8,272.4 99.4,271.8 100.1,272.9 100.8,271.6 101.4,271.9 102.1,271.3 102.8,271.7 103.5,269.9 104.1,272.5 104.8,273.3 105.5,271.3 106.2,270.8 106.8,271.9 107.5,270.3 108.2,270.9 108.9,271 109.5,272.3 110.2,269.7 110.9,270.2 111.5,271.1 112.2,269.3 112.9,269.9 113.6,270.8 114.2,269.7 114.9,269.8 115.6,268.3 116.3,270.1 116.9,269.1 117.6,270.2 118.3,269 119,271.1 119.6,269.9 120.3,269.3 121,268.5 121.7,270.1 122.3,270.3 123,269 123.7,269.4 124.3,269 125,269.4 125.7,267.9 126.4,268.3 127,268.8 127.7,270.1 128.4,267.7 129.1,268.9 129.7,267.1 130.4,269.1 131.1,268.2 131.8,269.6 132.4,269.4 133.1,269.2 133.8,267.2 134.4,267.6 135.1,267.6 135.8,268.7 136.5,267.8 137.1,268.6 137.8,268.2 138.5,268.7 139.2,268.7 139.8,267.8 140.5,268.2 141.2,267.3 141.9,268 142.5,268.5 143.2,267.8 143.9,268.4 144.6,267 145.2,268.7 145.9,268.1 146.6,267.6 147.2,268.1 147.9,269.4 148.6,268.2 149.3,267.6 149.9,265.5 150.6,268.3 151.3,268.6 152,267.5 152.6,267.1 153.3,267.9 154,266.4 154.7,267.4 155.3,267.5 156,265.4 156.7,266.4 157.3,266.9 158,266.5 158.7,266.7 159.4,266.5 160,267.1 160.7,265.4 161.4,267.5 162.1,266.8 162.7,267.9 163.4,266.6 164.1,266.5 164.8,267 165.4,267.3 166.1,266.8 166.8,265.6 167.5,266.4 168.1,266.3 168.8,266.7 169.5,266.4 170.1,266.5 170.8,266.6 171.5,266.6 172.2,267 172.8,266.8 173.5,266.6 174.2,267.5 174.9,264.7 175.5,267.1 176.2,266.8 176.9,267.2 177.6,265.7 178.2,266.2 178.9,265.3 179.6,266.7 180.2,266.6 180.9,266.4 181.6,266.4 182.3,267 182.9,266.9 183.6,265.5 184.3,266.6 185,266.9 185.6,266 186.3,264.5 187,267 187.7,265.6 188.3,268.4 189,266.7 189.7,267.1 190.3,266.4 191,266.2 191.7,265.8 192.4,265.2 193,267 193.7,265.5 194.4,266.9 195.1,266.1 195.7,265.9 196.4,264.9 197.1,267.1 197.8,264.8 198.4,266.1 199.1,266.5 199.8,263.3 200.5,264.8 201.1,266.6 201.8,266.7 202.5,265.4 203.1,265.9 203.8,265.9 204.5,265.3 205.2,265.6 205.8,265.2 206.5,265.9 207.2,265.5 207.9,265.6 208.5,266 209.2,264.9 209.9,266.1 210.6,264.9 211.2,265.5 211.9,265.9 212.6,265 213.2,266.1 213.9,265.4 214.6,266.3 215.3,266 215.9,265.9 216.6,264.7 217.3,265.6 218,264.5 218.6,265.6 219.3,265.8 220,265.2 220.7,265.1 221.3,264.8 222,265.3 222.7,263.7 223.4,264.6 224,264.8 224.7,265.9 225.4,265.2 226,265.1 226.7,265.3 227.4,265 228.1,265 228.7,266.3" fill="none" stroke="#0000ff" stroke-width="1.15" stroke-linejoin="round" stroke-linecap="square"/>
<line x1="35" y1="263.3" x2="237.2" y2="263.3" stroke="#ff0000" stroke-width="1" stroke-dasharray="3.1,1.45"/>
</g>
<rect x="35" y="246.5" width="202.2" height="151" fill="none" stroke="#000" stroke-width="0.7"/>
<line x1="44.2" y1="397.5" x2="44.2" y2="399.1" stroke="#000" stroke-width="0.5"/>
<text x="44.7" y="405.7" font-size="5.7" text-anchor="middle">0</text>
<line x1="77.9" y1="397.5" x2="77.9" y2="399.1" stroke="#000" stroke-width="0.5"/>
<text x="78.3" y="405.7" font-size="5.7" text-anchor="middle">50</text>
<line x1="111.5" y1="397.5" x2="111.5" y2="399.1" stroke="#000" stroke-width="0.5"/>
<text x="112" y="405.7" font-size="5.7" text-anchor="middle">100</text>
<line x1="145.2" y1="397.5" x2="145.2" y2="399.1" stroke="#000" stroke-width="0.5"/>
<text x="145.7" y="405.7" font-size="5.7" text-anchor="middle">150</text>
<line x1="178.9" y1="397.5" x2="178.9" y2="399.1" stroke="#000" stroke-width="0.5"/>
<text x="179.3" y="405.7" font-size="5.7" text-anchor="middle">200</text>
<line x1="212.6" y1="397.5" x2="212.6" y2="399.1" stroke="#000" stroke-width="0.5"/>
<text x="213" y="405.7" font-size="5.7" text-anchor="middle">250</text>
<line x1="33.4" y1="259.9" x2="35" y2="259.9" stroke="#000" stroke-width="0.5"/>
<text x="31" y="262.3" font-size="5.7" text-anchor="end">4000</text>
<line x1="33.4" y1="282.6" x2="35" y2="282.6" stroke="#000" stroke-width="0.5"/>
<text x="31" y="285" font-size="5.7" text-anchor="end">2000</text>
<line x1="33.4" y1="305.3" x2="35" y2="305.3" stroke="#000" stroke-width="0.5"/>
<text x="31" y="307.7" font-size="5.7" text-anchor="end">0</text>
<line x1="33.4" y1="328.1" x2="35" y2="328.1" stroke="#000" stroke-width="0.5"/>
<text x="31" y="330.5" font-size="5.7" text-anchor="end">−2000</text>
<line x1="33.4" y1="350.8" x2="35" y2="350.8" stroke="#000" stroke-width="0.5"/>
<text x="31" y="353.2" font-size="5.7" text-anchor="end">−4000</text>
<line x1="33.4" y1="373.5" x2="35" y2="373.5" stroke="#000" stroke-width="0.5"/>
<text x="31" y="375.9" font-size="5.7" text-anchor="end">−6000</text>
<line x1="33.4" y1="396.2" x2="35" y2="396.2" stroke="#000" stroke-width="0.5"/>
<text x="31" y="398.6" font-size="5.7" text-anchor="end">−8000</text>
<text x="136.5" y="413.8" font-size="5.7" text-anchor="middle">episodes</text>
<text transform="translate(8.7,322) rotate(-90)" font-size="5.7" text-anchor="middle">rewards</text>
<text x="136.1" y="242.9" font-size="6.8" text-anchor="middle">Learning Curve case 3</text>
<rect x="172.3" y="376" width="62.2" height="18.6" rx="1" fill="#fff" fill-opacity="0.8" stroke="#ccc" stroke-width="0.45"/>
<line x1="174.7" y1="380.9" x2="186.3" y2="380.9" stroke="#0000ff" stroke-width="1.2"/>
<line x1="174.7" y1="389.4" x2="186.3" y2="389.4" stroke="#ff0000" stroke-width="1" stroke-dasharray="3.1,1.45"/>
<text x="190.8" y="382.9" font-size="5.7">mean_rewards</text>
<text x="190.8" y="391.4" font-size="5.7">optimal(DP)</text>
<clipPath id="clip4"><rect x="343.2" y="246.6" width="203" height="151.3"/></clipPath>
<g clip-path="url(#clip4)">
<polyline points="352.4,368.9 353.1,383.4 353.7,378.2 354.4,369 355.1,382.1 355.8,385.4 356.4,373.5 357.1,375.8 357.8,375.7 358.5,374 359.1,375.8 359.8,360.3 360.5,361.2 361.2,373.2 361.8,365.9 362.5,367.2 363.2,358.7 363.8,367.6 364.5,354.9 365.2,362.7 365.9,366.5 366.5,362.6 367.2,364.7 367.9,350.1 368.6,359.6 369.2,362.5 369.9,359.4 370.6,352.4 371.3,363.8 371.9,367.1 372.6,351.4 373.3,354.1 374,358.3 374.6,356.2 375.3,348.9 376,367.7 376.6,346.6 377.3,353.4 378,348.2 378.7,351.1 379.3,335.1 380,353.1 380.7,342.5 381.4,360.5 382,346.5 382.7,341.3 383.4,352.3 384.1,353.5 384.7,341.3 385.4,334.5 386.1,331.6 386.7,340.2 387.4,333 388.1,340 388.8,321.9 389.4,332.7 390.1,320.4 390.8,326 391.5,324.3 392.1,312.5 392.8,323.3 393.5,310.6 394.2,318.1 394.8,318.5 395.5,315.8 396.2,304.6 396.9,308.4 397.5,308.4 398.2,313.1 398.9,298.5 399.5,297.6 400.2,299.5 400.9,295.4 401.6,311.8 402.2,298.2 402.9,294 403.6,291.9 404.3,293.2 404.9,289.1 405.6,291.6 406.3,289.7 407,290.5 407.6,283.9 408.3,285.9 409,283.4 409.6,275 410.3,279.5 411,278.7 411.7,282.3 412.3,277.3 413,271.2 413.7,272.2 414.4,273.2 415,273.7 415.7,272.3 416.4,270.3 417.1,271.8 417.7,278.2 418.4,264.4 419.1,266.6 419.8,270 420.4,265.1 421.1,272.5 421.8,264.7 422.4,267.6 423.1,265.3 423.8,268.5 424.5,266.8 425.1,265.6 425.8,264.4 426.5,265.7 427.2,265.8 427.8,268.2 428.5,261.4 429.2,265.5 429.9,266.4 430.5,266.6 431.2,268.8 431.9,267.3 432.5,269.2 433.2,264.2 433.9,265 434.6,264.2 435.2,268 435.9,266.1 436.6,266.7 437.3,262.3 437.9,268.6 438.6,268.8 439.3,260.9 440,263 440.6,268.2 441.3,260.2 442,260.2 442.6,261.1 443.3,269.3 444,263.9 444.7,266.1 445.3,264.6 446,268.1 446.7,259.8 447.4,266.1 448,263.3 448.7,262.2 449.4,262.3 450.1,262.3 450.7,264.5 451.4,262.9 452.1,264.3 452.8,269.2 453.4,260.8 454.1,264.9 454.8,264.6 455.4,264.7 456.1,267.2 456.8,266.3 457.5,267.5 458.1,261.5 458.8,259.9 459.5,262.6 460.2,265.5 460.8,259.5 461.5,263.2 462.2,266 462.9,267 463.5,262 464.2,258.6 464.9,262.7 465.5,263.2 466.2,262.2 466.9,263.4 467.6,262.5 468.2,260.7 468.9,262.4 469.6,259 470.3,263.3 470.9,259.4 471.6,260.6 472.3,262.5 473,262.2 473.6,262.5 474.3,257.9 475,263.8 475.7,259.3 476.3,259.8 477,262.5 477.7,257.9 478.3,267 479,260.9 479.7,261 480.4,261.1 481,259.2 481.7,261.9 482.4,260.9 483.1,258 483.7,260.7 484.4,263.2 485.1,259.5 485.8,260.6 486.4,261.5 487.1,259 487.8,261.8 488.4,262.3 489.1,260.7 489.8,260.2 490.5,259.5 491.1,262.6 491.8,256.5 492.5,259 493.2,260.1 493.8,260 494.5,266.3 495.2,259 495.9,262.9 496.5,259.9 497.2,263.4 497.9,258.8 498.5,261.9 499.2,261.4 499.9,258 500.6,259.2 501.2,264.1 501.9,262.7 502.6,260.6 503.3,261.5 503.9,259.6 504.6,262.9 505.3,265.4 506,263.5 506.6,262.2 507.3,260.7 508,260.5 508.7,259.4 509.3,261.4 510,262.3 510.7,259.9 511.3,261.6 512,262.2 512.7,262.1 513.4,259.5 514,258.4 514.7,258.7 515.4,264.1 516.1,258.9 516.7,263.1 517.4,261.3 518.1,259.8 518.8,263.2 519.4,263.1 520.1,262.2 520.8,257.6 521.4,258.6 522.1,262.1 522.8,260 523.5,260.2 524.1,259.8 524.8,261.6 525.5,257.7 526.2,261.1 526.8,258.9 527.5,263.2 528.2,259.7 528.9,260.1 529.5,258 530.2,264.9 530.9,259.7 531.6,259.2 532.2,261.1 532.9,258.4 533.6,257 534.2,259.2 534.9,259.3 535.6,258.4 536.3,260.1 536.9,258.8" fill="none" stroke="#1f77b4" stroke-opacity="0.5" stroke-width="0.6" stroke-linejoin="round"/>
<polyline points="352.4,377.4 353.1,372.2 353.7,372.1 354.4,366.2 355.1,356.3 355.8,367.5 356.4,361.6 357.1,369.2 357.8,365.6 358.5,369.5 359.1,368.2 359.8,358.4 360.5,362.5 361.2,362.1 361.8,368.4 362.5,355.3 363.2,363.8 363.8,366.3 364.5,363 365.2,358.3 365.9,357 366.5,353.3 367.2,365.4 367.9,361.3 368.6,351.1 369.2,347 369.9,361.3 370.6,358.6 371.3,364.8 371.9,360.7 372.6,360.3 373.3,356 374,360.6 374.6,348.6 375.3,353 376,353.1 376.6,346.5 377.3,351 378,354.8 378.7,346.9 379.3,335.4 380,344.9 380.7,341.3 381.4,344.1 382,343.7 382.7,338.1 383.4,352.8 384.1,344.3 384.7,339.3 385.4,336.1 386.1,324.9 386.7,317.9 387.4,325.8 388.1,324.9 388.8,321.2 389.4,315.1 390.1,325.7 390.8,320.5 391.5,315.9 392.1,313.2 392.8,322.6 393.5,308.8 394.2,317.2 394.8,303.7 395.5,301.5 396.2,314 396.9,299.2 397.5,299.1 398.2,301.5 398.9,292.6 399.5,286.3 400.2,292.6 400.9,298.1 401.6,298.2 402.2,295.2 402.9,293.7 403.6,283 404.3,287.9 404.9,289.7 405.6,288.5 406.3,291.8 407,292 407.6,296.8 408.3,293.7 409,295.2 409.6,298.1 410.3,296.4 411,293.3 411.7,293.6 412.3,296.4 413,294.4 413.7,291.7 414.4,289 415,290.4 415.7,291.8 416.4,290.4 417.1,291.1 417.7,291.5 418.4,290.2 419.1,294 419.8,288.9 420.4,289.5 421.1,290.8 421.8,291.3 422.4,291.7 423.1,289.2 423.8,289.2 424.5,289 425.1,286.2 425.8,292 426.5,289.3 427.2,289 427.8,285.9 428.5,287.4 429.2,288.1 429.9,285.9 430.5,285.2 431.2,282.9 431.9,284.6 432.5,285.3 433.2,285 433.9,285.1 434.6,282.7 435.2,281.8 435.9,283 436.6,282.4 437.3,279.6 437.9,281.2 438.6,280.2 439.3,282.3 440,281.1 440.6,283.1 441.3,281.4 442,278.2 442.6,276.4 443.3,278.3 444,279.2 444.7,276.7 445.3,274.6 446,276.2 446.7,273.9 447.4,274.6 448,275.4 448.7,274 449.4,272.2 450.1,269.5 450.7,269.1 451.4,271.2 452.1,270.3 452.8,267.2 453.4,267.3 454.1,265.4 454.8,267.4 455.4,268.3 456.1,264 456.8,266.6 457.5,266.7 458.1,268.3 458.8,264.9 459.5,271.5 460.2,264.5 460.8,270.5 461.5,263.5 462.2,269.1 462.9,263.6 463.5,259.4 464.2,266.3 464.9,268.1 465.5,260.7 466.2,266.3 466.9,267.9 467.6,262.3 468.2,272.1 468.9,268.7 469.6,268.2 470.3,266.6 470.9,269.6 471.6,263 472.3,262.8 473,265.3 473.6,266.3 474.3,268.8 475,264.3 475.7,267.3 476.3,264.3 477,263.5 477.7,265.9 478.3,270.8 479,268.1 479.7,262.9 480.4,265.2 481,262.5 481.7,270.6 482.4,265.8 483.1,265.9 483.7,269.2 484.4,267.3 485.1,263.9 485.8,264.7 486.4,267.1 487.1,265.1 487.8,263.2 488.4,268.2 489.1,265 489.8,263.2 490.5,267 491.1,262.8 491.8,265.8 492.5,263.1 493.2,263.3 493.8,264.5 494.5,265.6 495.2,266.6 495.9,264.7 496.5,264.5 497.2,261.7 497.9,264.7 498.5,263.7 499.2,260.8 499.9,263.6 500.6,263.2 501.2,260.9 501.9,263.8 502.6,263.2 503.3,262.3 503.9,263.9 504.6,265.7 505.3,266.1 506,263.3 506.6,260.3 507.3,260.7 508,259.4 508.7,260.8 509.3,263.6 510,265.2 510.7,263.4 511.3,262.8 512,263.8 512.7,260.4 513.4,263.7 514,260.8 514.7,260.4 515.4,265.2 516.1,263 516.7,259.8 517.4,260.7 518.1,262.2 518.8,264.6 519.4,263.9 520.1,262.3 520.8,260.2 521.4,261.5 522.1,262.6 522.8,262.1 523.5,261 524.1,265.5 524.8,264 525.5,262.2 526.2,260.1 526.8,260.2 527.5,263.4 528.2,262 528.9,263.2 529.5,262.4 530.2,261.3 530.9,262.3 531.6,262.6 532.2,263.5 532.9,264.1 533.6,261.5 534.2,260.8 534.9,260 535.6,262.6 536.3,262.2 536.9,258.8" fill="none" stroke="#ff7f0e" stroke-opacity="0.5" stroke-width="0.6" stroke-linejoin="round"/>
<polyline points="352.4,370.5 353.1,376 353.7,376.9 354.4,371.8 355.1,366 355.8,372.2 356.4,363.9 357.1,368.9 357.8,370.9 358.5,365.4 359.1,357.6 359.8,367.5 360.5,359.2 361.2,362.7 361.8,364.4 362.5,364.2 363.2,359.7 363.8,359.8 364.5,360.8 365.2,359.6 365.9,366.6 366.5,365.7 367.2,367.2 367.9,364 368.6,363.1 369.2,363.8 369.9,358.5 370.6,365.8 371.3,361.7 371.9,355.4 372.6,350.9 373.3,357.8 374,351.2 374.6,349.3 375.3,359.9 376,352.1 376.6,358.2 377.3,354.2 378,349.2 378.7,355.7 379.3,346.7 380,349.3 380.7,348.4 381.4,343.3 382,349.1 382.7,351.8 383.4,341.3 384.1,343.7 384.7,339.4 385.4,342.2 386.1,339.4 386.7,338.9 387.4,339.4 388.1,334.6 388.8,333 389.4,327.1 390.1,308.8 390.8,325.4 391.5,328.1 392.1,315 392.8,322.4 393.5,318 394.2,314.7 394.8,310.1 395.5,307.4 396.2,305.5 396.9,305.3 397.5,298.6 398.2,298.7 398.9,303.3 399.5,300.2 400.2,304 400.9,293.7 401.6,295.5 402.2,284.6 402.9,294.3 403.6,283.4 404.3,291.5 404.9,293.6 405.6,289.8 406.3,283.8 407,279.9 407.6,286.4 408.3,278.1 409,282.3 409.6,281.2 410.3,279.2 411,272.1 411.7,275.6 412.3,274.6 413,279.5 413.7,273 414.4,271.4 415,266.4 415.7,274.2 416.4,273.1 417.1,273.1 417.7,272 418.4,267.7 419.1,271.7 419.8,265 420.4,268.1 421.1,270.4 421.8,269.4 422.4,271.6 423.1,271.8 423.8,264.3 424.5,264.9 425.1,269.5 425.8,268.3 426.5,262.4 427.2,268.8 427.8,266.4 428.5,265.4 429.2,266.9 429.9,266.4 430.5,266.5 431.2,265.3 431.9,270.1 432.5,265.8 433.2,265.6 433.9,269.6 434.6,264.9 435.2,268.7 435.9,272.9 436.6,271 437.3,265.4 437.9,264.1 438.6,266.9 439.3,269.6 440,265.7 440.6,263 441.3,265.5 442,269 442.6,264 443.3,266.1 444,266.1 444.7,265.5 445.3,264.2 446,265.8 446.7,268.1 447.4,266 448,265.2 448.7,262.9 449.4,268.7 450.1,265.9 450.7,267.7 451.4,264.6 452.1,266.7 452.8,272.7 453.4,262.6 454.1,266.9 454.8,267.6 455.4,269.1 456.1,268 456.8,268.3 457.5,265.5 458.1,264.7 458.8,265.1 459.5,264 460.2,266.6 460.8,263.3 461.5,264.7 462.2,263.4 462.9,263.2 463.5,265.3 464.2,261.3 464.9,262.1 465.5,265 466.2,259.7 466.9,259.9 467.6,267 468.2,268.4 468.9,264.6 469.6,262.1 470.3,261.5 470.9,262.3 471.6,263.9 472.3,262.2 473,262.6 473.6,265.3 474.3,264.1 475,262.4 475.7,266.2 476.3,266.1 477,266.3 477.7,261.3 478.3,263.2 479,262.9 479.7,265.6 480.4,265 481,262.2 481.7,265.5 482.4,262.1 483.1,264.7 483.7,264.7 484.4,263.5 485.1,262.5 485.8,260.6 486.4,264.8 487.1,260.8 487.8,266.2 488.4,266.2 489.1,268.8 489.8,262.1 490.5,260.7 491.1,266.4 491.8,264.5 492.5,264.4 493.2,266.5 493.8,263.1 494.5,262.3 495.2,263.9 495.9,265 496.5,262.7 497.2,262 497.9,266.1 498.5,263.4 499.2,262.1 499.9,269.1 500.6,262.4 501.2,259.5 501.9,265.6 502.6,260.3 503.3,263.6 503.9,261.9 504.6,263.2 505.3,265.4 506,266.5 506.6,258.5 507.3,265.8 508,263.9 508.7,260.6 509.3,262.8 510,262.8 510.7,266.5 511.3,263.6 512,265 512.7,265.6 513.4,261.8 514,260.5 514.7,263.7 515.4,263.1 516.1,261 516.7,260.4 517.4,263.6 518.1,259.6 518.8,260.2 519.4,261.9 520.1,263.8 520.8,260.7 521.4,260.5 522.1,258.7 522.8,263 523.5,259.1 524.1,262.6 524.8,260.9 525.5,262 526.2,261.6 526.8,259.3 527.5,263.1 528.2,260.7 528.9,262.7 529.5,262.3 530.2,263.1 530.9,261.8 531.6,265.4 532.2,262.4 532.9,260.5 533.6,260.9 534.2,265.3 534.9,264.4 535.6,263.1 536.3,259.2 536.9,263.1" fill="none" stroke="#2ca02c" stroke-opacity="0.5" stroke-width="0.6" stroke-linejoin="round"/>
<polyline points="352.4,385 353.1,377.3 353.7,383.3 354.4,370.5 355.1,377.9 355.8,367.3 356.4,372 357.1,369.8 357.8,366.8 358.5,369.3 359.1,372.4 359.8,361.1 360.5,373.3 361.2,358.4 361.8,368.4 362.5,368 363.2,362.7 363.8,362.1 364.5,360.8 365.2,370.3 365.9,367 366.5,360.2 367.2,359.2 367.9,361.2 368.6,353.7 369.2,361.3 369.9,355.3 370.6,354.8 371.3,357 371.9,359.2 372.6,354.3 373.3,354.8 374,352.8 374.6,359.4 375.3,351.1 376,344.1 376.6,352.5 377.3,350.3 378,352 378.7,344.8 379.3,359.9 380,341 380.7,345.1 381.4,348 382,344.7 382.7,338.5 383.4,340.5 384.1,338 384.7,333.3 385.4,337.3 386.1,333 386.7,327.9 387.4,331.6 388.1,334.9 388.8,326.2 389.4,318.4 390.1,328.5 390.8,322.7 391.5,320.1 392.1,315.7 392.8,320.6 393.5,316.7 394.2,305.3 394.8,310.1 395.5,314 396.2,305.9 396.9,307.5 397.5,298.7 398.2,311.7 398.9,302.5 399.5,296.8 400.2,305 400.9,301.3 401.6,294.2 402.2,294.9 402.9,295.1 403.6,290.7 404.3,295.7 404.9,292 405.6,281.1 406.3,289.2 407,283.5 407.6,284.4 408.3,279.9 409,280.4 409.6,278.7 410.3,274.6 411,277.3 411.7,283.3 412.3,278.9 413,270 413.7,270.3 414.4,273.7 415,277.4 415.7,274 416.4,264.7 417.1,266.9 417.7,266.5 418.4,274.7 419.1,273.9 419.8,270.7 420.4,272.3 421.1,267.8 421.8,271 422.4,266.6 423.1,268.3 423.8,269.3 424.5,266.2 425.1,266.6 425.8,267.2 426.5,268.6 427.2,268.4 427.8,273.4 428.5,273.1 429.2,269.5 429.9,266.9 430.5,262.2 431.2,265.7 431.9,269.9 432.5,268.5 433.2,270.3 433.9,266.9 434.6,267.1 435.2,266.9 435.9,265.8 436.6,263.9 437.3,264.9 437.9,269.3 438.6,264 439.3,268.7 440,264.8 440.6,265.2 441.3,260.9 442,265.3 442.6,265.4 443.3,265.8 444,263.1 444.7,264.4 445.3,265.9 446,262.8 446.7,259.8 447.4,261.3 448,261.9 448.7,267.3 449.4,266.4 450.1,265.5 450.7,269.7 451.4,261 452.1,268.8 452.8,264 453.4,268 454.1,264.6 454.8,262.8 455.4,264.1 456.1,268 456.8,267.3 457.5,263.4 458.1,265.7 458.8,264.8 459.5,263 460.2,271.2 460.8,264.5 461.5,261.7 462.2,260 462.9,263 463.5,266.1 464.2,262.1 464.9,260.2 465.5,265.9 466.2,266.4 466.9,265 467.6,265.3 468.2,269.1 468.9,269.6 469.6,266.8 470.3,265.2 470.9,262.6 471.6,265.4 472.3,263.7 473,261.2 473.6,257.6 474.3,262.4 475,266.8 475.7,262.2 476.3,264.5 477,263.2 477.7,261.8 478.3,262.1 479,266.3 479.7,266.1 480.4,263 481,261.7 481.7,258.4 482.4,261.5 483.1,263.9 483.7,264.6 484.4,265.1 485.1,266.5 485.8,266.2 486.4,264.6 487.1,263.4 487.8,265.2 488.4,263.5 489.1,264.1 489.8,263.6 490.5,263.8 491.1,262.8 491.8,263.5 492.5,269.2 493.2,262.8 493.8,263.2 494.5,264.2 495.2,262.5 495.9,264.5 496.5,262.9 497.2,264.6 497.9,261.2 498.5,262 499.2,265.3 499.9,263.8 500.6,260.5 501.2,261.2 501.9,261.4 502.6,263.9 503.3,262.8 503.9,261.5 504.6,261.4 505.3,262.2 506,263.8 506.6,262.6 507.3,263 508,264.3 508.7,264.3 509.3,263.7 510,264.9 510.7,260.7 511.3,260 512,259.9 512.7,262.9 513.4,263.1 514,261.2 514.7,262.8 515.4,262.3 516.1,262.2 516.7,264.6 517.4,259.3 518.1,264.5 518.8,264.8 519.4,260.4 520.1,263.7 520.8,259.9 521.4,261.1 522.1,261.1 522.8,262.5 523.5,264.7 524.1,264 524.8,261.5 525.5,262 526.2,264 526.8,263.7 527.5,263.4 528.2,262.3 528.9,261.4 529.5,260.4 530.2,262.5 530.9,259.8 531.6,261 532.2,259.3 532.9,263.3 533.6,260.9 534.2,259.9 534.9,265.1 535.6,260.6 536.3,261.4 536.9,260.6" fill="none" stroke="#d62728" stroke-opacity="0.5" stroke-width="0.6" stroke-linejoin="round"/>
<polyline points="352.4,382.7 353.1,381.9 353.7,377.7 354.4,383.8 355.1,367.1 355.8,379 356.4,369 357.1,379.1 357.8,378.6 358.5,378.7 359.1,378.5 359.8,371.4 360.5,367.6 361.2,372.1 361.8,376 362.5,370.5 363.2,374.2 363.8,382.8 364.5,367.8 365.2,376.7 365.9,370.6 366.5,366.7 367.2,368.1 367.9,366.7 368.6,356.5 369.2,359.5 369.9,356.3 370.6,362.5 371.3,361.1 371.9,352.5 372.6,364.2 373.3,357.7 374,358.3 374.6,356.1 375.3,353.2 376,354.8 376.6,350.1 377.3,358.5 378,351 378.7,357.5 379.3,346.5 380,346.7 380.7,350.9 381.4,351.4 382,348.7 382.7,345 383.4,354.4 384.1,350.6 384.7,339.8 385.4,344.8 386.1,349.3 386.7,352.5 387.4,342.4 388.1,346.7 388.8,336.5 389.4,337.2 390.1,325.4 390.8,339.6 391.5,328.2 392.1,335.9 392.8,334 393.5,327.9 394.2,329.4 394.8,314.8 395.5,321.7 396.2,323 396.9,306.5 397.5,319.5 398.2,316.9 398.9,313.8 399.5,314.1 400.2,305.9 400.9,302.3 401.6,311.7 402.2,305.8 402.9,303.9 403.6,306 404.3,304.1 404.9,298.8 405.6,299.8 406.3,293.3 407,289.9 407.6,291.4 408.3,290.2 409,293.3 409.6,290.5 410.3,286.1 411,284.7 411.7,285.4 412.3,282.1 413,283.6 413.7,285.6 414.4,279.6 415,280.7 415.7,284.1 416.4,275.7 417.1,275.9 417.7,274.3 418.4,276.7 419.1,270.6 419.8,272.5 420.4,270.3 421.1,274.3 421.8,273.1 422.4,268.6 423.1,271.4 423.8,270.7 424.5,266.4 425.1,266.6 425.8,268.9 426.5,264 427.2,272.9 427.8,269 428.5,269.8 429.2,264.6 429.9,264.1 430.5,269.5 431.2,267.6 431.9,265.5 432.5,266.5 433.2,267.2 433.9,265.1 434.6,262.7 435.2,267.2 435.9,270.1 436.6,267.5 437.3,267 437.9,268 438.6,265.5 439.3,265.3 440,264.7 440.6,265.8 441.3,266.6 442,269.8 442.6,268 443.3,269 444,265.9 444.7,266.4 445.3,266.7 446,265.4 446.7,267.6 447.4,264.1 448,264 448.7,268.9 449.4,262.9 450.1,266.9 450.7,267.2 451.4,266.3 452.1,268.6 452.8,264.3 453.4,262.1 454.1,268.5 454.8,263.6 455.4,263.5 456.1,263.6 456.8,263.4 457.5,263.6 458.1,265.6 458.8,262.8 459.5,263.8 460.2,262.8 460.8,264 461.5,265.3 462.2,264.8 462.9,264.1 463.5,263.2 464.2,269.5 464.9,268.2 465.5,268.6 466.2,266.4 466.9,266.7 467.6,264.3 468.2,265.4 468.9,261.7 469.6,266 470.3,266.3 470.9,266.6 471.6,265.9 472.3,264.8 473,266 473.6,267.1 474.3,267.9 475,264.4 475.7,266 476.3,266.5 477,264.3 477.7,262.8 478.3,259.3 479,260.1 479.7,265.7 480.4,264.3 481,267.6 481.7,267.7 482.4,267.3 483.1,261.3 483.7,263.7 484.4,266.4 485.1,264.8 485.8,264 486.4,264.4 487.1,260.3 487.8,267.5 488.4,264.3 489.1,262.6 489.8,261.9 490.5,267.4 491.1,263 491.8,266.1 492.5,264.6 493.2,266.3 493.8,261.4 494.5,256.9 495.2,261.3 495.9,263.8 496.5,266.7 497.2,261.5 497.9,260.9 498.5,265.5 499.2,261.3 499.9,267.1 500.6,266 501.2,262.9 501.9,265.8 502.6,261.5 503.3,260.3 503.9,262.8 504.6,262 505.3,260 506,262.2 506.6,260.8 507.3,260.5 508,265.5 508.7,259.4 509.3,261.1 510,263 510.7,261.5 511.3,262.5 512,262.3 512.7,264.5 513.4,263.4 514,263.1 514.7,260.5 515.4,261.5 516.1,261.4 516.7,262.5 517.4,259.7 518.1,266.4 518.8,263.6 519.4,260.3 520.1,262.5 520.8,260.8 521.4,259.1 522.1,260.6 522.8,264.4 523.5,262.5 524.1,263.9 524.8,261 525.5,259.9 526.2,262.2 526.8,261 527.5,262.2 528.2,258.7 528.9,261.5 529.5,261.2 530.2,260.6 530.9,260.2 531.6,260.9 532.2,262.3 532.9,262.2 533.6,261.4 534.2,261.3 534.9,263 535.6,263.6 536.3,262.9 536.9,261.9" fill="none" stroke="#9467bd" stroke-opacity="0.5" stroke-width="0.6" stroke-linejoin="round"/>
<polyline points="352.4,372.9 353.1,373.9 353.7,371.5 354.4,373.9 355.1,367 355.8,368.4 356.4,363.8 357.1,376.8 357.8,367.8 358.5,369.7 359.1,365.8 359.8,371.2 360.5,361.8 361.2,371.6 361.8,360.2 362.5,361.5 363.2,372.6 363.8,360.1 364.5,370.7 365.2,357.8 365.9,368.5 366.5,360 367.2,361.3 367.9,367.8 368.6,368.2 369.2,355.5 369.9,360.3 370.6,351.2 371.3,355.9 371.9,340.8 372.6,352.7 373.3,343.3 374,349.8 374.6,350.8 375.3,347.1 376,351.9 376.6,350.5 377.3,338.3 378,346.9 378.7,351.1 379.3,341.9 380,348.1 380.7,341.8 381.4,334.5 382,332.6 382.7,328.3 383.4,330.4 384.1,331.8 384.7,331.4 385.4,330.5 386.1,330.2 386.7,316.1 387.4,326.3 388.1,314.5 388.8,322 389.4,313.2 390.1,331.7 390.8,313.7 391.5,315.8 392.1,302.8 392.8,301.2 393.5,311 394.2,307.1 394.8,300.1 395.5,300.7 396.2,301.3 396.9,295.3 397.5,304.8 398.2,289.2 398.9,293.5 399.5,307.3 400.2,296.3 400.9,291.9 401.6,279.9 402.2,288.6 402.9,294.2 403.6,280.9 404.3,283.9 404.9,285.1 405.6,280.3 406.3,284.8 407,282.8 407.6,277.2 408.3,278.7 409,275.3 409.6,279.7 410.3,271 411,282.1 411.7,280.8 412.3,274 413,275.2 413.7,273.4 414.4,273.5 415,273.5 415.7,276.1 416.4,270.9 417.1,267.2 417.7,273.2 418.4,264.8 419.1,265.6 419.8,271.5 420.4,266.3 421.1,271.4 421.8,268.8 422.4,271.7 423.1,270 423.8,273.5 424.5,268.5 425.1,270.9 425.8,270.3 426.5,273.2 427.2,268.1 427.8,262.3 428.5,268.1 429.2,267.6 429.9,270 430.5,268.1 431.2,268.7 431.9,270.8 432.5,268.9 433.2,267.9 433.9,266.1 434.6,268.3 435.2,266.4 435.9,263.4 436.6,264.1 437.3,267.6 437.9,270.6 438.6,266.6 439.3,265.2 440,262.7 440.6,264.8 441.3,257.8 442,266.1 442.6,263.4 443.3,267.1 444,267.7 444.7,265.8 445.3,264.6 446,263 446.7,272.6 447.4,261.5 448,260.2 448.7,260.5 449.4,261.4 450.1,263.9 450.7,262 451.4,259.7 452.1,265.8 452.8,261.4 453.4,261.9 454.1,263.7 454.8,258.5 455.4,265.2 456.1,266.1 456.8,263.6 457.5,265.1 458.1,260.3 458.8,267.8 459.5,267.2 460.2,263.4 460.8,262.7 461.5,267.3 462.2,260.9 462.9,268.9 463.5,261.6 464.2,266 464.9,265 465.5,259.7 466.2,264.1 466.9,265.2 467.6,263.1 468.2,258.5 468.9,262.6 469.6,264.6 470.3,262.6 470.9,266.1 471.6,265.2 472.3,265 473,262.1 473.6,265 474.3,263 475,261.4 475.7,260.3 476.3,268 477,264.1 477.7,266.6 478.3,262.3 479,263.2 479.7,263.6 480.4,264.8 481,265.7 481.7,266.9 482.4,261 483.1,263.9 483.7,263.3 484.4,262.8 485.1,261.7 485.8,259.2 486.4,263.4 487.1,261.7 487.8,266.8 488.4,263.9 489.1,264.5 489.8,264.4 490.5,260.3 491.1,263.1 491.8,263.2 492.5,263.3 493.2,263.5 493.8,263.5 494.5,264.3 495.2,264.1 495.9,263.9 496.5,263.5 497.2,266.8 497.9,262.8 498.5,262.9 499.2,261.7 499.9,264.7 500.6,264.4 501.2,260.8 501.9,263.5 502.6,261 503.3,263.4 503.9,264.5 504.6,264.9 505.3,263.3 506,263.1 506.6,264.5 507.3,259.3 508,262.4 508.7,264.4 509.3,260.1 510,261.2 510.7,264.2 511.3,265.1 512,263.3 512.7,261.5 513.4,265.7 514,260.9 514.7,263.7 515.4,261.3 516.1,263.1 516.7,262.1 517.4,261.4 518.1,260.1 518.8,263.9 519.4,259.2 520.1,264.9 520.8,262.1 521.4,261.3 522.1,262.5 522.8,260.6 523.5,265 524.1,262.2 524.8,260 525.5,261.6 526.2,263.7 526.8,261.5 527.5,261.6 528.2,263.9 528.9,260 529.5,263.3 530.2,264.2 530.9,262.4 531.6,264 532.2,263.2 532.9,262.5 533.6,263.7 534.2,261.8 534.9,262.5 535.6,260.8 536.3,264.8 536.9,263" fill="none" stroke="#8c564b" stroke-opacity="0.5" stroke-width="0.6" stroke-linejoin="round"/>
<polyline points="352.4,375.8 353.1,376.7 353.7,378.5 354.4,370.2 355.1,363.7 355.8,371.1 356.4,372.6 357.1,374.9 357.8,377.9 358.5,366.7 359.1,366.8 359.8,373 360.5,368 361.2,371.8 361.8,359.9 362.5,365.4 363.2,363.3 363.8,356.4 364.5,375.2 365.2,361.3 365.9,361.6 366.5,363.7 367.2,361.6 367.9,354.9 368.6,363.2 369.2,362.6 369.9,350.2 370.6,352.6 371.3,354.7 371.9,352.3 372.6,355.2 373.3,356.2 374,355 374.6,351.7 375.3,355 376,360.4 376.6,353.4 377.3,350.4 378,352 378.7,346.8 379.3,347.8 380,343.6 380.7,347 381.4,347.3 382,342.8 382.7,340.6 383.4,345.8 384.1,347.2 384.7,335.3 385.4,343.7 386.1,338.3 386.7,341.5 387.4,336.3 388.1,328.6 388.8,325.8 389.4,338.9 390.1,338.1 390.8,344.7 391.5,322.2 392.1,315.5 392.8,320 393.5,320.7 394.2,313.1 394.8,319.8 395.5,310.8 396.2,306.2 396.9,305.1 397.5,306.1 398.2,309.9 398.9,307.2 399.5,308.5 400.2,294.4 400.9,295.4 401.6,299.9 402.2,298.5 402.9,295.6 403.6,298.5 404.3,292.2 404.9,291.2 405.6,291.5 406.3,293 407,300.4 407.6,292.8 408.3,295.9 409,295.9 409.6,288.4 410.3,295 411,293 411.7,293.3 412.3,293.1 413,294.9 413.7,293.9 414.4,293.3 415,291.9 415.7,293.8 416.4,291.8 417.1,295.4 417.7,291.7 418.4,291 419.1,293.2 419.8,292.2 420.4,291.6 421.1,291 421.8,289.6 422.4,290.8 423.1,291.2 423.8,291 424.5,290.2 425.1,289.1 425.8,289.4 426.5,290.2 427.2,289.5 427.8,289.8 428.5,289.5 429.2,288.6 429.9,288.3 430.5,286.1 431.2,288.4 431.9,286.3 432.5,287.7 433.2,284.6 433.9,284.9 434.6,283.4 435.2,284.2 435.9,286.3 436.6,284.7 437.3,285.4 437.9,285.2 438.6,285.7 439.3,284.6 440,283.9 440.6,283.6 441.3,280.7 442,284.6 442.6,284.6 443.3,285.1 444,285.6 444.7,285.9 445.3,285.7 446,286.3 446.7,285.3 447.4,286 448,288 448.7,287.1 449.4,286.9 450.1,288 450.7,287.9 451.4,287.6 452.1,286.5 452.8,287 453.4,287.9 454.1,287.2 454.8,285.3 455.4,288.3 456.1,286 456.8,287.1 457.5,281.6 458.1,285.8 458.8,286.5 459.5,286.6 460.2,288.4 460.8,287.1 461.5,283.6 462.2,285.8 462.9,286.7 463.5,286.3 464.2,286.2 464.9,287.6 465.5,286.1 466.2,285.6 466.9,288.3 467.6,286.6 468.2,290 468.9,288.5 469.6,285.1 470.3,284.5 470.9,283.7 471.6,287.9 472.3,286.3 473,286.6 473.6,284.7 474.3,285.7 475,286 475.7,285.3 476.3,286.7 477,284.8 477.7,286.6 478.3,284.6 479,285.8 479.7,285.7 480.4,287.6 481,288.1 481.7,288.2 482.4,285.4 483.1,288.9 483.7,284.1 484.4,286.4 485.1,287.8 485.8,285.5 486.4,287.6 487.1,285.9 487.8,286.3 488.4,284.3 489.1,284.6 489.8,284.6 490.5,286.4 491.1,284.1 491.8,285.8 492.5,285.6 493.2,285.1 493.8,285.3 494.5,287.4 495.2,284.7 495.9,287.7 496.5,284.9 497.2,285.6 497.9,285.4 498.5,286.9 499.2,284.1 499.9,285.6 500.6,284.2 501.2,286.3 501.9,286.3 502.6,285.2 503.3,283.8 503.9,287 504.6,283.7 505.3,282.3 506,280.5 506.6,278.8 507.3,274.4 508,274.3 508.7,272.3 509.3,273.5 510,270.2 510.7,268.9 511.3,267.5 512,263.7 512.7,264 513.4,269.3 514,266 514.7,264.6 515.4,263.1 516.1,262.1 516.7,261 517.4,265 518.1,266 518.8,260.6 519.4,264 520.1,266.7 520.8,264.1 521.4,263.1 522.1,264.3 522.8,264.4 523.5,260.7 524.1,264.7 524.8,262 525.5,262.1 526.2,263.1 526.8,258.1 527.5,264.8 528.2,257.8 528.9,264.2 529.5,262.9 530.2,262 530.9,260.5 531.6,261.1 532.2,262.8 532.9,262.7 533.6,259.8 534.2,258.8 534.9,262.5 535.6,259.3 536.3,260.5 536.9,261" fill="none" stroke="#e377c2" stroke-opacity="0.5" stroke-width="0.6" stroke-linejoin="round"/>
<polyline points="352.4,377.5 353.1,382.2 353.7,369.4 354.4,381.4 355.1,368.7 355.8,379.9 356.4,370.6 357.1,367.5 357.8,363.7 358.5,373.4 359.1,379.8 359.8,366.7 360.5,373.8 361.2,375.2 361.8,371.9 362.5,373 363.2,363.8 363.8,365.2 364.5,361.3 365.2,359.9 365.9,365.3 366.5,359.8 367.2,357.3 367.9,353.6 368.6,360.8 369.2,362.7 369.9,365.7 370.6,362.5 371.3,359.4 371.9,357.6 372.6,364.5 373.3,358.8 374,357.4 374.6,358.6 375.3,356.9 376,350.9 376.6,356.5 377.3,349.2 378,355.4 378.7,348.5 379.3,355.1 380,342.6 380.7,343.7 381.4,339.9 382,350.6 382.7,351.9 383.4,350.2 384.1,343.4 384.7,336.1 385.4,336.2 386.1,334.3 386.7,342.3 387.4,328.8 388.1,328.2 388.8,333.2 389.4,341.9 390.1,331.9 390.8,326.3 391.5,315.8 392.1,321.1 392.8,320.5 393.5,310.6 394.2,310.5 394.8,313.3 395.5,310.1 396.2,305.9 396.9,313.1 397.5,306.9 398.2,309.2 398.9,310 399.5,302.1 400.2,297.8 400.9,293.4 401.6,297.1 402.2,293.4 402.9,297.1 403.6,300.7 404.3,294.9 404.9,289.1 405.6,292 406.3,280.4 407,281.8 407.6,286.1 408.3,278 409,280.7 409.6,275.6 410.3,280.7 411,276.7 411.7,278.6 412.3,276.7 413,271.9 413.7,268.7 414.4,273.3 415,272.1 415.7,275.2 416.4,272.5 417.1,269.8 417.7,274.6 418.4,271.6 419.1,273.6 419.8,269.5 420.4,267.2 421.1,268.5 421.8,270 422.4,271.8 423.1,272.8 423.8,268.2 424.5,264.2 425.1,268.7 425.8,268.2 426.5,269.4 427.2,271.1 427.8,265.2 428.5,265.9 429.2,271.8 429.9,270.8 430.5,263.8 431.2,269.8 431.9,267.5 432.5,270.2 433.2,266.7 433.9,269.1 434.6,268.6 435.2,269.6 435.9,261.5 436.6,259.3 437.3,265.6 437.9,264.3 438.6,264.4 439.3,265.8 440,265.8 440.6,266.3 441.3,263.4 442,268.2 442.6,267 443.3,262.8 444,268.3 444.7,260.6 445.3,265.1 446,263.8 446.7,261 447.4,264.4 448,263.9 448.7,266.2 449.4,263.5 450.1,263.2 450.7,267.4 451.4,263.5 452.1,262.6 452.8,263.7 453.4,266.3 454.1,262.1 454.8,260.8 455.4,265.3 456.1,268.9 456.8,266.1 457.5,264.1 458.1,261.1 458.8,261.3 459.5,262.7 460.2,266.1 460.8,262.9 461.5,264.5 462.2,266.8 462.9,268.7 463.5,261.8 464.2,267.7 464.9,260.6 465.5,258.2 466.2,263.3 466.9,265.3 467.6,264.7 468.2,264.8 468.9,262.3 469.6,261.3 470.3,265.5 470.9,264.5 471.6,265.6 472.3,261.5 473,262.2 473.6,266.2 474.3,265.1 475,264 475.7,268.3 476.3,265.4 477,263.7 477.7,267.2 478.3,263.3 479,263.5 479.7,264.9 480.4,261.3 481,265.5 481.7,262.5 482.4,263.8 483.1,261 483.7,265.1 484.4,262.1 485.1,261.9 485.8,260.8 486.4,260 487.1,266.6 487.8,263.6 488.4,265.6 489.1,261.2 489.8,260.3 490.5,263.7 491.1,263 491.8,261 492.5,263.5 493.2,264 493.8,267.1 494.5,265.2 495.2,261.4 495.9,266.2 496.5,262.6 497.2,262.7 497.9,263 498.5,261.4 499.2,264.7 499.9,260.2 500.6,263.6 501.2,260.6 501.9,263.7 502.6,262 503.3,263.2 503.9,259.5 504.6,264.9 505.3,264 506,260 506.6,261.4 507.3,263.1 508,263.7 508.7,265.8 509.3,263.9 510,262.5 510.7,260.6 511.3,261.1 512,259.9 512.7,261.9 513.4,263.8 514,263.3 514.7,259.9 515.4,262.5 516.1,260 516.7,265.4 517.4,263.2 518.1,263.8 518.8,261.8 519.4,263.8 520.1,264.6 520.8,262.2 521.4,265.9 522.1,263 522.8,261.1 523.5,264.2 524.1,262.4 524.8,263.8 525.5,262.7 526.2,261.8 526.8,261.5 527.5,261.6 528.2,263.8 528.9,259.8 529.5,261.8 530.2,263.5 530.9,260.3 531.6,263.2 532.2,259.2 532.9,261.3 533.6,262.9 534.2,263.5 534.9,264.3 535.6,264.3 536.3,263.5 536.9,260.7" fill="none" stroke="#7f7f7f" stroke-opacity="0.5" stroke-width="0.6" stroke-linejoin="round"/>
<polyline points="352.4,368.4 353.1,383.8 353.7,372.3 354.4,373 355.1,372.2 355.8,376.7 356.4,373.8 357.1,373.6 357.8,373.8 358.5,370.7 359.1,368.5 359.8,370.5 360.5,365.2 361.2,362.5 361.8,368.3 362.5,362.3 363.2,364.7 363.8,367.1 364.5,361.3 365.2,357.8 365.9,365.2 366.5,372.2 367.2,359.7 367.9,357.6 368.6,367.3 369.2,362.2 369.9,359.1 370.6,372.6 371.3,355.1 371.9,355.8 372.6,355.4 373.3,350.9 374,362.7 374.6,352.4 375.3,344.6 376,366.3 376.6,355.4 377.3,349.5 378,356 378.7,360.8 379.3,349.6 380,349.9 380.7,353 381.4,346.2 382,343 382.7,341.7 383.4,343 384.1,350.2 384.7,344.8 385.4,353.2 386.1,345.1 386.7,337.2 387.4,334.3 388.1,334.8 388.8,332.6 389.4,341.1 390.1,335.4 390.8,332.7 391.5,327.6 392.1,325.7 392.8,309.5 393.5,314 394.2,322.7 394.8,318.7 395.5,316.1 396.2,314.4 396.9,311.9 397.5,317.6 398.2,300.6 398.9,301.3 399.5,299.3 400.2,299.6 400.9,296.9 401.6,298.2 402.2,303.2 402.9,293.7 403.6,292.1 404.3,296 404.9,298.4 405.6,284 406.3,291.6 407,285.9 407.6,286.9 408.3,276.9 409,287.5 409.6,276.6 410.3,288.7 411,275.5 411.7,279.4 412.3,284.8 413,275.2 413.7,275 414.4,279.4 415,271.8 415.7,272.8 416.4,270.7 417.1,275.3 417.7,273.4 418.4,273.4 419.1,270.4 419.8,271.7 420.4,272.6 421.1,265.9 421.8,270.8 422.4,266.1 423.1,266.3 423.8,270.7 424.5,273.9 425.1,267.7 425.8,266.3 426.5,264.5 427.2,266.9 427.8,266.6 428.5,269.3 429.2,269.6 429.9,258.3 430.5,263.8 431.2,270.2 431.9,265.8 432.5,265.6 433.2,271.3 433.9,266.8 434.6,264.4 435.2,261.4 435.9,261.6 436.6,266.7 437.3,266.6 437.9,266.6 438.6,264.9 439.3,263.2 440,268.3 440.6,265.9 441.3,266.8 442,267.5 442.6,266.7 443.3,260.3 444,260.5 444.7,260.9 445.3,269.1 446,264 446.7,258.6 447.4,263.8 448,266.4 448.7,263 449.4,265 450.1,265.2 450.7,263.6 451.4,262.9 452.1,264.9 452.8,264.2 453.4,266.6 454.1,263.9 454.8,261.8 455.4,263.7 456.1,264.6 456.8,267.7 457.5,261.2 458.1,267.1 458.8,262.9 459.5,265.9 460.2,262.8 460.8,262.4 461.5,265.3 462.2,272.3 462.9,270.1 463.5,267.7 464.2,267.4 464.9,264.2 465.5,259.9 466.2,262.7 466.9,264.6 467.6,260.5 468.2,264.2 468.9,261.5 469.6,262.7 470.3,268.3 470.9,261.3 471.6,259.7 472.3,264.8 473,262 473.6,262.5 474.3,264.3 475,264.6 475.7,261.7 476.3,265 477,264.5 477.7,261 478.3,260.7 479,259.1 479.7,264 480.4,265.5 481,259.7 481.7,265.9 482.4,263.3 483.1,263.1 483.7,258.7 484.4,262.6 485.1,265.4 485.8,262.7 486.4,259.5 487.1,266.5 487.8,265.3 488.4,260.1 489.1,262 489.8,264.2 490.5,262.8 491.1,262.7 491.8,265.6 492.5,264.4 493.2,259.7 493.8,262.4 494.5,260.9 495.2,263.4 495.9,264.2 496.5,262.4 497.2,264.9 497.9,262.1 498.5,263.4 499.2,263.2 499.9,263.2 500.6,264.7 501.2,259.9 501.9,266 502.6,262.3 503.3,265.6 503.9,261.2 504.6,263.5 505.3,262.7 506,262 506.6,262.3 507.3,262.3 508,262.1 508.7,262.2 509.3,263.9 510,263.6 510.7,263.1 511.3,264 512,263.6 512.7,259.8 513.4,265.2 514,259.1 514.7,263.3 515.4,261.1 516.1,262 516.7,262.9 517.4,261 518.1,259.1 518.8,262.4 519.4,262.3 520.1,263.3 520.8,258.7 521.4,260.4 522.1,260.5 522.8,262.3 523.5,266 524.1,261.6 524.8,265.4 525.5,263.4 526.2,260.6 526.8,263.3 527.5,263.5 528.2,266.2 528.9,261.1 529.5,261.4 530.2,262.8 530.9,261.4 531.6,264.9 532.2,263.6 532.9,261.6 533.6,260.5 534.2,261.8 534.9,264.1 535.6,262.9 536.3,260.2 536.9,263.3" fill="none" stroke="#bcbd22" stroke-opacity="0.5" stroke-width="0.6" stroke-linejoin="round"/>
<polyline points="352.4,378.8 353.1,384.8 353.7,381.1 354.4,370.5 355.1,374.1 355.8,365.4 356.4,370.7 357.1,372.1 357.8,367.2 358.5,374.4 359.1,365.2 359.8,369.6 360.5,370.1 361.2,365.9 361.8,369.9 362.5,372.4 363.2,370.7 363.8,362.9 364.5,363.2 365.2,363.9 365.9,361 366.5,368.5 367.2,365.9 367.9,355 368.6,367.3 369.2,356.1 369.9,363.5 370.6,359.5 371.3,360 371.9,361.8 372.6,359.3 373.3,353.7 374,360.9 374.6,360.9 375.3,350.5 376,355.2 376.6,352.8 377.3,352.4 378,352.5 378.7,358.9 379.3,350.1 380,351.2 380.7,353.7 381.4,348.7 382,344.8 382.7,336.3 383.4,346.5 384.1,336.3 384.7,344.8 385.4,338.9 386.1,341.2 386.7,334.8 387.4,336.1 388.1,337.5 388.8,342.4 389.4,328.1 390.1,339.2 390.8,333.3 391.5,319.4 392.1,325.1 392.8,323.7 393.5,322.1 394.2,320.8 394.8,322.1 395.5,316.1 396.2,316.4 396.9,315.5 397.5,310.3 398.2,308.1 398.9,307.6 399.5,302.8 400.2,296.5 400.9,295.9 401.6,301.9 402.2,305.1 402.9,294.1 403.6,297.1 404.3,292.6 404.9,295.5 405.6,289.5 406.3,296.1 407,289.8 407.6,294.6 408.3,280.5 409,287.6 409.6,293 410.3,279.6 411,280 411.7,277 412.3,284.2 413,277.4 413.7,273.6 414.4,277.6 415,275.2 415.7,276.6 416.4,275.8 417.1,269.7 417.7,275.2 418.4,272.2 419.1,270.3 419.8,271 420.4,267.9 421.1,275.4 421.8,266 422.4,272.1 423.1,269 423.8,268.9 424.5,266.5 425.1,268 425.8,268.4 426.5,265.3 427.2,261.7 427.8,268.8 428.5,268.9 429.2,268.2 429.9,269.7 430.5,269.7 431.2,267.7 431.9,265 432.5,268.1 433.2,269.3 433.9,267.4 434.6,269.4 435.2,260.3 435.9,263.8 436.6,267.7 437.3,272.1 437.9,268.8 438.6,269.6 439.3,269.3 440,272.4 440.6,268 441.3,268.3 442,268.5 442.6,269.8 443.3,265.8 444,269.2 444.7,272.3 445.3,269 446,263.9 446.7,263.2 447.4,269 448,266.4 448.7,265 449.4,263.3 450.1,266.3 450.7,264.5 451.4,266.6 452.1,270.2 452.8,263.4 453.4,265.6 454.1,264.4 454.8,265.8 455.4,267.6 456.1,266.7 456.8,264.7 457.5,268.6 458.1,261.2 458.8,259.7 459.5,271.1 460.2,263.5 460.8,266.7 461.5,263.8 462.2,264.6 462.9,265.7 463.5,263.4 464.2,264.9 464.9,261.4 465.5,263.6 466.2,268 466.9,264.6 467.6,264 468.2,264.9 468.9,266 469.6,258.8 470.3,263.9 470.9,263.6 471.6,267.3 472.3,262.7 473,264.1 473.6,261.2 474.3,259.8 475,265.4 475.7,265.5 476.3,261.2 477,261.4 477.7,262.8 478.3,262 479,264.2 479.7,263.5 480.4,263.1 481,267.4 481.7,261.1 482.4,261.1 483.1,265.6 483.7,264.5 484.4,262.7 485.1,261.5 485.8,262.9 486.4,263.7 487.1,261.9 487.8,262.7 488.4,265.1 489.1,263.7 489.8,263.8 490.5,261.5 491.1,265.8 491.8,264.6 492.5,263.7 493.2,262.6 493.8,258 494.5,263.4 495.2,261.1 495.9,261.5 496.5,260.6 497.2,259.4 497.9,262 498.5,264.9 499.2,263.9 499.9,259.9 500.6,258.6 501.2,260.6 501.9,258.1 502.6,261.1 503.3,263.8 503.9,262.2 504.6,261.9 505.3,260.9 506,261 506.6,264.5 507.3,260.8 508,264 508.7,262.4 509.3,261.8 510,261.8 510.7,261.8 511.3,263.5 512,262.6 512.7,260.7 513.4,263.2 514,264.6 514.7,267.2 515.4,262.2 516.1,263.6 516.7,262.4 517.4,264 518.1,262.7 518.8,262.5 519.4,260.2 520.1,263.8 520.8,264.4 521.4,261.8 522.1,260.6 522.8,263.6 523.5,261.2 524.1,262 524.8,261 525.5,265.5 526.2,262 526.8,262.5 527.5,261.8 528.2,263.5 528.9,262.3 529.5,265.9 530.2,262.2 530.9,260.1 531.6,262.1 532.2,262.2 532.9,261.9 533.6,260.1 534.2,263.5 534.9,264.8 535.6,264.3 536.3,263.7 536.9,262.2" fill="none" stroke="#17becf" stroke-opacity="0.5" stroke-width="0.6" stroke-linejoin="round"/>
<polygon points="352.4,370.5 353.1,372.8 353.7,370.6 354.4,367.3 355.1,364 355.8,366.5 356.4,364.8 357.1,367.4 357.8,366 358.5,365 359.1,364 359.8,361.5 360.5,361.1 361.2,361.8 361.8,361.4 362.5,360.5 363.2,359.2 363.8,358.6 364.5,357.4 365.2,357.6 365.9,358.9 366.5,358.5 367.2,357.5 367.9,354.6 368.6,355 369.2,354.2 369.9,353.5 370.6,354 371.3,352.9 371.9,351.3 372.6,351.1 373.3,350.1 374,351.6 374.6,349.8 375.3,347 376,349.3 376.6,346.6 377.3,346.8 378,346.6 378.7,345.6 379.3,341.5 380,341.6 380.7,341.4 381.4,340.5 382,338.2 382.7,335.6 383.4,337.4 384.1,336.6 384.7,332.9 385.4,333 386.1,328.2 386.7,326.8 387.4,324.7 388.1,325 388.8,320.6 389.4,319.8 390.1,317.9 390.8,319.1 391.5,314 392.1,311.2 392.8,311.1 393.5,308.6 394.2,308.3 394.8,305.7 395.5,304.2 396.2,302.9 396.9,300.2 397.5,299.2 398.2,297.7 398.9,295.2 399.5,294.9 400.2,294.1 400.9,291.4 401.6,291.6 402.2,289.9 402.9,289 403.6,287 404.3,286.6 404.9,286.5 405.6,284 406.3,283.4 407,281.9 407.6,281.1 408.3,277.7 409,278 409.6,275.7 410.3,274.9 411,274.1 411.7,275 412.3,273.6 413,270.5 413.7,269.4 414.4,269.9 415,269.4 415.7,269.8 416.4,266.7 417.1,266.5 417.7,267 418.4,265.2 419.1,265.1 419.8,264.5 420.4,264 421.1,264.8 421.8,263.9 422.4,264 423.1,263.7 423.8,263.4 424.5,262.4 425.1,262.3 425.8,262.4 426.5,261.2 427.2,262.1 427.8,261.9 428.5,262.3 429.2,262.3 429.9,261.6 430.5,261.6 431.2,263 431.9,263 432.5,263.2 433.2,262.9 433.9,262.7 434.6,261.8 435.2,261.3 435.9,261.1 436.6,261.2 437.3,261.9 437.9,262.8 438.6,261.9 439.3,261.5 440,261.3 440.6,261.3 441.3,260 442,261.8 442.6,261.3 443.3,261.2 444,260.8 444.7,260.7 445.3,261 446,260.1 446.7,259.2 447.4,259.3 448,259.3 448.7,259.4 449.4,259.4 450.1,259.9 450.7,260.2 451.4,259.3 452.1,260.6 452.8,259.9 453.4,259.2 454.1,259.4 454.8,258.7 455.4,260.3 456.1,260.7 456.8,261.2 457.5,259.9 458.1,259.2 458.8,258.2 459.5,259.5 460.2,259.3 460.8,258.9 461.5,259 462.2,259.9 462.9,259.9 463.5,258.3 464.2,258.8 464.9,258 465.5,257.5 466.2,258.5 466.9,259.1 467.6,257.8 468.2,258.8 468.9,258.1 469.6,258 470.3,259.3 470.9,258.6 471.6,258.6 472.3,257.8 473,257.9 473.6,258.1 474.3,258.3 475,258.5 475.7,258.5 476.3,259 477,258.2 477.7,257.9 478.3,257.6 479,257.9 479.7,258.4 480.4,258 481,257.5 481.7,258.1 482.4,257 483.1,257.7 483.7,257.9 484.4,258.3 485.1,257.6 485.8,256.8 486.4,257.5 487.1,257.3 487.8,259 488.4,258.9 489.1,258.5 489.8,257.4 490.5,257.9 491.1,257.9 491.8,258.1 492.5,258.2 493.2,257.7 493.8,257.1 494.5,257.6 495.2,257 495.9,258.4 496.5,257.4 497.2,257.5 497.9,257 498.5,257.8 499.2,257.2 499.9,257.7 500.6,256.7 501.2,256.1 501.9,257.3 502.6,256.7 503.3,257.1 503.9,257 504.6,257.8 505.3,258.4 506,258.3 506.6,258.3 507.3,258.5 508,259.7 508.7,259.3 509.3,260 510,260.4 510.7,260.5 511.3,260.8 512,260.7 512.7,260.4 513.4,261.1 514,259.4 514.7,260.3 515.4,260.7 516.1,260.4 516.7,260.6 517.4,259.8 518.1,260.2 518.8,260.5 519.4,260.4 520.1,261.4 520.8,259.5 521.4,259.6 522.1,260 522.8,260.4 523.5,260.4 524.1,260.6 524.8,260.2 525.5,260.2 526.2,260.2 526.8,259.9 527.5,260.6 528.2,260.1 528.9,259.6 529.5,260.3 530.2,260.9 530.9,259.7 531.6,260.6 532.2,260.1 532.9,260.1 533.6,259.3 534.2,259.6 534.9,260.4 535.6,259.9 536.3,259.9 536.9,259.7 536.9,263.3 536.3,263.8 535.6,264 534.9,264.7 534.2,263.7 533.6,263.1 532.9,263.6 532.2,263.7 531.6,263.8 530.9,262.7 530.2,263.9 529.5,263.6 528.9,263.9 528.2,263.7 527.5,264.5 526.8,262.8 526.2,263.8 525.5,263.7 524.8,264 524.1,264.6 523.5,264.3 522.8,264.2 522.1,263.6 521.4,263.6 520.8,263.4 520.1,265.1 519.4,263.6 518.8,264.7 518.1,264.5 517.4,264.3 516.7,264.2 516.1,263.5 515.4,264.4 514.7,264.7 514,264.7 513.4,265.8 512.7,264.6 512,264.7 511.3,265.4 510.7,265.7 510,266.8 509.3,267.1 508.7,267.4 508,268.3 507.3,268.3 506.6,269.3 506,270.7 505.3,271.5 504.6,272.4 503.9,271.9 503.3,272.7 502.6,271.9 501.9,273.4 501.2,272.1 500.6,272.8 499.9,273 499.2,272.7 498.5,273.1 497.9,272.7 497.2,273 496.5,272.9 495.9,273.8 495.2,273 494.5,273.6 493.8,273.1 493.2,273.1 492.5,273.6 491.8,273.1 491.1,273.3 490.5,272.9 489.8,272.7 489.1,272.9 488.4,273.3 487.8,273.9 487.1,273.3 486.4,273.8 485.8,273.3 485.1,273.6 484.4,273.9 483.7,273.8 483.1,273.7 482.4,273.9 481.7,274.9 481,274.4 480.4,274 479.7,274 479,273.3 478.3,273.7 477.7,273.3 477,273.6 476.3,274 475.7,273.7 475,273.9 474.3,273.6 473.6,273.8 473,273.4 472.3,273.8 471.6,274 470.9,273.5 470.3,273.9 469.6,273.5 468.9,275.1 468.2,275.7 467.6,274.5 466.9,274.6 466.2,274.4 465.5,273.7 464.9,274.4 464.2,275 463.5,273.8 462.9,275.3 462.2,274.4 461.5,274 460.8,274.1 460.2,275.3 459.5,275.5 458.8,273.9 458.1,273.7 457.5,273.8 456.8,274.4 456.1,275.1 455.4,275.1 454.8,274 454.1,275 453.4,275 452.8,275.3 452.1,276.1 451.4,274.6 450.7,276 450.1,275.4 449.4,275.4 448.7,276 448,275.8 447.4,276.2 446.7,275.5 446,275.9 445.3,276.4 444.7,276.1 444,276.7 443.3,276.5 442.6,276.1 442,277.1 441.3,275.6 440.6,277.3 440,277.2 439.3,277.4 438.6,277.3 437.9,277.8 437.3,277.5 436.6,278 435.9,278.2 435.2,278 434.6,277.8 433.9,278.4 433.2,279.1 432.5,279.4 431.9,279.3 431.2,279.7 430.5,279.4 429.9,280.2 429.2,281.4 428.5,281.2 427.8,281.3 427.2,282.1 426.5,281.8 425.8,282.2 425.1,281.8 424.5,281.5 423.8,282.9 423.1,282.9 422.4,283.3 421.8,283.1 421.1,284.2 420.4,283 419.8,284.3 419.1,284.8 418.4,284.5 417.7,286.1 417.1,285.1 416.4,285.2 415.7,287.1 415,285.7 414.4,287 413.7,287.1 413,288.5 412.3,289.6 411.7,289.7 411,289.2 410.3,291.3 409.6,292 409,293.5 408.3,291.5 407.6,294.4 407,293.7 406.3,295.1 405.6,294.5 404.9,297.2 404.3,299.2 403.6,298.7 402.9,301.7 402.2,303.2 401.6,305.1 400.9,303.2 400.2,304.9 399.5,308.2 398.9,311 398.2,313.3 397.5,314.4 396.9,314.3 396.2,316.6 395.5,318.7 394.8,320.6 394.2,322.8 393.5,324.1 392.8,327.8 392.1,327.2 391.5,330.3 390.8,335.4 390.1,338.1 389.4,338.7 388.8,339.3 388.1,340 387.4,342.6 386.7,343.6 386.1,345.6 385.4,345.7 384.7,345.3 384.1,349.6 383.4,352.1 382.7,349 382,351.4 381.4,352 380.7,352.2 380,353 379.3,353.6 378.7,357.1 378,356.2 377.3,355.2 376.6,357.9 376,360.2 375.3,358.3 374.6,359.1 374,360.8 373.3,359.8 372.6,362.6 371.9,362.2 371.3,365 370.6,364.2 369.9,364.8 369.2,365 368.6,366.9 367.9,365.4 367.2,367.9 366.5,367.6 365.9,369.7 365.2,368.7 364.5,370.7 363.8,371.3 363.2,371.6 362.5,371.4 361.8,372.7 361.2,373 360.5,372.4 359.8,373.4 359.1,375.1 358.5,376.3 357.8,375.2 357.1,376.9 356.4,375.2 355.8,379.4 355.1,377.5 354.4,379.4 353.7,380.7 353.1,383.1 352.4,381.4" fill="#0000ff" fill-opacity="0.27"/>
<polyline points="352.4,375.9 353.1,378 353.7,375.6 354.4,373.3 355.1,370.7 355.8,373 356.4,370 357.1,372.1 357.8,370.6 358.5,370.7 359.1,369.6 359.8,367.5 360.5,366.8 361.2,367.4 361.8,367 362.5,366 363.2,365.4 363.8,364.9 364.5,364 365.2,363.1 365.9,364.3 366.5,363 367.2,362.7 367.9,360 368.6,361 369.2,359.6 369.9,359.1 370.6,359.1 371.3,358.9 371.9,356.7 372.6,356.8 373.3,354.9 374,356.2 374.6,354.5 375.3,352.6 376,354.7 376.6,352.3 377.3,351 378,351.4 378.7,351.4 379.3,347.5 380,347.3 380.7,346.8 381.4,346.3 382,344.8 382.7,342.3 383.4,344.8 384.1,343.1 384.7,339.1 385.4,339.4 386.1,336.9 386.7,335.2 387.4,333.7 388.1,332.5 388.8,330 389.4,329.2 390.1,328 390.8,327.3 391.5,322.2 392.1,319.2 392.8,319.5 393.5,316.3 394.2,315.6 394.8,313.1 395.5,311.4 396.2,309.7 396.9,307.2 397.5,306.8 398.2,305.5 398.9,303.1 399.5,301.5 400.2,299.5 400.9,297.3 401.6,298.4 402.2,296.6 402.9,295.3 403.6,292.8 404.3,292.9 404.9,291.9 405.6,289.2 406.3,289.3 407,287.8 407.6,287.7 408.3,284.6 409,285.8 409.6,283.8 410.3,283.1 411,281.6 411.7,282.3 412.3,281.6 413,279.5 413.7,278.2 414.4,278.4 415,277.5 415.7,278.4 416.4,275.9 417.1,275.8 417.7,276.5 418.4,274.9 419.1,275 419.8,274.4 420.4,273.5 421.1,274.5 421.8,273.5 422.4,273.7 423.1,273.3 423.8,273.2 424.5,271.9 425.1,272 425.8,272.3 426.5,271.5 427.2,272.1 427.8,271.6 428.5,271.8 429.2,271.8 429.9,270.9 430.5,270.5 431.2,271.3 431.9,271.1 432.5,271.3 433.2,271 433.9,270.5 434.6,269.8 435.2,269.7 435.9,269.7 436.6,269.6 437.3,269.7 437.9,270.3 438.6,269.6 439.3,269.4 440,269.2 440.6,269.3 441.3,267.8 442,269.4 442.6,268.7 443.3,268.8 444,268.8 444.7,268.4 445.3,268.7 446,268 446.7,267.3 447.4,267.7 448,267.6 448.7,267.7 449.4,267.4 450.1,267.7 450.7,268.1 451.4,266.9 452.1,268.4 452.8,267.6 453.4,267.1 454.1,267.2 454.8,266.3 455.4,267.7 456.1,267.9 456.8,267.8 457.5,266.9 458.1,266.4 458.8,266.1 459.5,267.5 460.2,267.3 460.8,266.5 461.5,266.5 462.2,267.2 462.9,267.6 463.5,266 464.2,266.9 464.9,266.2 465.5,265.6 466.2,266.5 466.9,266.9 467.6,266.2 468.2,267.3 468.9,266.6 469.6,265.7 470.3,266.6 470.9,266 471.6,266.3 472.3,265.8 473,265.7 473.6,265.9 474.3,266 475,266.2 475.7,266.1 476.3,266.5 477,265.9 477.7,265.6 478.3,265.7 479,265.6 479.7,266.2 480.4,266 481,265.9 481.7,266.5 482.4,265.4 483.1,265.7 483.7,265.8 484.4,266.1 485.1,265.6 485.8,265.1 486.4,265.7 487.1,265.3 487.8,266.4 488.4,266.1 489.1,265.7 489.8,265.1 490.5,265.4 491.1,265.6 491.8,265.6 492.5,265.9 493.2,265.4 493.8,265.1 494.5,265.6 495.2,265 495.9,266.1 496.5,265.1 497.2,265.2 497.9,264.9 498.5,265.4 499.2,264.9 499.9,265.3 500.6,264.8 501.2,264.1 501.9,265.4 502.6,264.3 503.3,264.9 503.9,264.5 504.6,265.1 505.3,265 506,264.5 506.6,263.8 507.3,263.4 508,264 508.7,263.3 509.3,263.6 510,263.6 510.7,263.1 511.3,263.1 512,262.7 512.7,262.5 513.4,263.5 514,262.1 514.7,262.5 515.4,262.6 516.1,261.9 516.7,262.4 517.4,262 518.1,262.4 518.8,262.6 519.4,262 520.1,263.2 520.8,261.4 521.4,261.6 522.1,261.8 522.8,262.3 523.5,262.3 524.1,262.6 524.8,262.1 525.5,261.9 526.2,262 526.8,261.3 527.5,262.5 528.2,261.9 528.9,261.7 529.5,261.9 530.2,262.4 530.9,261.2 531.6,262.2 532.2,261.9 532.9,261.8 533.6,261.2 534.2,261.7 534.9,262.6 535.6,261.9 536.3,261.8 536.9,261.5" fill="none" stroke="#0000ff" stroke-width="1.15" stroke-linejoin="round" stroke-linecap="square"/>
<line x1="343.2" y1="254.6" x2="546.2" y2="254.6" stroke="#ff0000" stroke-width="1" stroke-dasharray="3.1,1.45"/>
</g>
<rect x="343.2" y="246.6" width="203" height="151.3" fill="none" stroke="#000" stroke-width="0.7"/>
<line x1="352.4" y1="397.9" x2="352.4" y2="399.5" stroke="#000" stroke-width="0.5"/>
<text x="352.8" y="405.7" font-size="5.7" text-anchor="middle">0</text>
<line x1="386.1" y1="397.9" x2="386.1" y2="399.5" stroke="#000" stroke-width="0.5"/>
<text x="386.5" y="405.7" font-size="5.7" text-anchor="middle">50</text>
<line x1="419.8" y1="397.9" x2="419.8" y2="399.5" stroke="#000" stroke-width="0.5"/>
<text x="420.2" y="405.7" font-size="5.7" text-anchor="middle">100</text>
<line x1="453.4" y1="397.9" x2="453.4" y2="399.5" stroke="#000" stroke-width="0.5"/>
<text x="453.9" y="405.7" font-size="5.7" text-anchor="middle">150</text>
<line x1="487.1" y1="397.9" x2="487.1" y2="399.5" stroke="#000" stroke-width="0.5"/>
<text x="487.5" y="405.7" font-size="5.7" text-anchor="middle">200</text>
<line x1="520.8" y1="397.9" x2="520.8" y2="399.5" stroke="#000" stroke-width="0.5"/>
<text x="521.2" y="405.7" font-size="5.7" text-anchor="middle">250</text>
<line x1="341.6" y1="247.5" x2="343.2" y2="247.5" stroke="#000" stroke-width="0.5"/>
<text x="339.2" y="249.9" font-size="5.7" text-anchor="end">5000</text>
<line x1="341.6" y1="268.4" x2="343.2" y2="268.4" stroke="#000" stroke-width="0.5"/>
<text x="339.2" y="270.8" font-size="5.7" text-anchor="end">2500</text>
<line x1="341.6" y1="289.3" x2="343.2" y2="289.3" stroke="#000" stroke-width="0.5"/>
<text x="339.2" y="291.7" font-size="5.7" text-anchor="end">0</text>
<line x1="341.6" y1="310.2" x2="343.2" y2="310.2" stroke="#000" stroke-width="0.5"/>
<text x="339.2" y="312.6" font-size="5.7" text-anchor="end">−2500</text>
<line x1="341.6" y1="331.1" x2="343.2" y2="331.1" stroke="#000" stroke-width="0.5"/>
<text x="339.2" y="333.5" font-size="5.7" text-anchor="end">−5000</text>
<line x1="341.6" y1="352" x2="343.2" y2="352" stroke="#000" stroke-width="0.5"/>
<text x="339.2" y="354.4" font-size="5.7" text-anchor="end">−7500</text>
<line x1="341.6" y1="372.9" x2="343.2" y2="372.9" stroke="#000" stroke-width="0.5"/>
<text x="338.9" y="375.3" font-size="5.7" text-anchor="end" letter-spacing="-0.33">−10,000</text>
<line x1="341.6" y1="393.8" x2="343.2" y2="393.8" stroke="#000" stroke-width="0.5"/>
<text x="338.9" y="396.2" font-size="5.7" text-anchor="end" letter-spacing="-0.33">−12,500</text>
<text x="445.1" y="413.8" font-size="5.7" text-anchor="middle">episodes</text>
<clipPath id="yl4"><rect x="310.3" y="246.6" width="20" height="151.3"/></clipPath>
<g clip-path="url(#yl4)"><text transform="translate(313.3,322.2) rotate(-90)" font-size="5.7" text-anchor="middle">rewards</text></g>
<text x="444.7" y="243" font-size="6.8" text-anchor="middle">Learning Curve case 4</text>
<rect x="481.3" y="376.4" width="62.2" height="18.6" rx="1" fill="#fff" fill-opacity="0.8" stroke="#ccc" stroke-width="0.45"/>
<line x1="483.7" y1="381.3" x2="495.3" y2="381.3" stroke="#0000ff" stroke-width="1.2"/>
<line x1="483.7" y1="389.8" x2="495.3" y2="389.8" stroke="#ff0000" stroke-width="1" stroke-dasharray="3.1,1.45"/>
<text x="499.8" y="383.3" font-size="5.7">mean_rewards</text>
<text x="499.8" y="391.8" font-size="5.7">optimal(DP)</text>
</svg>
<div class="cap" style="left:57px;top:192.70px;transform:scaleX(1.0686)"><b>(a)</b> Learning Curve for Case 1</div>
<div class="cap" style="left:364.3px;top:192.70px;transform:scaleX(1.0809)"><b>(b)</b> Learning Curve for Case 2</div>
<div class="cap" style="left:57px;top:425.80px;transform:scaleX(1.0735)"><b>(c)</b> Learning Curve for Case 3</div>
<div class="cap" style="left:364.3px;top:426.00px;transform:scaleX(1.0734)"><b>(d)</b> Learning Curve for Case 4</div>
</body></html>
